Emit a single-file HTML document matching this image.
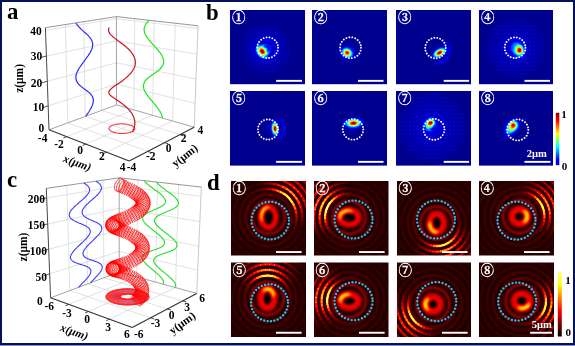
<!DOCTYPE html>
<html><head><meta charset="utf-8"><style>
html,body{margin:0;padding:0;background:#fff}
#fig{position:relative;width:575px;height:346px;overflow:hidden;background:#fff;font-family:"Liberation Serif",serif}
.bd{position:absolute;background:#04125c}
.lbl{position:absolute;font:bold 24px "Liberation Serif",serif;line-height:1;color:#000;transform:scaleX(0.95);transform-origin:0 0}
svg text{font-family:"Liberation Serif",serif;font-weight:bold}
</style></head><body><div id="fig">

<svg style="position:absolute;left:0px;top:0px" width="215" height="176" viewBox="0 0 215 176">
<line x1="67.8" y1="122.9" x2="65.4" y2="24.6" stroke="#d9d9d9" stroke-width="0.8"/>
<line x1="133.9" y1="109.9" x2="134.7" y2="18.6" stroke="#d9d9d9" stroke-width="0.8"/>
<line x1="66.6" y1="136.7" x2="133.9" y2="109.9" stroke="#d9d9d9" stroke-width="0.8"/>
<line x1="67.8" y1="122.9" x2="147.7" y2="151.3" stroke="#d9d9d9" stroke-width="0.8"/>
<line x1="85.3" y1="116.5" x2="83.7" y2="21.7" stroke="#d9d9d9" stroke-width="0.8"/>
<line x1="152.6" y1="115.3" x2="154.2" y2="20.9" stroke="#d9d9d9" stroke-width="0.8"/>
<line x1="85.8" y1="144.1" x2="152.6" y2="115.3" stroke="#d9d9d9" stroke-width="0.8"/>
<line x1="85.3" y1="116.5" x2="164.5" y2="142.6" stroke="#d9d9d9" stroke-width="0.8"/>
<line x1="101.5" y1="110.5" x2="100.7" y2="19.1" stroke="#d9d9d9" stroke-width="0.8"/>
<line x1="172.6" y1="121" x2="175.3" y2="23.2" stroke="#d9d9d9" stroke-width="0.8"/>
<line x1="106.6" y1="152.1" x2="172.6" y2="121" stroke="#d9d9d9" stroke-width="0.8"/>
<line x1="101.5" y1="110.5" x2="180" y2="134.6" stroke="#d9d9d9" stroke-width="0.8"/>
<line x1="48.1" y1="105.9" x2="116.5" y2="84.1" stroke="#d9d9d9" stroke-width="0.8"/>
<line x1="116.5" y1="84.1" x2="195.1" y2="103.4" stroke="#d9d9d9" stroke-width="0.8"/>
<line x1="47.3" y1="81.3" x2="116.5" y2="62.8" stroke="#d9d9d9" stroke-width="0.8"/>
<line x1="116.5" y1="62.8" x2="196" y2="79" stroke="#d9d9d9" stroke-width="0.8"/>
<line x1="46.4" y1="56.1" x2="116.5" y2="41" stroke="#d9d9d9" stroke-width="0.8"/>
<line x1="116.5" y1="41" x2="197" y2="54" stroke="#d9d9d9" stroke-width="0.8"/>
<line x1="45.5" y1="30.3" x2="116.4" y2="18.8" stroke="#d9d9d9" stroke-width="0.8"/>
<line x1="116.4" y1="18.8" x2="197.9" y2="28.4" stroke="#d9d9d9" stroke-width="0.8"/>
<line x1="116.5" y1="104.9" x2="116.4" y2="16.6" stroke="#9a9a9a" stroke-width="0.9"/>
<line x1="45.4" y1="27.7" x2="116.4" y2="16.6" stroke="#8a8a8a" stroke-width="0.9"/>
<line x1="116.4" y1="16.6" x2="198" y2="25.8" stroke="#8a8a8a" stroke-width="0.9"/>
<line x1="194.2" y1="127.2" x2="198" y2="25.8" stroke="#bdbdbd" stroke-width="0.8"/>
<line x1="49" y1="129.8" x2="116.5" y2="104.9" stroke="#9a9a9a" stroke-width="0.9"/>
<line x1="116.5" y1="104.9" x2="194.2" y2="127.2" stroke="#9a9a9a" stroke-width="0.9"/>
<line x1="49" y1="129.8" x2="45.4" y2="27.7" stroke="#4a4a4a" stroke-width="1.0"/>
<line x1="49" y1="129.8" x2="129.2" y2="160.9" stroke="#333" stroke-width="1.1"/>
<line x1="129.2" y1="160.9" x2="194.2" y2="127.2" stroke="#333" stroke-width="1.1"/>
<polyline points="131.9,131.8 132.5,131.5 133.1,131.2 133.6,130.9 134,130.5 134.3,130.1 134.5,129.8 134.7,129.4 134.8,129 134.8,128.6 134.7,128.2 134.5,127.9 134.3,127.5 134,127.1 133.6,126.8 133.1,126.4 132.6,126.1 132,125.8 131.3,125.5 130.6,125.2 129.8,125 129,124.7 128.1,124.5 127.3,124.3 126.3,124.2 125.4,124.1 124.4,124 123.4,123.9 122.4,123.8 121.4,123.8 120.4,123.8 119.5,123.9 118.5,124 117.5,124.1 116.6,124.2 115.7,124.3 114.9,124.5 114,124.7 113.3,125 112.5,125.2 111.9,125.5 111.3,125.8 110.7,126.1 110.3,126.4 109.9,126.8 109.5,127.1 109.3,127.5 109.1,127.8 109,128.2 109,128.6 109.1,129 109.2,129.4 109.5,129.8 109.8,130.1 110.2,130.5 110.6,130.8 111.2,131.2 111.8,131.5 112.5,131.8 113.2,132.1 114,132.4 114.9,132.6 115.8,132.8 116.7,133 117.7,133.2 118.7,133.3 119.7,133.4 120.8,133.5 121.8,133.5 122.9,133.5 123.9,133.5 125,133.4 126,133.3 126.9,133.2 127.9,133 128.8,132.8 129.7,132.6 130.5,132.4 131.2,132.1 131.9,131.8" fill="none" stroke="#f23c3c" stroke-width="1.1"/>
<polyline points="85.8,116.3 86.3,115.5 86.8,114.7 87.4,114 87.9,113.2 88.4,112.5 88.9,111.7 89.3,111 89.8,110.3 90.2,109.5 90.6,108.8 91,108.1 91.4,107.4 91.7,106.7 92,106.1 92.3,105.4 92.5,104.7 92.8,104.1 92.9,103.5 93.1,102.8 93.2,102.2 93.3,101.6 93.3,101 93.4,100.5 93.3,99.9 93.3,99.4 93.2,98.8 93.1,98.3 92.9,97.8 92.7,97.3 92.5,96.8 92.2,96.3 91.9,95.8 91.6,95.3 91.3,94.9 90.9,94.4 90.5,94 90.1,93.5 89.6,93.1 89.2,92.7 88.7,92.2 88.2,91.8 87.6,91.4 87.1,91 86.6,90.6 86,90.2 85.4,89.7 84.9,89.3 84.3,88.9 83.7,88.5 83.2,88.1 82.6,87.7 82.1,87.2 81.5,86.8 81,86.4 80.5,85.9 80,85.5 79.5,85 79.1,84.6 78.6,84.1 78.2,83.6 77.8,83.1 77.5,82.6 77.2,82.1 76.9,81.6 76.6,81.1 76.4,80.5 76.2,80 76.1,79.4 76,78.8 75.9,78.2 75.9,77.6 75.9,77 75.9,76.4 76,75.8 76.1,75.1 76.2,74.5 76.4,73.8 76.7,73.2 76.9,72.5 77.2,71.8 77.5,71.1 77.9,70.4 78.3,69.7 78.7,69 79.1,68.3 79.6,67.5 80.1,66.8 80.5,66.1 81.1,65.3 81.6,64.6 82.1,63.9 82.7,63.1 83.2,62.4 83.8,61.6 84.3,60.9 84.9,60.2 85.4,59.4 86,58.7 86.5,58 87,57.2 87.6,56.5 88.1,55.8 88.5,55.1 89,54.4 89.5,53.7 89.9,53 90.3,52.3 90.6,51.6 91,50.9 91.3,50.3 91.6,49.6 91.8,48.9 92.1,48.3 92.3,47.7 92.4,47 92.5,46.4 92.6,45.8 92.7,45.2 92.7,44.6 92.7,44 92.6,43.4 92.5,42.8 92.4,42.2 92.2,41.7 92,41.1 91.8,40.5 91.5,40 91.2,39.4 90.9,38.9 90.5,38.4 90.1,37.8 89.7,37.3 89.3,36.8 88.8,36.3 88.3,35.7 87.8,35.2 87.3,34.7 86.8,34.2 86.2,33.7 85.7,33.2 85.1,32.7 84.5,32.2 83.9,31.6 83.3,31.1 82.8,30.6 82.2,30.1 81.6,29.6 81,29 80.5,28.5 79.9,28 79.4,27.4 78.9,26.9 78.4,26.3 77.9,25.8 77.5,25.2 77.1,24.7 76.7,24.1 76.3,23.5 76,22.9" fill="none" stroke="#2b2bff" stroke-width="1.2"/>
<polyline points="162.4,118.1 162.4,117.5 162.3,116.9 162.2,116.3 162,115.7 161.8,115 161.5,114.4 161.2,113.7 160.9,113 160.5,112.3 160.1,111.7 159.7,111 159.2,110.2 158.8,109.5 158.2,108.8 157.7,108.1 157.1,107.4 156.6,106.6 156,105.9 155.4,105.1 154.8,104.4 154.1,103.7 153.5,102.9 152.9,102.2 152.3,101.4 151.6,100.7 151,100 150.4,99.2 149.8,98.5 149.2,97.8 148.7,97 148.1,96.3 147.6,95.6 147.1,94.9 146.6,94.2 146.2,93.5 145.8,92.9 145.4,92.2 145,91.5 144.7,90.9 144.4,90.2 144.1,89.6 143.9,89 143.7,88.4 143.6,87.8 143.5,87.2 143.5,86.6 143.4,86 143.5,85.4 143.5,84.9 143.6,84.3 143.8,83.8 144,83.2 144.2,82.7 144.4,82.2 144.7,81.7 145.1,81.2 145.4,80.7 145.8,80.2 146.3,79.7 146.7,79.2 147.2,78.8 147.8,78.3 148.3,77.8 148.9,77.4 149.4,76.9 150.1,76.4 150.7,76 151.3,75.5 151.9,75.1 152.6,74.6 153.2,74.2 153.9,73.7 154.6,73.3 155.2,72.8 155.9,72.3 156.5,71.9 157.1,71.4 157.7,70.9 158.3,70.5 158.9,70 159.5,69.5 160,69 160.5,68.5 161,68 161.4,67.4 161.8,66.9 162.2,66.4 162.5,65.8 162.8,65.3 163,64.7 163.3,64.2 163.4,63.6 163.6,63 163.6,62.4 163.7,61.8 163.7,61.2 163.6,60.5 163.5,59.9 163.4,59.3 163.2,58.6 163,58 162.7,57.3 162.4,56.7 162.1,56 161.7,55.3 161.3,54.6 160.9,53.9 160.4,53.2 159.9,52.5 159.3,51.8 158.8,51.1 158.2,50.4 157.6,49.7 157,49 156.4,48.3 155.8,47.6 155.1,46.9 154.5,46.2 153.8,45.4 153.2,44.7 152.6,44 151.9,43.3 151.3,42.6 150.7,41.9 150.1,41.2 149.5,40.5 148.9,39.8 148.4,39.1 147.9,38.5 147.4,37.8 146.9,37.1 146.5,36.4 146.1,35.8 145.7,35.1 145.4,34.5 145.1,33.8 144.8,33.2 144.6,32.6 144.4,31.9 144.3,31.3 144.2,30.7 144.2,30.1 144.1,29.5 144.2,28.9 144.2,28.3 144.3,27.7 144.5,27.1 144.7,26.5 144.9,25.9 145.2,25.3 145.5,24.8 145.8,24.2 146.2,23.6 146.6,23.1 147.1,22.5 147.6,22 148.1,21.4 148.6,20.8 149.2,20.3" fill="none" stroke="#19e619" stroke-width="1.2"/>
<polyline points="132.4,131.6 132.9,130.7 133.3,129.8 133.7,128.9 134,128 134.3,127.1 134.5,126.2 134.7,125.3 134.8,124.4 134.8,123.4 134.8,122.5 134.8,121.6 134.7,120.7 134.5,119.8 134.3,118.9 134,118 133.7,117.1 133.3,116.2 132.9,115.3 132.4,114.5 131.9,113.6 131.4,112.8 130.8,112 130.2,111.2 129.5,110.4 128.8,109.6 128.1,108.9 127.4,108.1 126.6,107.4 125.8,106.7 125,106 124.2,105.3 123.4,104.7 122.6,104 121.7,103.4 120.9,102.8 120.1,102.2 119.3,101.7 118.5,101.1 117.7,100.6 116.9,100.1 116.1,99.5 115.4,99.1 114.7,98.6 114,98.1 113.4,97.7 112.8,97.2 112.2,96.8 111.6,96.4 111.1,96 110.7,95.5 110.3,95.2 109.9,94.8 109.6,94.4 109.3,94 109.1,93.6 109,93.2 108.9,92.9 108.8,92.5 108.9,92.1 108.9,91.7 109.1,91.4 109.2,91 109.5,90.6 109.8,90.2 110.1,89.8 110.5,89.4 111,88.9 111.5,88.5 112,88 112.6,87.6 113.2,87.1 113.9,86.6 114.6,86.1 115.4,85.6 116.2,85.1 117,84.5 117.8,84 118.6,83.4 119.5,82.8 120.4,82.2 121.3,81.5 122.2,80.9 123.1,80.2 123.9,79.6 124.8,78.9 125.7,78.1 126.5,77.4 127.4,76.7 128.2,75.9 128.9,75.2 129.7,74.4 130.4,73.6 131.1,72.8 131.7,72 132.3,71.2 132.8,70.3 133.3,69.5 133.8,68.7 134.2,67.8 134.5,67 134.8,66.1 135,65.3 135.2,64.4 135.3,63.5 135.3,62.7 135.3,61.8 135.3,61 135.1,60.1 135,59.3 134.7,58.5 134.5,57.6 134.1,56.8 133.7,56 133.3,55.2 132.8,54.4 132.3,53.6 131.7,52.8 131.1,52 130.5,51.2 129.8,50.5 129.1,49.7 128.4,49 127.6,48.3 126.8,47.6 126,46.9 125.2,46.2 124.4,45.5 123.5,44.8 122.7,44.2 121.8,43.5 121,42.9 120.1,42.3 119.3,41.6 118.5,41 117.6,40.4 116.8,39.8 116.1,39.3 115.3,38.7 114.6,38.1 113.9,37.6 113.2,37 112.6,36.5 112,35.9 111.4,35.4 110.9,34.9 110.4,34.3 110,33.8 109.7,33.3 109.3,32.7 109.1,32.2 108.9,31.7 108.7,31.2 108.6,30.7 108.6,30.1 108.6,29.6 108.6,29.1 108.8,28.5 109,28 109.2,27.5" fill="none" stroke="#c4161c" stroke-width="1.2"/>
<line x1="48.1" y1="105.9" x2="42.1" y2="107.8" stroke="#444" stroke-width="0.9"/>
<line x1="47.3" y1="81.3" x2="41.2" y2="82.9" stroke="#444" stroke-width="0.9"/>
<line x1="46.4" y1="56.1" x2="40.2" y2="57.5" stroke="#444" stroke-width="0.9"/>
<line x1="66.6" y1="136.7" x2="63.5" y2="137.9" stroke="#333" stroke-width="0.9"/>
<line x1="147.7" y1="151.3" x2="151.5" y2="152.7" stroke="#333" stroke-width="0.9"/>
<line x1="85.8" y1="144.1" x2="82.6" y2="145.4" stroke="#333" stroke-width="0.9"/>
<line x1="164.5" y1="142.6" x2="168.3" y2="143.8" stroke="#333" stroke-width="0.9"/>
<line x1="106.6" y1="152.1" x2="103.4" y2="153.6" stroke="#333" stroke-width="0.9"/>
<line x1="180" y1="134.6" x2="183.7" y2="135.7" stroke="#333" stroke-width="0.9"/>
<g font-size="11.5" fill="#000"><text x="41.7" y="35.4" text-anchor="end">40</text>
<text x="42.3" y="60.3" text-anchor="end">30</text>
<text x="42.3" y="87" text-anchor="end">20</text>
<text x="44.3" y="111.3" text-anchor="end">10</text>
<text x="44.3" y="132.4" text-anchor="end">0</text>
<text x="42.6" y="142.2" text-anchor="middle">-4</text>
<text x="59" y="147.7" text-anchor="middle">-2</text>
<text x="80" y="153.9" text-anchor="middle">0</text>
<text x="101.8" y="160.4" text-anchor="middle">2</text>
<text x="122.5" y="171.2" text-anchor="middle">4</text>
<text x="131.5" y="171.2" text-anchor="middle">-4</text>
<text x="150.7" y="159.6" text-anchor="middle">-2</text>
<text x="168.7" y="152.3" text-anchor="middle">0</text>
<text x="183.6" y="141.9" text-anchor="middle">2</text>
<text x="200.3" y="134.1" text-anchor="middle">4</text>
<text x="0" y="0" text-anchor="middle" font-style="italic" transform="translate(76,166.5) rotate(20)">x(μm)</text>
<text x="0" y="0" text-anchor="middle" transform="translate(187,158.5) rotate(-38)">y(μm)</text>
<text x="0" y="0" text-anchor="middle" transform="translate(23.3,78.4) rotate(-90)">z(μm)</text></g>
</svg>
<svg style="position:absolute;left:0px;top:170px" width="215" height="176" viewBox="0 170 215 176">
<line x1="69.8" y1="290.6" x2="66.8" y2="185.4" stroke="#d9d9d9" stroke-width="0.8"/>
<line x1="136.8" y1="276.9" x2="137.7" y2="179.9" stroke="#d9d9d9" stroke-width="0.8"/>
<line x1="68.8" y1="304.4" x2="136.8" y2="276.9" stroke="#d9d9d9" stroke-width="0.8"/>
<line x1="69.8" y1="290.6" x2="150.6" y2="317.8" stroke="#d9d9d9" stroke-width="0.8"/>
<line x1="87.6" y1="283.9" x2="85.7" y2="182.7" stroke="#d9d9d9" stroke-width="0.8"/>
<line x1="155.5" y1="282.1" x2="157.5" y2="182.1" stroke="#d9d9d9" stroke-width="0.8"/>
<line x1="88.4" y1="311.5" x2="155.5" y2="282.1" stroke="#d9d9d9" stroke-width="0.8"/>
<line x1="87.6" y1="283.9" x2="167.3" y2="308.9" stroke="#d9d9d9" stroke-width="0.8"/>
<line x1="104" y1="277.8" x2="103.1" y2="180.1" stroke="#d9d9d9" stroke-width="0.8"/>
<line x1="175.5" y1="287.6" x2="178.7" y2="184.5" stroke="#d9d9d9" stroke-width="0.8"/>
<line x1="109.4" y1="319.2" x2="175.5" y2="287.6" stroke="#d9d9d9" stroke-width="0.8"/>
<line x1="104" y1="277.8" x2="182.7" y2="300.9" stroke="#d9d9d9" stroke-width="0.8"/>
<line x1="49.7" y1="273.9" x2="119.2" y2="251.3" stroke="#d9d9d9" stroke-width="0.8"/>
<line x1="119.2" y1="251.3" x2="197.8" y2="270.1" stroke="#d9d9d9" stroke-width="0.8"/>
<line x1="48.7" y1="249.3" x2="119.2" y2="230" stroke="#d9d9d9" stroke-width="0.8"/>
<line x1="119.2" y1="230" x2="198.8" y2="246.2" stroke="#d9d9d9" stroke-width="0.8"/>
<line x1="47.7" y1="224" x2="119.2" y2="208.2" stroke="#d9d9d9" stroke-width="0.8"/>
<line x1="119.2" y1="208.2" x2="199.9" y2="221.6" stroke="#d9d9d9" stroke-width="0.8"/>
<line x1="46.7" y1="198" x2="119.2" y2="185.9" stroke="#d9d9d9" stroke-width="0.8"/>
<line x1="119.2" y1="185.9" x2="201" y2="196.3" stroke="#d9d9d9" stroke-width="0.8"/>
<line x1="119.2" y1="272" x2="119.2" y2="177.8" stroke="#9a9a9a" stroke-width="0.9"/>
<line x1="46.3" y1="188.4" x2="119.2" y2="177.8" stroke="#8a8a8a" stroke-width="0.9"/>
<line x1="119.2" y1="177.8" x2="201.4" y2="187.1" stroke="#8a8a8a" stroke-width="0.9"/>
<line x1="196.7" y1="293.4" x2="201.4" y2="187.1" stroke="#bdbdbd" stroke-width="0.8"/>
<line x1="50.6" y1="297.8" x2="119.2" y2="272" stroke="#9a9a9a" stroke-width="0.9"/>
<line x1="119.2" y1="272" x2="196.7" y2="293.4" stroke="#9a9a9a" stroke-width="0.9"/>
<line x1="50.6" y1="297.8" x2="46.3" y2="188.4" stroke="#4a4a4a" stroke-width="1.0"/>
<line x1="50.6" y1="297.8" x2="132.2" y2="327.5" stroke="#333" stroke-width="1.1"/>
<line x1="132.2" y1="327.5" x2="196.7" y2="293.4" stroke="#333" stroke-width="1.1"/>
<polyline points="78.5,287.3 79,286.8 79.5,286.3 80,285.8 80.5,285.3 81,284.7 81.5,284.2 82,283.7 82.5,283.2 83,282.7 83.5,282.2 84,281.7 84.5,281.2 85,280.7 85.4,280.2 85.9,279.7 86.3,279.2 86.7,278.7 87.1,278.3 87.5,277.8 87.9,277.3 88.2,276.9 88.6,276.4 88.9,276 89.2,275.6 89.4,275.2 89.7,274.7 89.9,274.3 90.1,273.9 90.3,273.5 90.5,273.2 90.6,272.8 90.7,272.4 90.8,272.1 90.9,271.7 90.9,271.4 90.9,271.1 90.9,270.8 90.8,270.5 90.8,270.2 90.7,269.9 90.6,269.6 90.4,269.3 90.2,269 90,268.8 89.8,268.5 89.6,268.3 89.3,268 89,267.8 88.7,267.6 88.4,267.4 88,267.2 87.7,267 87.3,266.8 86.9,266.6 86.5,266.4 86,266.2 85.6,266 85.1,265.8 84.6,265.7 84.2,265.5 83.7,265.3 83.2,265.2 82.6,265 82.1,264.8 81.6,264.7 81.1,264.5 80.5,264.4 80,264.2 79.5,264 79,263.9 78.5,263.7 77.9,263.5 77.4,263.3 76.9,263.2 76.4,263 76,262.8 75.5,262.6 75,262.4 74.6,262.2 74.2,262 73.8,261.8 73.4,261.6 73,261.3 72.7,261.1 72.4,260.9 72.1,260.6 71.8,260.4 71.5,260.1 71.3,259.8 71.1,259.5 70.9,259.2 70.8,258.9 70.7,258.6 70.6,258.3 70.5,258 70.5,257.7 70.5,257.3 70.5,257 70.5,256.6 70.6,256.2 70.7,255.9 70.9,255.5 71,255.1 71.2,254.7 71.4,254.3 71.7,253.8 71.9,253.4 72.2,253 72.5,252.5 72.9,252.1 73.2,251.7 73.6,251.2 74,250.7 74.4,250.3 74.8,249.8 75.3,249.3 75.7,248.9 76.2,248.4 76.7,247.9 77.2,247.4 77.6,246.9 78.2,246.4 78.7,245.9 79.2,245.5 79.7,245 80.2,244.5 80.7,244 81.2,243.5 81.8,243 82.3,242.5 82.8,242.1 83.3,241.6 83.8,241.1 84.2,240.6 84.7,240.2 85.2,239.7 85.6,239.2 86,238.8 86.4,238.3 86.8,237.9 87.2,237.4 87.6,237 87.9,236.6 88.2,236.2 88.5,235.7 88.8,235.3 89.1,234.9 89.3,234.5 89.5,234.1 89.7,233.7 89.8,233.4 90,233 90.1,232.6 90.2,232.3 90.2,231.9 90.2,231.6 90.2,231.2 90.2,230.9 90.2,230.6 90.1,230.2 90,229.9 89.9,229.6 89.7,229.3 89.5,229 89.3,228.7 89.1,228.5 88.8,228.2 88.6,227.9 88.3,227.6 88,227.4 87.6,227.1 87.3,226.9 86.9,226.6 86.5,226.4 86.1,226.1 85.6,225.9 85.2,225.7 84.7,225.4 84.2,225.2 83.7,225 83.2,224.8 82.7,224.5 82.2,224.3 81.7,224.1 81.2,223.9 80.6,223.6 80.1,223.4 79.5,223.2 79,223 78.5,222.7 77.9,222.5 77.4,222.3 76.9,222.1 76.3,221.8 75.8,221.6 75.3,221.3 74.8,221.1 74.4,220.9 73.9,220.6 73.5,220.3 73,220.1 72.6,219.8 72.2,219.6 71.9,219.3 71.5,219 71.2,218.7 70.9,218.4 70.6,218.1 70.3,217.8 70.1,217.5 69.9,217.2 69.7,216.9 69.6,216.5 69.5,216.2 69.4,215.9 69.3,215.5 69.3,215.2 69.3,214.8 69.3,214.4 69.4,214.1 69.5,213.7 69.6,213.3 69.7,212.9 69.9,212.5 70.1,212.1 70.3,211.7 70.6,211.3 70.8,210.9 71.1,210.4 71.5,210 71.8,209.6 72.2,209.1 72.6,208.7 73,208.3 73.4,207.8 73.8,207.4 74.3,206.9 74.7,206.5 75.2,206 75.7,205.6 76.2,205.1 76.7,204.6 77.3,204.2 77.8,203.7 78.3,203.3 78.8,202.8 79.4,202.4 79.9,201.9 80.4,201.4 81,201 81.5,200.5 82,200.1 82.5,199.6 83,199.2 83.5,198.7 84,198.3 84.4,197.9 84.9,197.4 85.3,197 85.7,196.6 86.1,196.1 86.5,195.7 86.9,195.3 87.2,194.9 87.5,194.5 87.8,194.1 88.1,193.7 88.4,193.3 88.6,192.9 88.8,192.5 89,192.1 89.2,191.7 89.3,191.4 89.4,191 89.5,190.6 89.5,190.3 89.6,189.9 89.6,189.5 89.5,189.2 89.5,188.9 89.4,188.5 89.3,188.2 89.1,187.8 89,187.5 88.8,187.2 88.6,186.9 88.3,186.5 88.1,186.2 87.8,185.9 87.5,185.6 87.2,185.3 86.8,185 86.4,184.7 86,184.4 85.6,184.1 85.2,183.8 84.7,183.5 84.3,183.2 83.8,182.9" fill="none" stroke="#3b3bff" stroke-width="1.1"/>
<polyline points="90.4,282.9 90.9,282.4 91.4,281.9 91.8,281.4 92.3,280.9 92.8,280.4 93.3,279.9 93.8,279.4 94.2,278.9 94.7,278.4 95.2,277.9 95.6,277.4 96.1,276.9 96.5,276.4 97,276 97.4,275.5 97.8,275 98.2,274.6 98.6,274.1 99,273.6 99.3,273.2 99.7,272.8 100,272.3 100.3,271.9 100.6,271.5 100.8,271.1 101.1,270.7 101.3,270.3 101.5,269.9 101.7,269.5 101.8,269.2 101.9,268.8 102,268.4 102.1,268.1 102.2,267.8 102.2,267.4 102.2,267.1 102.2,266.8 102.2,266.5 102.1,266.2 102,265.9 101.9,265.7 101.8,265.4 101.6,265.1 101.4,264.9 101.2,264.6 101,264.4 100.7,264.1 100.5,263.9 100.2,263.7 99.9,263.5 99.5,263.3 99.2,263.1 98.8,262.9 98.5,262.7 98.1,262.5 97.6,262.3 97.2,262.1 96.8,262 96.3,261.8 95.9,261.6 95.4,261.5 94.9,261.3 94.4,261.1 94,261 93.5,260.8 93,260.6 92.5,260.5 92,260.3 91.5,260.1 91,260 90.5,259.8 90,259.6 89.5,259.5 89.1,259.3 88.6,259.1 88.1,258.9 87.7,258.7 87.3,258.5 86.9,258.3 86.5,258.1 86.1,257.9 85.7,257.7 85.4,257.5 85.1,257.2 84.8,257 84.5,256.7 84.2,256.5 84,256.2 83.8,256 83.6,255.7 83.4,255.4 83.3,255.1 83.2,254.8 83.1,254.5 83,254.2 83,253.8 83,253.5 83,253.2 83.1,252.8 83.1,252.5 83.2,252.1 83.4,251.7 83.5,251.3 83.7,250.9 83.9,250.5 84.1,250.1 84.4,249.7 84.7,249.3 85,248.9 85.3,248.5 85.6,248 86,247.6 86.3,247.1 86.7,246.7 87.1,246.2 87.6,245.8 88,245.3 88.4,244.8 88.9,244.4 89.4,243.9 89.8,243.4 90.3,243 90.8,242.5 91.3,242 91.8,241.6 92.3,241.1 92.8,240.6 93.3,240.1 93.7,239.7 94.2,239.2 94.7,238.7 95.2,238.3 95.6,237.8 96.1,237.4 96.5,236.9 97,236.5 97.4,236 97.8,235.6 98.2,235.1 98.6,234.7 98.9,234.3 99.3,233.8 99.6,233.4 99.9,233 100.2,232.6 100.4,232.2 100.7,231.8 100.9,231.4 101.1,231.1 101.3,230.7 101.4,230.3 101.6,229.9 101.7,229.6 101.7,229.2 101.8,228.9 101.8,228.6 101.8,228.2 101.8,227.9 101.8,227.6 101.7,227.3 101.6,227 101.5,226.7 101.3,226.4 101.2,226.1 101,225.8 100.8,225.5 100.5,225.3 100.3,225 100,224.7 99.7,224.5 99.4,224.2 99,224 98.7,223.7 98.3,223.5 97.9,223.2 97.5,223 97.1,222.8 96.6,222.5 96.2,222.3 95.7,222.1 95.2,221.9 94.8,221.7 94.3,221.4 93.8,221.2 93.3,221 92.8,220.8 92.3,220.5 91.8,220.3 91.2,220.1 90.7,219.9 90.2,219.7 89.7,219.4 89.2,219.2 88.7,219 88.3,218.7 87.8,218.5 87.3,218.3 86.9,218 86.5,217.8 86,217.5 85.6,217.3 85.2,217 84.9,216.7 84.5,216.5 84.2,216.2 83.9,215.9 83.6,215.6 83.3,215.3 83.1,215 82.9,214.7 82.7,214.4 82.5,214.1 82.4,213.8 82.3,213.5 82.2,213.1 82.2,212.8 82.1,212.4 82.1,212.1 82.2,211.7 82.2,211.4 82.3,211 82.4,210.6 82.5,210.2 82.7,209.9 82.9,209.5 83.1,209.1 83.3,208.7 83.6,208.3 83.9,207.9 84.2,207.4 84.5,207 84.9,206.6 85.2,206.2 85.6,205.7 86,205.3 86.5,204.9 86.9,204.4 87.3,204 87.8,203.6 88.3,203.1 88.7,202.7 89.2,202.2 89.7,201.8 90.2,201.4 90.7,200.9 91.2,200.5 91.7,200 92.2,199.6 92.7,199.1 93.2,198.7 93.7,198.3 94.2,197.8 94.7,197.4 95.2,197 95.6,196.5 96.1,196.1 96.5,195.7 97,195.3 97.4,194.8 97.8,194.4 98.1,194 98.5,193.6 98.9,193.2 99.2,192.8 99.5,192.4 99.8,192 100.1,191.6 100.3,191.2 100.5,190.8 100.7,190.5 100.9,190.1 101,189.7 101.2,189.4 101.3,189 101.3,188.6 101.4,188.3 101.4,187.9 101.4,187.6 101.4,187.3 101.3,186.9 101.3,186.6 101.2,186.3 101,185.9 100.9,185.6 100.7,185.3 100.5,185 100.3,184.7 100,184.4 99.8,184.1 99.5,183.8 99.2,183.5 98.8,183.2 98.5,182.9 98.1,182.6 97.7,182.3 97.3,182 96.9,181.7 96.5,181.4 96,181.1" fill="none" stroke="#3b3bff" stroke-width="1.1"/>
<polyline points="162.9,284.1 163.1,283.8 163.2,283.5 163.4,283.3 163.4,283 163.5,282.6 163.5,282.3 163.5,282 163.4,281.7 163.4,281.3 163.3,281 163.1,280.6 163,280.2 162.8,279.9 162.5,279.5 162.3,279.1 162,278.7 161.7,278.3 161.4,277.9 161.1,277.5 160.7,277 160.3,276.6 159.9,276.2 159.5,275.8 159,275.3 158.5,274.9 158.1,274.4 157.6,274 157.1,273.5 156.5,273.1 156,272.6 155.5,272.1 154.9,271.7 154.4,271.2 153.8,270.7 153.3,270.3 152.7,269.8 152.1,269.3 151.6,268.9 151,268.4 150.5,268 150,267.5 149.4,267.1 148.9,266.6 148.4,266.2 147.9,265.7 147.4,265.3 146.9,264.8 146.5,264.4 146.1,264 145.6,263.5 145.3,263.1 144.9,262.7 144.5,262.3 144.2,261.9 143.9,261.5 143.6,261.1 143.3,260.7 143.1,260.4 142.9,260 142.7,259.6 142.5,259.3 142.4,258.9 142.3,258.6 142.2,258.3 142.2,257.9 142.2,257.6 142.2,257.3 142.2,257 142.3,256.7 142.4,256.4 142.5,256.1 142.7,255.8 142.9,255.5 143.1,255.3 143.3,255 143.6,254.7 143.9,254.5 144.2,254.2 144.5,254 144.9,253.8 145.2,253.5 145.6,253.3 146.1,253.1 146.5,252.9 147,252.6 147.4,252.4 147.9,252.2 148.4,252 148.9,251.8 149.5,251.6 150,251.4 150.6,251.2 151.1,251 151.7,250.8 152.3,250.6 152.8,250.4 153.4,250.2 154,250 154.6,249.8 155.1,249.6 155.7,249.4 156.3,249.2 156.8,249 157.4,248.8 157.9,248.6 158.4,248.4 158.9,248.1 159.4,247.9 159.9,247.7 160.4,247.5 160.8,247.2 161.2,247 161.6,246.7 162,246.5 162.4,246.2 162.7,246 163,245.7 163.3,245.4 163.5,245.1 163.7,244.8 163.9,244.5 164.1,244.2 164.2,243.9 164.3,243.6 164.4,243.3 164.4,243 164.5,242.6 164.4,242.3 164.4,241.9 164.3,241.6 164.2,241.2 164.1,240.9 163.9,240.5 163.7,240.1 163.5,239.7 163.2,239.3 162.9,238.9 162.6,238.5 162.3,238.1 161.9,237.7 161.5,237.3 161.1,236.9 160.7,236.5 160.3,236 159.8,235.6 159.3,235.2 158.8,234.8 158.3,234.3 157.8,233.9 157.2,233.4 156.7,233 156.2,232.5 155.6,232.1 155,231.7 154.5,231.2 153.9,230.8 153.3,230.3 152.8,229.9 152.2,229.4 151.6,229 151.1,228.6 150.5,228.1 150,227.7 149.4,227.2 148.9,226.8 148.4,226.4 147.9,226 147.5,225.5 147,225.1 146.6,224.7 146.1,224.3 145.7,223.9 145.4,223.5 145,223.1 144.7,222.7 144.3,222.3 144.1,221.9 143.8,221.5 143.6,221.2 143.3,220.8 143.2,220.4 143,220.1 142.9,219.7 142.8,219.4 142.7,219 142.7,218.7 142.7,218.4 142.7,218 142.7,217.7 142.8,217.4 142.9,217.1 143,216.8 143.2,216.5 143.4,216.2 143.6,215.9 143.9,215.6 144.1,215.3 144.4,215 144.7,214.7 145.1,214.4 145.5,214.2 145.9,213.9 146.3,213.6 146.7,213.4 147.2,213.1 147.6,212.8 148.1,212.6 148.6,212.3 149.1,212.1 149.7,211.8 150.2,211.6 150.8,211.3 151.3,211.1 151.9,210.8 152.5,210.6 153.1,210.3 153.7,210.1 154.3,209.8 154.8,209.6 155.4,209.3 156,209.1 156.6,208.8 157.2,208.6 157.7,208.3 158.3,208.1 158.8,207.8 159.4,207.5 159.9,207.3 160.4,207 160.9,206.7 161.4,206.5 161.8,206.2 162.2,205.9 162.6,205.6 163,205.3 163.4,205 163.7,204.7 164,204.4 164.3,204.1 164.5,203.8 164.8,203.5 165,203.2 165.1,202.8 165.3,202.5 165.4,202.2 165.4,201.8 165.5,201.5 165.5,201.1 165.4,200.8 165.4,200.4 165.3,200 165.2,199.7 165,199.3 164.9,198.9 164.6,198.5 164.4,198.2 164.1,197.8 163.8,197.4 163.5,197 163.2,196.6 162.8,196.2 162.4,195.8 162,195.4 161.6,194.9 161.1,194.5 160.6,194.1 160.1,193.7 159.6,193.3 159.1,192.9 158.5,192.4 158,192 157.4,191.6 156.9,191.2 156.3,190.8 155.7,190.3 155.1,189.9 154.6,189.5 154,189.1 153.4,188.6 152.8,188.2 152.2,187.8 151.7,187.4 151.1,187 150.6,186.5 150,186.1 149.5,185.7 149,185.3 148.5,184.9 148,184.5 147.5,184.1 147.1,183.7 146.6,183.3 146.2,182.9 145.8,182.5 145.5,182.1 145.1,181.7 144.8,181.4 144.5,181 144.3,180.6" fill="none" stroke="#22dd22" stroke-width="1.1"/>
<polyline points="175.2,287.5 175.4,287.2 175.5,286.9 175.6,286.6 175.7,286.3 175.7,286 175.8,285.7 175.8,285.3 175.7,285 175.6,284.7 175.5,284.3 175.4,283.9 175.2,283.6 175,283.2 174.8,282.8 174.6,282.4 174.3,282 174,281.6 173.6,281.1 173.3,280.7 172.9,280.3 172.5,279.9 172.1,279.4 171.6,279 171.1,278.5 170.7,278.1 170.2,277.6 169.6,277.1 169.1,276.7 168.6,276.2 168,275.7 167.5,275.3 166.9,274.8 166.3,274.3 165.8,273.8 165.2,273.4 164.6,272.9 164,272.4 163.5,271.9 162.9,271.5 162.3,271 161.8,270.5 161.2,270.1 160.7,269.6 160.2,269.1 159.6,268.7 159.1,268.2 158.7,267.8 158.2,267.3 157.7,266.9 157.3,266.5 156.9,266 156.5,265.6 156.1,265.2 155.8,264.8 155.5,264.4 155.2,264 154.9,263.6 154.7,263.2 154.5,262.8 154.3,262.5 154.1,262.1 154,261.8 153.9,261.4 153.8,261.1 153.8,260.7 153.8,260.4 153.8,260.1 153.8,259.8 153.9,259.5 154,259.2 154.1,258.9 154.3,258.6 154.5,258.3 154.7,258 154.9,257.8 155.2,257.5 155.5,257.2 155.8,257 156.2,256.7 156.5,256.5 156.9,256.3 157.4,256 157.8,255.8 158.3,255.6 158.7,255.4 159.2,255.2 159.7,254.9 160.3,254.7 160.8,254.5 161.4,254.3 161.9,254.1 162.5,253.9 163.1,253.7 163.7,253.5 164.3,253.3 164.9,253.1 165.5,252.9 166.1,252.7 166.7,252.5 167.3,252.3 167.9,252.1 168.5,251.9 169,251.7 169.6,251.5 170.2,251.3 170.7,251.1 171.2,250.8 171.8,250.6 172.3,250.4 172.7,250.2 173.2,249.9 173.6,249.7 174.1,249.4 174.5,249.2 174.8,248.9 175.2,248.6 175.5,248.4 175.8,248.1 176,247.8 176.3,247.5 176.5,247.2 176.6,246.9 176.8,246.6 176.9,246.3 177,245.9 177,245.6 177,245.3 177,244.9 177,244.6 176.9,244.2 176.8,243.8 176.6,243.5 176.5,243.1 176.2,242.7 176,242.3 175.7,241.9 175.5,241.5 175.1,241.1 174.8,240.7 174.4,240.3 174,239.8 173.6,239.4 173.2,239 172.7,238.5 172.2,238.1 171.7,237.7 171.2,237.2 170.7,236.8 170.1,236.3 169.6,235.9 169,235.4 168.4,234.9 167.9,234.5 167.3,234 166.7,233.6 166.1,233.1 165.5,232.7 164.9,232.2 164.3,231.8 163.8,231.3 163.2,230.9 162.6,230.4 162,230 161.5,229.5 161,229.1 160.4,228.6 159.9,228.2 159.4,227.8 159,227.3 158.5,226.9 158.1,226.5 157.7,226.1 157.3,225.7 156.9,225.3 156.5,224.9 156.2,224.5 155.9,224.1 155.6,223.7 155.4,223.3 155.2,222.9 155,222.6 154.8,222.2 154.7,221.8 154.6,221.5 154.5,221.1 154.5,220.8 154.5,220.4 154.5,220.1 154.6,219.8 154.7,219.5 154.8,219.1 154.9,218.8 155.1,218.5 155.3,218.2 155.5,217.9 155.8,217.6 156,217.3 156.3,217 156.7,216.7 157,216.5 157.4,216.2 157.8,215.9 158.3,215.6 158.7,215.4 159.2,215.1 159.7,214.8 160.2,214.6 160.7,214.3 161.3,214.1 161.8,213.8 162.4,213.6 163,213.3 163.6,213.1 164.2,212.8 164.8,212.6 165.4,212.3 166,212.1 166.6,211.8 167.2,211.6 167.8,211.3 168.5,211.1 169.1,210.8 169.7,210.5 170.3,210.3 170.8,210 171.4,209.8 172,209.5 172.5,209.2 173,208.9 173.5,208.7 174,208.4 174.5,208.1 175,207.8 175.4,207.5 175.8,207.2 176.2,206.9 176.5,206.6 176.8,206.3 177.1,206 177.4,205.7 177.6,205.4 177.8,205 178,204.7 178.1,204.4 178.2,204 178.3,203.7 178.4,203.3 178.4,203 178.3,202.6 178.3,202.2 178.2,201.8 178.1,201.5 177.9,201.1 177.7,200.7 177.5,200.3 177.3,199.9 177,199.5 176.7,199.1 176.4,198.7 176,198.3 175.6,197.9 175.2,197.5 174.8,197.1 174.3,196.6 173.8,196.2 173.3,195.8 172.8,195.4 172.3,194.9 171.8,194.5 171.2,194.1 170.6,193.7 170.1,193.2 169.5,192.8 168.9,192.4 168.3,191.9 167.7,191.5 167.1,191.1 166.5,190.6 165.9,190.2 165.3,189.8 164.7,189.3 164.1,188.9 163.5,188.5 162.9,188 162.4,187.6 161.8,187.2 161.3,186.8 160.8,186.4 160.3,186 159.8,185.5 159.3,185.1 158.9,184.7 158.4,184.3 158,183.9 157.7,183.5 157.3,183.1 157,182.7 156.7,182.4 156.4,182" fill="none" stroke="#22dd22" stroke-width="1.1"/>
<g fill="none" stroke="#ff2020" stroke-width="0.5"><ellipse cx="138.7" cy="300.1" rx="7.53" ry="2.86" transform="rotate(-179 138.7 300.1)"/><ellipse cx="139.5" cy="299.7" rx="7.51" ry="2.84" transform="rotate(-179 139.5 299.7)"/><ellipse cx="140.1" cy="299.3" rx="7.50" ry="2.83" transform="rotate(-179 140.1 299.3)"/><ellipse cx="140.7" cy="298.9" rx="7.48" ry="2.82" transform="rotate(-179 140.7 298.9)"/><ellipse cx="141.1" cy="298.4" rx="7.46" ry="2.80" transform="rotate(-179 141.1 298.4)"/><ellipse cx="141.5" cy="297.9" rx="7.44" ry="2.79" transform="rotate(-179 141.5 297.9)"/><ellipse cx="141.7" cy="297.5" rx="7.42" ry="2.78" transform="rotate(-179 141.7 297.5)"/><ellipse cx="141.8" cy="297.0" rx="7.40" ry="2.76" transform="rotate(-179 141.8 297.0)"/><ellipse cx="141.8" cy="296.5" rx="7.38" ry="2.75" transform="rotate(-179 141.8 296.5)"/><ellipse cx="141.7" cy="296.0" rx="7.36" ry="2.73" transform="rotate(-179 141.7 296.0)"/><ellipse cx="141.4" cy="295.6" rx="7.34" ry="2.72" transform="rotate(-179 141.4 295.6)"/><ellipse cx="141.1" cy="295.1" rx="7.32" ry="2.70" transform="rotate(-179 141.1 295.1)"/><ellipse cx="140.6" cy="294.7" rx="7.31" ry="2.69" transform="rotate(-179 140.6 294.7)"/><ellipse cx="140.1" cy="294.2" rx="7.29" ry="2.68" transform="rotate(-179 140.1 294.2)"/><ellipse cx="139.4" cy="293.8" rx="7.27" ry="2.67" transform="rotate(-179 139.4 293.8)"/><ellipse cx="138.6" cy="293.4" rx="7.26" ry="2.65" transform="rotate(-179 138.6 293.4)"/><ellipse cx="137.8" cy="293.1" rx="7.24" ry="2.64" transform="rotate(-179 137.8 293.1)"/><ellipse cx="136.9" cy="292.8" rx="7.23" ry="2.63" transform="rotate(-179 136.9 292.8)"/><ellipse cx="135.9" cy="292.5" rx="7.22" ry="2.63" transform="rotate(-179 135.9 292.5)"/><ellipse cx="134.9" cy="292.2" rx="7.20" ry="2.62" transform="rotate(-179 134.9 292.2)"/><ellipse cx="133.8" cy="292.0" rx="7.20" ry="2.61" transform="rotate(-179 133.8 292.0)"/><ellipse cx="132.6" cy="291.8" rx="7.19" ry="2.61" transform="rotate(-179 132.6 291.8)"/><ellipse cx="131.4" cy="291.6" rx="7.18" ry="2.60" transform="rotate(-180 131.4 291.6)"/><ellipse cx="130.2" cy="291.5" rx="7.18" ry="2.60" transform="rotate(-180 130.2 291.5)"/><ellipse cx="129.0" cy="291.4" rx="7.17" ry="2.60" transform="rotate(-180 129.0 291.4)"/><ellipse cx="127.7" cy="291.4" rx="7.17" ry="2.60" transform="rotate(-180 127.7 291.4)"/><ellipse cx="126.5" cy="291.4" rx="7.17" ry="2.60" transform="rotate(-180 126.5 291.4)"/><ellipse cx="125.3" cy="291.4" rx="7.18" ry="2.60" transform="rotate(-180 125.3 291.4)"/><ellipse cx="124.0" cy="291.5" rx="7.18" ry="2.60" transform="rotate(-180 124.0 291.5)"/><ellipse cx="122.8" cy="291.7" rx="7.18" ry="2.60" transform="rotate(-180 122.8 291.7)"/><ellipse cx="121.7" cy="291.8" rx="7.19" ry="2.61" transform="rotate(-180 121.7 291.8)"/><ellipse cx="120.5" cy="292.0" rx="7.20" ry="2.62" transform="rotate(180 120.5 292.0)"/><ellipse cx="119.5" cy="292.3" rx="7.21" ry="2.62" transform="rotate(180 119.5 292.3)"/><ellipse cx="118.5" cy="292.5" rx="7.22" ry="2.63" transform="rotate(180 118.5 292.5)"/><ellipse cx="117.5" cy="292.8" rx="7.24" ry="2.64" transform="rotate(180 117.5 292.8)"/><ellipse cx="116.6" cy="293.2" rx="7.25" ry="2.65" transform="rotate(180 116.6 293.2)"/><ellipse cx="115.9" cy="293.6" rx="7.27" ry="2.66" transform="rotate(180 115.9 293.6)"/><ellipse cx="115.2" cy="293.9" rx="7.28" ry="2.67" transform="rotate(180 115.2 293.9)"/><ellipse cx="114.6" cy="294.4" rx="7.30" ry="2.69" transform="rotate(180 114.6 294.4)"/><ellipse cx="114.1" cy="294.8" rx="7.32" ry="2.70" transform="rotate(180 114.1 294.8)"/><ellipse cx="113.7" cy="295.2" rx="7.34" ry="2.71" transform="rotate(180 113.7 295.2)"/><ellipse cx="113.4" cy="295.7" rx="7.35" ry="2.73" transform="rotate(180 113.4 295.7)"/><ellipse cx="113.2" cy="296.2" rx="7.37" ry="2.74" transform="rotate(180 113.2 296.2)"/><ellipse cx="113.1" cy="296.7" rx="7.39" ry="2.75" transform="rotate(180 113.1 296.7)"/><ellipse cx="113.2" cy="297.1" rx="7.41" ry="2.77" transform="rotate(180 113.2 297.1)"/><ellipse cx="113.3" cy="297.6" rx="7.43" ry="2.78" transform="rotate(180 113.3 297.6)"/><ellipse cx="113.6" cy="298.1" rx="7.45" ry="2.80" transform="rotate(180 113.6 298.1)"/><ellipse cx="114.0" cy="298.5" rx="7.47" ry="2.81" transform="rotate(180 114.0 298.5)"/><ellipse cx="114.5" cy="299.0" rx="7.49" ry="2.83" transform="rotate(180 114.5 299.0)"/><ellipse cx="115.2" cy="299.4" rx="7.51" ry="2.84" transform="rotate(180 115.2 299.4)"/><ellipse cx="115.9" cy="299.8" rx="7.52" ry="2.85" transform="rotate(180 115.9 299.8)"/><ellipse cx="116.7" cy="300.2" rx="7.54" ry="2.86" transform="rotate(180 116.7 300.2)"/><ellipse cx="117.6" cy="300.6" rx="7.55" ry="2.88" transform="rotate(180 117.6 300.6)"/><ellipse cx="118.6" cy="300.9" rx="7.56" ry="2.89" transform="rotate(180 118.6 300.9)"/><ellipse cx="119.7" cy="301.2" rx="7.57" ry="2.89" transform="rotate(180 119.7 301.2)"/><ellipse cx="120.8" cy="301.4" rx="7.58" ry="2.90" transform="rotate(180 120.8 301.4)"/><ellipse cx="122.0" cy="301.7" rx="7.59" ry="2.91" transform="rotate(-180 122.0 301.7)"/><ellipse cx="123.3" cy="301.8" rx="7.60" ry="2.91" transform="rotate(-180 123.3 301.8)"/><ellipse cx="124.5" cy="302.0" rx="7.60" ry="2.92" transform="rotate(-180 124.5 302.0)"/><ellipse cx="125.8" cy="302.0" rx="7.61" ry="2.92" transform="rotate(-180 125.8 302.0)"/><ellipse cx="127.2" cy="302.1" rx="7.61" ry="2.92" transform="rotate(-180 127.2 302.1)"/><ellipse cx="128.5" cy="302.1" rx="7.61" ry="2.92" transform="rotate(-180 128.5 302.1)"/><ellipse cx="129.8" cy="302.0" rx="7.61" ry="2.92" transform="rotate(-180 129.8 302.0)"/><ellipse cx="131.1" cy="301.9" rx="7.60" ry="2.92" transform="rotate(-180 131.1 301.9)"/><ellipse cx="132.4" cy="301.8" rx="7.60" ry="2.91" transform="rotate(-179 132.4 301.8)"/><ellipse cx="133.6" cy="301.6" rx="7.59" ry="2.90" transform="rotate(-179 133.6 301.6)"/><ellipse cx="134.8" cy="301.4" rx="7.58" ry="2.90" transform="rotate(-179 134.8 301.4)"/><ellipse cx="135.9" cy="301.1" rx="7.57" ry="2.89" transform="rotate(-179 135.9 301.1)"/><ellipse cx="136.9" cy="300.8" rx="7.56" ry="2.88" transform="rotate(-179 136.9 300.8)"/><ellipse cx="137.8" cy="300.5" rx="7.54" ry="2.87" transform="rotate(-179 137.8 300.5)"/></g>
<polyline points="138.7,300.1 139.6,299.6 140.4,299.1 141,298.6 141.4,298 141.7,297.5 141.8,296.9 141.8,296.3 141.6,295.8 141.2,295.2 140.7,294.7 140,294.2 139.2,293.7 138.3,293.3 137.3,292.9 136.1,292.5 134.9,292.2 133.6,291.9 132.2,291.7 130.8,291.5 129.3,291.4 127.8,291.4 126.4,291.4 124.9,291.5 123.5,291.6 122.1,291.7 120.7,292 119.4,292.3 118.2,292.6 117.1,293 116.2,293.4 115.3,293.8 114.6,294.3 114,294.8 113.5,295.4 113.3,295.9 113.1,296.5 113.2,297.1 113.4,297.6 113.7,298.2 114.2,298.7 114.9,299.3 115.7,299.7 116.7,300.2 117.8,300.6 119,301 120.3,301.3 121.7,301.6 123.2,301.8 124.7,302 126.3,302 127.8,302.1 129.4,302 131,301.9 132.5,301.8 133.9,301.5 135.3,301.2 136.5,300.9 137.7,300.5 138.7,300.1" fill="none" stroke="#8050d0" stroke-width="0.8"/>
<g fill="none" stroke="#ff0000" stroke-width="0.6"><ellipse cx="136.6" cy="300.6" rx="6.81" ry="2.41" transform="rotate(50 136.6 300.6)"/><ellipse cx="137.9" cy="299.3" rx="6.79" ry="2.95" transform="rotate(46 137.9 299.3)"/><ellipse cx="139.1" cy="298.0" rx="6.77" ry="3.41" transform="rotate(-140 139.1 298.0)"/><ellipse cx="140.2" cy="296.6" rx="6.75" ry="3.81" transform="rotate(-145 140.2 296.6)"/><ellipse cx="141.0" cy="295.2" rx="6.73" ry="4.12" transform="rotate(-152 141.0 295.2)"/><ellipse cx="141.6" cy="293.8" rx="6.70" ry="4.36" transform="rotate(-159 141.6 293.8)"/><ellipse cx="142.0" cy="292.4" rx="6.67" ry="4.52" transform="rotate(-168 142.0 292.4)"/><ellipse cx="142.2" cy="290.9" rx="6.64" ry="4.58" transform="rotate(-176 142.2 290.9)"/><ellipse cx="142.2" cy="289.5" rx="6.62" ry="4.57" transform="rotate(175 142.2 289.5)"/><ellipse cx="141.9" cy="288.0" rx="6.59" ry="4.47" transform="rotate(166 141.9 288.0)"/><ellipse cx="141.5" cy="286.6" rx="6.57" ry="4.29" transform="rotate(158 141.5 286.6)"/><ellipse cx="140.8" cy="285.2" rx="6.56" ry="4.04" transform="rotate(151 140.8 285.2)"/><ellipse cx="140.0" cy="283.9" rx="6.54" ry="3.71" transform="rotate(145 140.0 283.9)"/><ellipse cx="138.9" cy="282.6" rx="6.52" ry="3.33" transform="rotate(139 138.9 282.6)"/><ellipse cx="137.8" cy="281.3" rx="6.51" ry="2.88" transform="rotate(134 137.8 281.3)"/><ellipse cx="136.4" cy="280.1" rx="6.50" ry="2.38" transform="rotate(130 136.4 280.1)"/><ellipse cx="135.0" cy="279.0" rx="6.49" ry="1.84" transform="rotate(126 135.0 279.0)"/><ellipse cx="133.4" cy="277.9" rx="6.49" ry="1.27" transform="rotate(123 133.4 277.9)"/><ellipse cx="131.8" cy="276.9" rx="6.48" ry="0.66" transform="rotate(120 131.8 276.9)"/><ellipse cx="130.1" cy="276.0" rx="6.48" ry="0.04" transform="rotate(118 130.1 276.0)"/><ellipse cx="128.4" cy="275.1" rx="6.48" ry="0.60" transform="rotate(115 128.4 275.1)"/><ellipse cx="126.7" cy="274.3" rx="6.48" ry="1.25" transform="rotate(114 126.7 274.3)"/><ellipse cx="124.9" cy="273.6" rx="6.49" ry="1.89" transform="rotate(112 124.9 273.6)"/><ellipse cx="123.2" cy="272.9" rx="6.50" ry="2.52" transform="rotate(111 123.2 272.9)"/><ellipse cx="121.6" cy="272.3" rx="6.51" ry="3.14" transform="rotate(109 121.6 272.3)"/><ellipse cx="120.0" cy="271.8" rx="6.52" ry="3.73" transform="rotate(109 120.0 271.8)"/><ellipse cx="118.6" cy="271.3" rx="6.54" ry="4.28" transform="rotate(108 118.6 271.3)"/><ellipse cx="117.2" cy="270.9" rx="6.56" ry="4.80" transform="rotate(108 117.2 270.9)"/><ellipse cx="116.0" cy="270.5" rx="6.58" ry="5.26" transform="rotate(108 116.0 270.5)"/><ellipse cx="115.0" cy="270.1" rx="6.60" ry="5.67" transform="rotate(109 115.0 270.1)"/><ellipse cx="114.1" cy="269.8" rx="6.63" ry="6.02" transform="rotate(111 114.1 269.8)"/><ellipse cx="113.5" cy="269.6" rx="6.65" ry="6.30" transform="rotate(115 113.5 269.6)"/><ellipse cx="113.0" cy="269.3" rx="6.68" ry="6.50" transform="rotate(125 113.0 269.3)"/><ellipse cx="112.7" cy="269.0" rx="6.70" ry="6.63" transform="rotate(145 112.7 269.0)"/><ellipse cx="112.7" cy="268.8" rx="6.72" ry="6.68" transform="rotate(-166 112.7 268.8)"/><ellipse cx="112.9" cy="268.5" rx="6.75" ry="6.63" transform="rotate(50 112.9 268.5)"/><ellipse cx="113.3" cy="268.2" rx="6.78" ry="6.50" transform="rotate(62 113.3 268.2)"/><ellipse cx="113.9" cy="267.9" rx="6.81" ry="6.28" transform="rotate(67 113.9 267.9)"/><ellipse cx="114.7" cy="267.6" rx="6.84" ry="5.97" transform="rotate(70 114.7 267.6)"/><ellipse cx="115.7" cy="267.3" rx="6.86" ry="5.59" transform="rotate(71 115.7 267.3)"/><ellipse cx="117.0" cy="266.8" rx="6.89" ry="5.12" transform="rotate(72 117.0 266.8)"/><ellipse cx="118.3" cy="266.4" rx="6.91" ry="4.58" transform="rotate(71 118.3 266.4)"/><ellipse cx="119.9" cy="265.9" rx="6.93" ry="3.98" transform="rotate(71 119.9 265.9)"/><ellipse cx="121.5" cy="265.3" rx="6.94" ry="3.33" transform="rotate(70 121.5 265.3)"/><ellipse cx="123.3" cy="264.6" rx="6.95" ry="2.63" transform="rotate(69 123.3 264.6)"/><ellipse cx="125.1" cy="263.9" rx="6.96" ry="1.90" transform="rotate(68 125.1 263.9)"/><ellipse cx="127.0" cy="263.1" rx="6.97" ry="1.15" transform="rotate(66 127.0 263.1)"/><ellipse cx="128.9" cy="262.2" rx="6.97" ry="0.39" transform="rotate(64 128.9 262.2)"/><ellipse cx="130.8" cy="261.3" rx="6.97" ry="0.36" transform="rotate(62 130.8 261.3)"/><ellipse cx="132.6" cy="260.3" rx="6.97" ry="1.09" transform="rotate(60 132.6 260.3)"/><ellipse cx="134.3" cy="259.2" rx="6.96" ry="1.79" transform="rotate(57 134.3 259.2)"/><ellipse cx="136.0" cy="258.1" rx="6.95" ry="2.44" transform="rotate(54 136.0 258.1)"/><ellipse cx="137.5" cy="256.9" rx="6.94" ry="3.04" transform="rotate(50 137.5 256.9)"/><ellipse cx="138.8" cy="255.7" rx="6.92" ry="3.58" transform="rotate(45 138.8 255.7)"/><ellipse cx="140.0" cy="254.5" rx="6.91" ry="4.04" transform="rotate(-140 140.0 254.5)"/><ellipse cx="141.0" cy="253.2" rx="6.89" ry="4.42" transform="rotate(-146 141.0 253.2)"/><ellipse cx="141.7" cy="251.8" rx="6.87" ry="4.72" transform="rotate(-153 141.7 251.8)"/><ellipse cx="142.3" cy="250.5" rx="6.84" ry="4.93" transform="rotate(-161 142.3 250.5)"/><ellipse cx="142.6" cy="249.2" rx="6.82" ry="5.06" transform="rotate(-170 142.6 249.2)"/><ellipse cx="142.7" cy="247.8" rx="6.80" ry="5.10" transform="rotate(-180 142.7 247.8)"/><ellipse cx="142.6" cy="246.5" rx="6.77" ry="5.05" transform="rotate(171 142.6 246.5)"/><ellipse cx="142.3" cy="245.1" rx="6.75" ry="4.91" transform="rotate(162 142.3 245.1)"/><ellipse cx="141.8" cy="243.8" rx="6.73" ry="4.69" transform="rotate(154 141.8 243.8)"/><ellipse cx="141.0" cy="242.6" rx="6.70" ry="4.40" transform="rotate(147 141.0 242.6)"/><ellipse cx="140.1" cy="241.3" rx="6.68" ry="4.04" transform="rotate(140 140.1 241.3)"/><ellipse cx="139.0" cy="240.1" rx="6.67" ry="3.61" transform="rotate(135 139.0 240.1)"/><ellipse cx="137.7" cy="238.9" rx="6.65" ry="3.12" transform="rotate(131 137.7 238.9)"/><ellipse cx="136.3" cy="237.8" rx="6.64" ry="2.58" transform="rotate(127 136.3 237.8)"/><ellipse cx="134.8" cy="236.7" rx="6.63" ry="2.00" transform="rotate(124 134.8 236.7)"/><ellipse cx="133.2" cy="235.7" rx="6.62" ry="1.39" transform="rotate(121 133.2 235.7)"/><ellipse cx="131.5" cy="234.7" rx="6.62" ry="0.74" transform="rotate(119 131.5 234.7)"/><ellipse cx="129.8" cy="233.8" rx="6.62" ry="0.08" transform="rotate(117 129.8 233.8)"/><ellipse cx="128.0" cy="232.9" rx="6.62" ry="0.60" transform="rotate(115 128.0 232.9)"/><ellipse cx="126.2" cy="232.1" rx="6.62" ry="1.27" transform="rotate(114 126.2 232.1)"/><ellipse cx="124.4" cy="231.4" rx="6.63" ry="1.95" transform="rotate(113 124.4 231.4)"/><ellipse cx="122.7" cy="230.6" rx="6.64" ry="2.61" transform="rotate(112 122.7 230.6)"/><ellipse cx="121.1" cy="230.0" rx="6.65" ry="3.24" transform="rotate(112 121.1 230.0)"/><ellipse cx="119.5" cy="229.3" rx="6.67" ry="3.85" transform="rotate(112 119.5 229.3)"/><ellipse cx="118.1" cy="228.7" rx="6.68" ry="4.42" transform="rotate(112 118.1 228.7)"/><ellipse cx="116.7" cy="228.2" rx="6.71" ry="4.94" transform="rotate(113 116.7 228.2)"/><ellipse cx="115.6" cy="227.7" rx="6.73" ry="5.41" transform="rotate(115 115.6 227.7)"/><ellipse cx="114.6" cy="227.2" rx="6.75" ry="5.82" transform="rotate(118 114.6 227.2)"/><ellipse cx="113.7" cy="226.7" rx="6.78" ry="6.16" transform="rotate(123 113.7 226.7)"/><ellipse cx="113.1" cy="226.2" rx="6.81" ry="6.42" transform="rotate(132 113.1 226.2)"/><ellipse cx="112.7" cy="225.8" rx="6.84" ry="6.61" transform="rotate(147 112.7 225.8)"/><ellipse cx="112.5" cy="225.3" rx="6.87" ry="6.70" transform="rotate(173 112.5 225.3)"/><ellipse cx="112.5" cy="224.9" rx="6.90" ry="6.71" transform="rotate(-160 112.5 224.9)"/><ellipse cx="112.8" cy="224.4" rx="6.94" ry="6.63" transform="rotate(-141 112.8 224.4)"/><ellipse cx="113.3" cy="224.0" rx="6.96" ry="6.46" transform="rotate(51 113.3 224.0)"/><ellipse cx="114.0" cy="223.5" rx="6.99" ry="6.20" transform="rotate(58 114.0 223.5)"/><ellipse cx="114.9" cy="223.0" rx="7.02" ry="5.85" transform="rotate(62 114.9 223.0)"/><ellipse cx="116.0" cy="222.4" rx="7.04" ry="5.41" transform="rotate(65 116.0 222.4)"/><ellipse cx="117.3" cy="221.8" rx="7.06" ry="4.89" transform="rotate(66 117.3 221.8)"/><ellipse cx="118.8" cy="221.2" rx="7.09" ry="4.30" transform="rotate(67 118.8 221.2)"/><ellipse cx="120.4" cy="220.5" rx="7.10" ry="3.65" transform="rotate(67 120.4 220.5)"/><ellipse cx="122.2" cy="219.8" rx="7.12" ry="2.94" transform="rotate(67 122.2 219.8)"/><ellipse cx="124.0" cy="219.0" rx="7.13" ry="2.19" transform="rotate(67 124.0 219.0)"/><ellipse cx="125.9" cy="218.2" rx="7.14" ry="1.41" transform="rotate(66 125.9 218.2)"/><ellipse cx="127.8" cy="217.3" rx="7.14" ry="0.62" transform="rotate(65 127.8 217.3)"/><ellipse cx="129.8" cy="216.4" rx="7.15" ry="0.18" transform="rotate(64 129.8 216.4)"/><ellipse cx="131.7" cy="215.5" rx="7.14" ry="0.96" transform="rotate(62 131.7 215.5)"/><ellipse cx="133.5" cy="214.4" rx="7.14" ry="1.72" transform="rotate(60 133.5 214.4)"/><ellipse cx="135.3" cy="213.4" rx="7.13" ry="2.44" transform="rotate(58 135.3 213.4)"/><ellipse cx="136.9" cy="212.3" rx="7.12" ry="3.10" transform="rotate(55 136.9 212.3)"/><ellipse cx="138.4" cy="211.1" rx="7.10" ry="3.71" transform="rotate(51 138.4 211.1)"/><ellipse cx="139.7" cy="210.0" rx="7.09" ry="4.25" transform="rotate(46 139.7 210.0)"/><ellipse cx="140.8" cy="208.8" rx="7.07" ry="4.70" transform="rotate(-139 140.8 208.8)"/><ellipse cx="141.8" cy="207.6" rx="7.05" ry="5.07" transform="rotate(-146 141.8 207.6)"/><ellipse cx="142.5" cy="206.4" rx="7.02" ry="5.35" transform="rotate(-153 142.5 206.4)"/><ellipse cx="143.0" cy="205.1" rx="7.00" ry="5.54" transform="rotate(-163 143.0 205.1)"/><ellipse cx="143.2" cy="203.9" rx="6.98" ry="5.64" transform="rotate(-173 143.2 203.9)"/><ellipse cx="143.3" cy="202.7" rx="6.96" ry="5.64" transform="rotate(176 143.3 202.7)"/><ellipse cx="143.1" cy="201.5" rx="6.94" ry="5.55" transform="rotate(166 143.1 201.5)"/><ellipse cx="142.7" cy="200.3" rx="6.92" ry="5.37" transform="rotate(156 142.7 200.3)"/><ellipse cx="142.1" cy="199.1" rx="6.90" ry="5.11" transform="rotate(148 142.1 199.1)"/><ellipse cx="141.2" cy="197.9" rx="6.88" ry="4.77" transform="rotate(141 141.2 197.9)"/><ellipse cx="140.2" cy="196.8" rx="6.86" ry="4.36" transform="rotate(135 140.2 196.8)"/><ellipse cx="139.0" cy="195.6" rx="6.85" ry="3.89" transform="rotate(131 139.0 195.6)"/><ellipse cx="137.7" cy="194.6" rx="6.83" ry="3.36" transform="rotate(127 137.7 194.6)"/><ellipse cx="136.2" cy="193.5" rx="6.82" ry="2.78" transform="rotate(124 136.2 193.5)"/><ellipse cx="134.6" cy="192.5" rx="6.81" ry="2.16" transform="rotate(121 134.6 192.5)"/><ellipse cx="132.9" cy="191.5" rx="6.81" ry="1.50" transform="rotate(119 132.9 191.5)"/><ellipse cx="131.2" cy="190.5" rx="6.81" ry="0.82" transform="rotate(118 131.2 190.5)"/><ellipse cx="129.4" cy="189.6" rx="6.81" ry="0.12" transform="rotate(116 129.4 189.6)"/><ellipse cx="127.5" cy="188.7" rx="6.81" ry="0.59" transform="rotate(115 127.5 188.7)"/><ellipse cx="125.7" cy="187.9" rx="6.81" ry="1.29" transform="rotate(115 125.7 187.9)"/><ellipse cx="123.9" cy="187.0" rx="6.82" ry="1.99" transform="rotate(114 123.9 187.0)"/><ellipse cx="122.2" cy="186.3" rx="6.83" ry="2.67" transform="rotate(114 122.2 186.3)"/><ellipse cx="120.5" cy="185.5" rx="6.85" ry="3.33" transform="rotate(115 120.5 185.5)"/><ellipse cx="119.0" cy="184.7" rx="6.86" ry="3.95" transform="rotate(115 119.0 184.7)"/></g>
<line x1="49.7" y1="273.9" x2="44.2" y2="275.6" stroke="#444" stroke-width="0.9"/>
<line x1="48.7" y1="249.3" x2="43.1" y2="250.8" stroke="#444" stroke-width="0.9"/>
<line x1="47.7" y1="224" x2="42" y2="225.2" stroke="#444" stroke-width="0.9"/>
<line x1="46.7" y1="198" x2="40.9" y2="198.9" stroke="#444" stroke-width="0.9"/>
<line x1="68.8" y1="304.4" x2="65.6" y2="305.7" stroke="#333" stroke-width="0.9"/>
<line x1="150.6" y1="317.8" x2="154.3" y2="319" stroke="#333" stroke-width="0.9"/>
<line x1="88.4" y1="311.5" x2="85.2" y2="312.9" stroke="#333" stroke-width="0.9"/>
<line x1="167.3" y1="308.9" x2="171" y2="310.1" stroke="#333" stroke-width="0.9"/>
<line x1="109.4" y1="319.2" x2="106.3" y2="320.7" stroke="#333" stroke-width="0.9"/>
<line x1="182.7" y1="300.9" x2="186.3" y2="301.9" stroke="#333" stroke-width="0.9"/>
<g font-size="11.5" fill="#000"><text x="45.1" y="202.7" text-anchor="end">200</text>
<text x="45.1" y="229.4" text-anchor="end">150</text>
<text x="46.9" y="254.7" text-anchor="end">100</text>
<text x="46.9" y="280.7" text-anchor="end">50</text>
<text x="42.8" y="304.6" text-anchor="end">0</text>
<text x="49.2" y="309.7" text-anchor="middle">-6</text>
<text x="67" y="316.9" text-anchor="middle">-3</text>
<text x="87.2" y="322.8" text-anchor="middle">0</text>
<text x="108" y="331.1" text-anchor="middle">3</text>
<text x="126.8" y="338.3" text-anchor="middle">6</text>
<text x="138.7" y="338" text-anchor="middle">-6</text>
<text x="155.5" y="326.7" text-anchor="middle">-3</text>
<text x="171.6" y="319.4" text-anchor="middle">0</text>
<text x="187" y="310.6" text-anchor="middle">3</text>
<text x="202.1" y="302" text-anchor="middle">6</text>
<text x="0" y="0" text-anchor="middle" font-style="italic" transform="translate(73,335.5) rotate(20)">x(μm)</text>
<text x="0" y="0" text-anchor="middle" transform="translate(184.5,326) rotate(-36)">y(μm)</text>
<text x="0" y="0" text-anchor="middle" transform="translate(27.3,247) rotate(-90)">z(μm)</text></g>
</svg>
<svg style="position:absolute;left:0;top:0" width="575" height="346" viewBox="0 0 575 346">
<defs>
<filter id="jet" color-interpolation-filters="sRGB" x="0" y="0" width="1" height="1"><feComponentTransfer><feFuncR type="table" tableValues="0 0 0 0 0.5 1 1 1 0.5"/><feFuncG type="table" tableValues="0 0 0.5 1 1 1 0.5 0 0"/><feFuncB type="table" tableValues="0.5625 1 1 1 0.5 0 0 0 0"/></feComponentTransfer></filter>
<filter id="hot" color-interpolation-filters="sRGB" x="0" y="0" width="1" height="1"><feComponentTransfer><feFuncR type="table" tableValues="0.04 0.37 0.71 1 1 1 1 1 1"/><feFuncG type="table" tableValues="0 0 0 0 0.33 0.67 1 1 1"/><feFuncB type="table" tableValues="0 0 0 0 0 0 0 0.5 1"/></feComponentTransfer></filter>
<radialGradient id="gs1"><stop offset="0" stop-color="#fff" stop-opacity="1"/><stop offset="0.08" stop-color="#fff" stop-opacity="0.97"/><stop offset="0.17" stop-color="#fff" stop-opacity="0.88"/><stop offset="0.25" stop-color="#fff" stop-opacity="0.75"/><stop offset="0.33" stop-color="#fff" stop-opacity="0.61"/><stop offset="0.42" stop-color="#fff" stop-opacity="0.46"/><stop offset="0.5" stop-color="#fff" stop-opacity="0.32"/><stop offset="0.58" stop-color="#fff" stop-opacity="0.22"/><stop offset="0.67" stop-color="#fff" stop-opacity="0.14"/><stop offset="0.75" stop-color="#fff" stop-opacity="0.08"/><stop offset="0.83" stop-color="#fff" stop-opacity="0.04"/><stop offset="0.92" stop-color="#fff" stop-opacity="0.02"/><stop offset="1" stop-color="#fff" stop-opacity="0"/></radialGradient>
<radialGradient id="gh"><stop offset="0" stop-color="#fff" stop-opacity="1"/><stop offset="0.12" stop-color="#fff" stop-opacity="0.93"/><stop offset="0.25" stop-color="#fff" stop-opacity="0.75"/><stop offset="0.38" stop-color="#fff" stop-opacity="0.53"/><stop offset="0.5" stop-color="#fff" stop-opacity="0.32"/><stop offset="0.62" stop-color="#fff" stop-opacity="0.17"/><stop offset="0.75" stop-color="#fff" stop-opacity="0.08"/><stop offset="0.88" stop-color="#fff" stop-opacity="0.03"/><stop offset="1" stop-color="#fff" stop-opacity="0"/></radialGradient>
<clipPath id="cb0"><rect x="230" y="10" width="75" height="74.4"/></clipPath>
<clipPath id="cd0"><rect x="231" y="181" width="75" height="74.5"/></clipPath>
<radialGradient id="rp0" gradientUnits="userSpaceOnUse" cx="268.5" cy="217.2" r="75"><stop offset="0" stop-color="#080808"/><stop offset="0.01" stop-color="#080808"/><stop offset="0.03" stop-color="#080808"/><stop offset="0.04" stop-color="#080808"/><stop offset="0.05" stop-color="#080808"/><stop offset="0.06" stop-color="#080808"/><stop offset="0.07" stop-color="#080808"/><stop offset="0.09" stop-color="#080808"/><stop offset="0.1" stop-color="#080808"/><stop offset="0.11" stop-color="#080808"/><stop offset="0.12" stop-color="#080808"/><stop offset="0.14" stop-color="#080808"/><stop offset="0.15" stop-color="#080808"/><stop offset="0.16" stop-color="#080808"/><stop offset="0.17" stop-color="#080808"/><stop offset="0.19" stop-color="#0d0d0d"/><stop offset="0.2" stop-color="#1e1e1e"/><stop offset="0.21" stop-color="#2b2b2b"/><stop offset="0.23" stop-color="#292929"/><stop offset="0.24" stop-color="#1b1b1b"/><stop offset="0.25" stop-color="#0d0d0d"/><stop offset="0.26" stop-color="#080808"/><stop offset="0.28" stop-color="#0e0e0e"/><stop offset="0.29" stop-color="#181818"/><stop offset="0.3" stop-color="#1d1d1d"/><stop offset="0.31" stop-color="#191919"/><stop offset="0.33" stop-color="#101010"/><stop offset="0.34" stop-color="#090909"/><stop offset="0.35" stop-color="#080808"/><stop offset="0.36" stop-color="#0e0e0e"/><stop offset="0.38" stop-color="#141414"/><stop offset="0.39" stop-color="#151515"/><stop offset="0.4" stop-color="#111111"/><stop offset="0.41" stop-color="#0b0b0b"/><stop offset="0.42" stop-color="#080808"/><stop offset="0.44" stop-color="#090909"/><stop offset="0.45" stop-color="#0e0e0e"/><stop offset="0.46" stop-color="#111111"/><stop offset="0.47" stop-color="#101010"/><stop offset="0.49" stop-color="#0c0c0c"/><stop offset="0.5" stop-color="#090909"/><stop offset="0.51" stop-color="#080808"/><stop offset="0.53" stop-color="#0a0a0a"/><stop offset="0.54" stop-color="#0e0e0e"/><stop offset="0.55" stop-color="#0f0f0f"/><stop offset="0.56" stop-color="#0e0e0e"/><stop offset="0.57" stop-color="#0a0a0a"/><stop offset="0.59" stop-color="#080808"/><stop offset="0.6" stop-color="#080808"/><stop offset="0.61" stop-color="#0b0b0b"/><stop offset="0.62" stop-color="#0e0e0e"/><stop offset="0.64" stop-color="#0e0e0e"/><stop offset="0.65" stop-color="#0c0c0c"/><stop offset="0.66" stop-color="#090909"/><stop offset="0.68" stop-color="#080808"/><stop offset="0.69" stop-color="#090909"/><stop offset="0.7" stop-color="#0c0c0c"/><stop offset="0.71" stop-color="#0e0e0e"/><stop offset="0.72" stop-color="#0d0d0d"/><stop offset="0.74" stop-color="#0a0a0a"/><stop offset="0.75" stop-color="#080808"/><stop offset="0.76" stop-color="#080808"/><stop offset="0.78" stop-color="#0a0a0a"/><stop offset="0.79" stop-color="#0d0d0d"/><stop offset="0.8" stop-color="#0d0d0d"/><stop offset="0.81" stop-color="#0c0c0c"/><stop offset="0.82" stop-color="#090909"/><stop offset="0.84" stop-color="#080808"/><stop offset="0.85" stop-color="#080808"/><stop offset="0.86" stop-color="#0b0b0b"/><stop offset="0.88" stop-color="#0d0d0d"/><stop offset="0.89" stop-color="#0d0d0d"/><stop offset="0.9" stop-color="#0b0b0b"/><stop offset="0.91" stop-color="#080808"/><stop offset="0.93" stop-color="#080808"/><stop offset="0.94" stop-color="#090909"/><stop offset="0.95" stop-color="#0c0c0c"/><stop offset="0.96" stop-color="#0d0d0d"/><stop offset="0.97" stop-color="#0c0c0c"/><stop offset="0.99" stop-color="#0a0a0a"/><stop offset="1" stop-color="#080808"/></radialGradient>
<radialGradient id="bh0"><stop offset="0" stop-color="#fff" stop-opacity="1"/><stop offset="0.03" stop-color="#fff" stop-opacity="0.85"/><stop offset="0.05" stop-color="#fff" stop-opacity="0.52"/><stop offset="0.07" stop-color="#fff" stop-opacity="0.24"/><stop offset="0.1" stop-color="#fff" stop-opacity="0.23"/><stop offset="0.12" stop-color="#fff" stop-opacity="0.47"/><stop offset="0.15" stop-color="#fff" stop-opacity="0.79"/><stop offset="0.17" stop-color="#fff" stop-opacity="0.93"/><stop offset="0.2" stop-color="#fff" stop-opacity="0.79"/><stop offset="0.23" stop-color="#fff" stop-opacity="0.48"/><stop offset="0.25" stop-color="#fff" stop-opacity="0.22"/><stop offset="0.28" stop-color="#fff" stop-opacity="0.19"/><stop offset="0.3" stop-color="#fff" stop-opacity="0.37"/><stop offset="0.33" stop-color="#fff" stop-opacity="0.63"/><stop offset="0.35" stop-color="#fff" stop-opacity="0.74"/><stop offset="0.38" stop-color="#fff" stop-opacity="0.63"/><stop offset="0.4" stop-color="#fff" stop-opacity="0.39"/><stop offset="0.42" stop-color="#fff" stop-opacity="0.18"/><stop offset="0.45" stop-color="#fff" stop-opacity="0.13"/><stop offset="0.47" stop-color="#fff" stop-opacity="0.26"/><stop offset="0.5" stop-color="#fff" stop-opacity="0.43"/><stop offset="0.53" stop-color="#fff" stop-opacity="0.51"/><stop offset="0.55" stop-color="#fff" stop-opacity="0.44"/><stop offset="0.57" stop-color="#fff" stop-opacity="0.27"/><stop offset="0.6" stop-color="#fff" stop-opacity="0.12"/><stop offset="0.62" stop-color="#fff" stop-opacity="0.08"/><stop offset="0.65" stop-color="#fff" stop-opacity="0.15"/><stop offset="0.68" stop-color="#fff" stop-opacity="0.25"/><stop offset="0.7" stop-color="#fff" stop-opacity="0.3"/><stop offset="0.72" stop-color="#fff" stop-opacity="0.26"/><stop offset="0.75" stop-color="#fff" stop-opacity="0.16"/><stop offset="0.78" stop-color="#fff" stop-opacity="0.07"/><stop offset="0.8" stop-color="#fff" stop-opacity="0.04"/><stop offset="0.82" stop-color="#fff" stop-opacity="0.08"/><stop offset="0.85" stop-color="#fff" stop-opacity="0.13"/><stop offset="0.88" stop-color="#fff" stop-opacity="0.15"/><stop offset="0.9" stop-color="#fff" stop-opacity="0.13"/><stop offset="0.93" stop-color="#fff" stop-opacity="0.08"/><stop offset="0.95" stop-color="#fff" stop-opacity="0.04"/><stop offset="0.97" stop-color="#fff" stop-opacity="0.02"/><stop offset="1" stop-color="#fff" stop-opacity="0"/></radialGradient>
<clipPath id="cb1"><rect x="312" y="10" width="75" height="74.4"/></clipPath>
<clipPath id="cd1"><rect x="314" y="181" width="74.5" height="74.5"/></clipPath>
<radialGradient id="rp1" gradientUnits="userSpaceOnUse" cx="349.1" cy="217.4" r="75"><stop offset="0" stop-color="#080808"/><stop offset="0.01" stop-color="#080808"/><stop offset="0.03" stop-color="#080808"/><stop offset="0.04" stop-color="#080808"/><stop offset="0.05" stop-color="#080808"/><stop offset="0.06" stop-color="#080808"/><stop offset="0.07" stop-color="#080808"/><stop offset="0.09" stop-color="#080808"/><stop offset="0.1" stop-color="#080808"/><stop offset="0.11" stop-color="#080808"/><stop offset="0.12" stop-color="#080808"/><stop offset="0.14" stop-color="#080808"/><stop offset="0.15" stop-color="#080808"/><stop offset="0.16" stop-color="#080808"/><stop offset="0.17" stop-color="#080808"/><stop offset="0.19" stop-color="#0d0d0d"/><stop offset="0.2" stop-color="#1e1e1e"/><stop offset="0.21" stop-color="#2b2b2b"/><stop offset="0.23" stop-color="#292929"/><stop offset="0.24" stop-color="#1b1b1b"/><stop offset="0.25" stop-color="#0d0d0d"/><stop offset="0.26" stop-color="#080808"/><stop offset="0.28" stop-color="#0e0e0e"/><stop offset="0.29" stop-color="#181818"/><stop offset="0.3" stop-color="#1d1d1d"/><stop offset="0.31" stop-color="#191919"/><stop offset="0.33" stop-color="#101010"/><stop offset="0.34" stop-color="#090909"/><stop offset="0.35" stop-color="#080808"/><stop offset="0.36" stop-color="#0e0e0e"/><stop offset="0.38" stop-color="#141414"/><stop offset="0.39" stop-color="#151515"/><stop offset="0.4" stop-color="#111111"/><stop offset="0.41" stop-color="#0b0b0b"/><stop offset="0.42" stop-color="#080808"/><stop offset="0.44" stop-color="#090909"/><stop offset="0.45" stop-color="#0e0e0e"/><stop offset="0.46" stop-color="#111111"/><stop offset="0.47" stop-color="#101010"/><stop offset="0.49" stop-color="#0c0c0c"/><stop offset="0.5" stop-color="#090909"/><stop offset="0.51" stop-color="#080808"/><stop offset="0.53" stop-color="#0a0a0a"/><stop offset="0.54" stop-color="#0e0e0e"/><stop offset="0.55" stop-color="#0f0f0f"/><stop offset="0.56" stop-color="#0e0e0e"/><stop offset="0.57" stop-color="#0a0a0a"/><stop offset="0.59" stop-color="#080808"/><stop offset="0.6" stop-color="#080808"/><stop offset="0.61" stop-color="#0b0b0b"/><stop offset="0.62" stop-color="#0e0e0e"/><stop offset="0.64" stop-color="#0e0e0e"/><stop offset="0.65" stop-color="#0c0c0c"/><stop offset="0.66" stop-color="#090909"/><stop offset="0.68" stop-color="#080808"/><stop offset="0.69" stop-color="#090909"/><stop offset="0.7" stop-color="#0c0c0c"/><stop offset="0.71" stop-color="#0e0e0e"/><stop offset="0.72" stop-color="#0d0d0d"/><stop offset="0.74" stop-color="#0a0a0a"/><stop offset="0.75" stop-color="#080808"/><stop offset="0.76" stop-color="#080808"/><stop offset="0.78" stop-color="#0a0a0a"/><stop offset="0.79" stop-color="#0d0d0d"/><stop offset="0.8" stop-color="#0d0d0d"/><stop offset="0.81" stop-color="#0c0c0c"/><stop offset="0.82" stop-color="#090909"/><stop offset="0.84" stop-color="#080808"/><stop offset="0.85" stop-color="#080808"/><stop offset="0.86" stop-color="#0b0b0b"/><stop offset="0.88" stop-color="#0d0d0d"/><stop offset="0.89" stop-color="#0d0d0d"/><stop offset="0.9" stop-color="#0b0b0b"/><stop offset="0.91" stop-color="#080808"/><stop offset="0.93" stop-color="#080808"/><stop offset="0.94" stop-color="#090909"/><stop offset="0.95" stop-color="#0c0c0c"/><stop offset="0.96" stop-color="#0d0d0d"/><stop offset="0.97" stop-color="#0c0c0c"/><stop offset="0.99" stop-color="#0a0a0a"/><stop offset="1" stop-color="#080808"/></radialGradient>
<radialGradient id="bh1"><stop offset="0" stop-color="#fff" stop-opacity="1"/><stop offset="0.03" stop-color="#fff" stop-opacity="0.95"/><stop offset="0.05" stop-color="#fff" stop-opacity="0.83"/><stop offset="0.07" stop-color="#fff" stop-opacity="0.65"/><stop offset="0.1" stop-color="#fff" stop-opacity="0.45"/><stop offset="0.12" stop-color="#fff" stop-opacity="0.3"/><stop offset="0.15" stop-color="#fff" stop-opacity="0.2"/><stop offset="0.17" stop-color="#fff" stop-opacity="0.19"/><stop offset="0.2" stop-color="#fff" stop-opacity="0.26"/><stop offset="0.23" stop-color="#fff" stop-opacity="0.39"/><stop offset="0.25" stop-color="#fff" stop-opacity="0.54"/><stop offset="0.28" stop-color="#fff" stop-opacity="0.67"/><stop offset="0.3" stop-color="#fff" stop-opacity="0.76"/><stop offset="0.33" stop-color="#fff" stop-opacity="0.77"/><stop offset="0.35" stop-color="#fff" stop-opacity="0.72"/><stop offset="0.38" stop-color="#fff" stop-opacity="0.61"/><stop offset="0.4" stop-color="#fff" stop-opacity="0.46"/><stop offset="0.42" stop-color="#fff" stop-opacity="0.32"/><stop offset="0.45" stop-color="#fff" stop-opacity="0.2"/><stop offset="0.47" stop-color="#fff" stop-opacity="0.13"/><stop offset="0.5" stop-color="#fff" stop-opacity="0.11"/><stop offset="0.53" stop-color="#fff" stop-opacity="0.14"/><stop offset="0.55" stop-color="#fff" stop-opacity="0.2"/><stop offset="0.57" stop-color="#fff" stop-opacity="0.27"/><stop offset="0.6" stop-color="#fff" stop-opacity="0.33"/><stop offset="0.62" stop-color="#fff" stop-opacity="0.36"/><stop offset="0.65" stop-color="#fff" stop-opacity="0.36"/><stop offset="0.68" stop-color="#fff" stop-opacity="0.32"/><stop offset="0.7" stop-color="#fff" stop-opacity="0.27"/><stop offset="0.72" stop-color="#fff" stop-opacity="0.2"/><stop offset="0.75" stop-color="#fff" stop-opacity="0.13"/><stop offset="0.78" stop-color="#fff" stop-opacity="0.08"/><stop offset="0.8" stop-color="#fff" stop-opacity="0.05"/><stop offset="0.82" stop-color="#fff" stop-opacity="0.04"/><stop offset="0.85" stop-color="#fff" stop-opacity="0.04"/><stop offset="0.88" stop-color="#fff" stop-opacity="0.06"/><stop offset="0.9" stop-color="#fff" stop-opacity="0.08"/><stop offset="0.93" stop-color="#fff" stop-opacity="0.1"/><stop offset="0.95" stop-color="#fff" stop-opacity="0.1"/><stop offset="0.97" stop-color="#fff" stop-opacity="0.1"/><stop offset="1" stop-color="#fff" stop-opacity="0"/></radialGradient>
<clipPath id="cb2"><rect x="396" y="10" width="75" height="74.4"/></clipPath>
<clipPath id="cd2"><rect x="397" y="181" width="74" height="74.5"/></clipPath>
<radialGradient id="rp2" gradientUnits="userSpaceOnUse" cx="436.7" cy="223" r="75"><stop offset="0" stop-color="#080808"/><stop offset="0.01" stop-color="#080808"/><stop offset="0.03" stop-color="#080808"/><stop offset="0.04" stop-color="#080808"/><stop offset="0.05" stop-color="#080808"/><stop offset="0.06" stop-color="#080808"/><stop offset="0.07" stop-color="#080808"/><stop offset="0.09" stop-color="#080808"/><stop offset="0.1" stop-color="#080808"/><stop offset="0.11" stop-color="#080808"/><stop offset="0.12" stop-color="#080808"/><stop offset="0.14" stop-color="#080808"/><stop offset="0.15" stop-color="#080808"/><stop offset="0.16" stop-color="#080808"/><stop offset="0.17" stop-color="#080808"/><stop offset="0.19" stop-color="#0d0d0d"/><stop offset="0.2" stop-color="#1e1e1e"/><stop offset="0.21" stop-color="#2b2b2b"/><stop offset="0.23" stop-color="#292929"/><stop offset="0.24" stop-color="#1b1b1b"/><stop offset="0.25" stop-color="#0d0d0d"/><stop offset="0.26" stop-color="#080808"/><stop offset="0.28" stop-color="#0e0e0e"/><stop offset="0.29" stop-color="#181818"/><stop offset="0.3" stop-color="#1d1d1d"/><stop offset="0.31" stop-color="#191919"/><stop offset="0.33" stop-color="#101010"/><stop offset="0.34" stop-color="#090909"/><stop offset="0.35" stop-color="#080808"/><stop offset="0.36" stop-color="#0e0e0e"/><stop offset="0.38" stop-color="#141414"/><stop offset="0.39" stop-color="#151515"/><stop offset="0.4" stop-color="#111111"/><stop offset="0.41" stop-color="#0b0b0b"/><stop offset="0.42" stop-color="#080808"/><stop offset="0.44" stop-color="#090909"/><stop offset="0.45" stop-color="#0e0e0e"/><stop offset="0.46" stop-color="#111111"/><stop offset="0.47" stop-color="#101010"/><stop offset="0.49" stop-color="#0c0c0c"/><stop offset="0.5" stop-color="#090909"/><stop offset="0.51" stop-color="#080808"/><stop offset="0.53" stop-color="#0a0a0a"/><stop offset="0.54" stop-color="#0e0e0e"/><stop offset="0.55" stop-color="#0f0f0f"/><stop offset="0.56" stop-color="#0e0e0e"/><stop offset="0.57" stop-color="#0a0a0a"/><stop offset="0.59" stop-color="#080808"/><stop offset="0.6" stop-color="#080808"/><stop offset="0.61" stop-color="#0b0b0b"/><stop offset="0.62" stop-color="#0e0e0e"/><stop offset="0.64" stop-color="#0e0e0e"/><stop offset="0.65" stop-color="#0c0c0c"/><stop offset="0.66" stop-color="#090909"/><stop offset="0.68" stop-color="#080808"/><stop offset="0.69" stop-color="#090909"/><stop offset="0.7" stop-color="#0c0c0c"/><stop offset="0.71" stop-color="#0e0e0e"/><stop offset="0.72" stop-color="#0d0d0d"/><stop offset="0.74" stop-color="#0a0a0a"/><stop offset="0.75" stop-color="#080808"/><stop offset="0.76" stop-color="#080808"/><stop offset="0.78" stop-color="#0a0a0a"/><stop offset="0.79" stop-color="#0d0d0d"/><stop offset="0.8" stop-color="#0d0d0d"/><stop offset="0.81" stop-color="#0c0c0c"/><stop offset="0.82" stop-color="#090909"/><stop offset="0.84" stop-color="#080808"/><stop offset="0.85" stop-color="#080808"/><stop offset="0.86" stop-color="#0b0b0b"/><stop offset="0.88" stop-color="#0d0d0d"/><stop offset="0.89" stop-color="#0d0d0d"/><stop offset="0.9" stop-color="#0b0b0b"/><stop offset="0.91" stop-color="#080808"/><stop offset="0.93" stop-color="#080808"/><stop offset="0.94" stop-color="#090909"/><stop offset="0.95" stop-color="#0c0c0c"/><stop offset="0.96" stop-color="#0d0d0d"/><stop offset="0.97" stop-color="#0c0c0c"/><stop offset="0.99" stop-color="#0a0a0a"/><stop offset="1" stop-color="#080808"/></radialGradient>
<radialGradient id="bh2"><stop offset="0" stop-color="#fff" stop-opacity="1"/><stop offset="0.03" stop-color="#fff" stop-opacity="0.98"/><stop offset="0.05" stop-color="#fff" stop-opacity="0.9"/><stop offset="0.07" stop-color="#fff" stop-opacity="0.8"/><stop offset="0.1" stop-color="#fff" stop-opacity="0.67"/><stop offset="0.12" stop-color="#fff" stop-opacity="0.53"/><stop offset="0.15" stop-color="#fff" stop-opacity="0.39"/><stop offset="0.17" stop-color="#fff" stop-opacity="0.29"/><stop offset="0.2" stop-color="#fff" stop-opacity="0.21"/><stop offset="0.23" stop-color="#fff" stop-opacity="0.18"/><stop offset="0.25" stop-color="#fff" stop-opacity="0.18"/><stop offset="0.28" stop-color="#fff" stop-opacity="0.23"/><stop offset="0.3" stop-color="#fff" stop-opacity="0.3"/><stop offset="0.33" stop-color="#fff" stop-opacity="0.38"/><stop offset="0.35" stop-color="#fff" stop-opacity="0.47"/><stop offset="0.38" stop-color="#fff" stop-opacity="0.54"/><stop offset="0.4" stop-color="#fff" stop-opacity="0.59"/><stop offset="0.42" stop-color="#fff" stop-opacity="0.62"/><stop offset="0.45" stop-color="#fff" stop-opacity="0.61"/><stop offset="0.47" stop-color="#fff" stop-opacity="0.57"/><stop offset="0.5" stop-color="#fff" stop-opacity="0.51"/><stop offset="0.53" stop-color="#fff" stop-opacity="0.44"/><stop offset="0.55" stop-color="#fff" stop-opacity="0.35"/><stop offset="0.57" stop-color="#fff" stop-opacity="0.27"/><stop offset="0.6" stop-color="#fff" stop-opacity="0.2"/><stop offset="0.62" stop-color="#fff" stop-opacity="0.14"/><stop offset="0.65" stop-color="#fff" stop-opacity="0.09"/><stop offset="0.68" stop-color="#fff" stop-opacity="0.07"/><stop offset="0.7" stop-color="#fff" stop-opacity="0.06"/><stop offset="0.72" stop-color="#fff" stop-opacity="0.07"/><stop offset="0.75" stop-color="#fff" stop-opacity="0.08"/><stop offset="0.78" stop-color="#fff" stop-opacity="0.1"/><stop offset="0.8" stop-color="#fff" stop-opacity="0.12"/><stop offset="0.82" stop-color="#fff" stop-opacity="0.14"/><stop offset="0.85" stop-color="#fff" stop-opacity="0.14"/><stop offset="0.88" stop-color="#fff" stop-opacity="0.15"/><stop offset="0.9" stop-color="#fff" stop-opacity="0.14"/><stop offset="0.93" stop-color="#fff" stop-opacity="0.13"/><stop offset="0.95" stop-color="#fff" stop-opacity="0.11"/><stop offset="0.97" stop-color="#fff" stop-opacity="0.09"/><stop offset="1" stop-color="#fff" stop-opacity="0"/></radialGradient>
<clipPath id="cb3"><rect x="479" y="10" width="74" height="74.4"/></clipPath>
<clipPath id="cd3"><rect x="479" y="181" width="75" height="74.5"/></clipPath>
<radialGradient id="rp3" gradientUnits="userSpaceOnUse" cx="519.5" cy="216.5" r="75"><stop offset="0" stop-color="#080808"/><stop offset="0.01" stop-color="#080808"/><stop offset="0.03" stop-color="#080808"/><stop offset="0.04" stop-color="#080808"/><stop offset="0.05" stop-color="#080808"/><stop offset="0.06" stop-color="#080808"/><stop offset="0.07" stop-color="#080808"/><stop offset="0.09" stop-color="#080808"/><stop offset="0.1" stop-color="#080808"/><stop offset="0.11" stop-color="#080808"/><stop offset="0.12" stop-color="#080808"/><stop offset="0.14" stop-color="#080808"/><stop offset="0.15" stop-color="#080808"/><stop offset="0.16" stop-color="#080808"/><stop offset="0.17" stop-color="#080808"/><stop offset="0.19" stop-color="#0d0d0d"/><stop offset="0.2" stop-color="#1e1e1e"/><stop offset="0.21" stop-color="#2b2b2b"/><stop offset="0.23" stop-color="#292929"/><stop offset="0.24" stop-color="#1b1b1b"/><stop offset="0.25" stop-color="#0d0d0d"/><stop offset="0.26" stop-color="#080808"/><stop offset="0.28" stop-color="#0e0e0e"/><stop offset="0.29" stop-color="#181818"/><stop offset="0.3" stop-color="#1d1d1d"/><stop offset="0.31" stop-color="#191919"/><stop offset="0.33" stop-color="#101010"/><stop offset="0.34" stop-color="#090909"/><stop offset="0.35" stop-color="#080808"/><stop offset="0.36" stop-color="#0e0e0e"/><stop offset="0.38" stop-color="#141414"/><stop offset="0.39" stop-color="#151515"/><stop offset="0.4" stop-color="#111111"/><stop offset="0.41" stop-color="#0b0b0b"/><stop offset="0.42" stop-color="#080808"/><stop offset="0.44" stop-color="#090909"/><stop offset="0.45" stop-color="#0e0e0e"/><stop offset="0.46" stop-color="#111111"/><stop offset="0.47" stop-color="#101010"/><stop offset="0.49" stop-color="#0c0c0c"/><stop offset="0.5" stop-color="#090909"/><stop offset="0.51" stop-color="#080808"/><stop offset="0.53" stop-color="#0a0a0a"/><stop offset="0.54" stop-color="#0e0e0e"/><stop offset="0.55" stop-color="#0f0f0f"/><stop offset="0.56" stop-color="#0e0e0e"/><stop offset="0.57" stop-color="#0a0a0a"/><stop offset="0.59" stop-color="#080808"/><stop offset="0.6" stop-color="#080808"/><stop offset="0.61" stop-color="#0b0b0b"/><stop offset="0.62" stop-color="#0e0e0e"/><stop offset="0.64" stop-color="#0e0e0e"/><stop offset="0.65" stop-color="#0c0c0c"/><stop offset="0.66" stop-color="#090909"/><stop offset="0.68" stop-color="#080808"/><stop offset="0.69" stop-color="#090909"/><stop offset="0.7" stop-color="#0c0c0c"/><stop offset="0.71" stop-color="#0e0e0e"/><stop offset="0.72" stop-color="#0d0d0d"/><stop offset="0.74" stop-color="#0a0a0a"/><stop offset="0.75" stop-color="#080808"/><stop offset="0.76" stop-color="#080808"/><stop offset="0.78" stop-color="#0a0a0a"/><stop offset="0.79" stop-color="#0d0d0d"/><stop offset="0.8" stop-color="#0d0d0d"/><stop offset="0.81" stop-color="#0c0c0c"/><stop offset="0.82" stop-color="#090909"/><stop offset="0.84" stop-color="#080808"/><stop offset="0.85" stop-color="#080808"/><stop offset="0.86" stop-color="#0b0b0b"/><stop offset="0.88" stop-color="#0d0d0d"/><stop offset="0.89" stop-color="#0d0d0d"/><stop offset="0.9" stop-color="#0b0b0b"/><stop offset="0.91" stop-color="#080808"/><stop offset="0.93" stop-color="#080808"/><stop offset="0.94" stop-color="#090909"/><stop offset="0.95" stop-color="#0c0c0c"/><stop offset="0.96" stop-color="#0d0d0d"/><stop offset="0.97" stop-color="#0c0c0c"/><stop offset="0.99" stop-color="#0a0a0a"/><stop offset="1" stop-color="#080808"/></radialGradient>
<radialGradient id="bh3"><stop offset="0" stop-color="#fff" stop-opacity="1"/><stop offset="0.03" stop-color="#fff" stop-opacity="0.81"/><stop offset="0.05" stop-color="#fff" stop-opacity="0.41"/><stop offset="0.07" stop-color="#fff" stop-opacity="0.2"/><stop offset="0.1" stop-color="#fff" stop-opacity="0.36"/><stop offset="0.12" stop-color="#fff" stop-opacity="0.73"/><stop offset="0.15" stop-color="#fff" stop-opacity="0.94"/><stop offset="0.17" stop-color="#fff" stop-opacity="0.79"/><stop offset="0.2" stop-color="#fff" stop-opacity="0.42"/><stop offset="0.23" stop-color="#fff" stop-opacity="0.18"/><stop offset="0.25" stop-color="#fff" stop-opacity="0.28"/><stop offset="0.28" stop-color="#fff" stop-opacity="0.59"/><stop offset="0.3" stop-color="#fff" stop-opacity="0.79"/><stop offset="0.33" stop-color="#fff" stop-opacity="0.69"/><stop offset="0.35" stop-color="#fff" stop-opacity="0.39"/><stop offset="0.38" stop-color="#fff" stop-opacity="0.16"/><stop offset="0.4" stop-color="#fff" stop-opacity="0.2"/><stop offset="0.42" stop-color="#fff" stop-opacity="0.42"/><stop offset="0.45" stop-color="#fff" stop-opacity="0.59"/><stop offset="0.47" stop-color="#fff" stop-opacity="0.54"/><stop offset="0.5" stop-color="#fff" stop-opacity="0.31"/><stop offset="0.53" stop-color="#fff" stop-opacity="0.13"/><stop offset="0.55" stop-color="#fff" stop-opacity="0.12"/><stop offset="0.57" stop-color="#fff" stop-opacity="0.27"/><stop offset="0.6" stop-color="#fff" stop-opacity="0.39"/><stop offset="0.62" stop-color="#fff" stop-opacity="0.37"/><stop offset="0.65" stop-color="#fff" stop-opacity="0.23"/><stop offset="0.68" stop-color="#fff" stop-opacity="0.09"/><stop offset="0.7" stop-color="#fff" stop-opacity="0.07"/><stop offset="0.72" stop-color="#fff" stop-opacity="0.15"/><stop offset="0.75" stop-color="#fff" stop-opacity="0.23"/><stop offset="0.78" stop-color="#fff" stop-opacity="0.23"/><stop offset="0.8" stop-color="#fff" stop-opacity="0.14"/><stop offset="0.82" stop-color="#fff" stop-opacity="0.06"/><stop offset="0.85" stop-color="#fff" stop-opacity="0.04"/><stop offset="0.88" stop-color="#fff" stop-opacity="0.08"/><stop offset="0.9" stop-color="#fff" stop-opacity="0.12"/><stop offset="0.93" stop-color="#fff" stop-opacity="0.13"/><stop offset="0.95" stop-color="#fff" stop-opacity="0.08"/><stop offset="0.97" stop-color="#fff" stop-opacity="0.03"/><stop offset="1" stop-color="#fff" stop-opacity="0"/></radialGradient>
<clipPath id="cb4"><rect x="230" y="91" width="75" height="74.8"/></clipPath>
<clipPath id="cd4"><rect x="231" y="262.5" width="75" height="74.5"/></clipPath>
<radialGradient id="rp4" gradientUnits="userSpaceOnUse" cx="267.5" cy="298.5" r="75"><stop offset="0" stop-color="#080808"/><stop offset="0.01" stop-color="#080808"/><stop offset="0.03" stop-color="#080808"/><stop offset="0.04" stop-color="#080808"/><stop offset="0.05" stop-color="#080808"/><stop offset="0.06" stop-color="#080808"/><stop offset="0.07" stop-color="#080808"/><stop offset="0.09" stop-color="#080808"/><stop offset="0.1" stop-color="#080808"/><stop offset="0.11" stop-color="#080808"/><stop offset="0.12" stop-color="#080808"/><stop offset="0.14" stop-color="#080808"/><stop offset="0.15" stop-color="#080808"/><stop offset="0.16" stop-color="#080808"/><stop offset="0.17" stop-color="#080808"/><stop offset="0.19" stop-color="#0d0d0d"/><stop offset="0.2" stop-color="#1e1e1e"/><stop offset="0.21" stop-color="#2b2b2b"/><stop offset="0.23" stop-color="#292929"/><stop offset="0.24" stop-color="#1b1b1b"/><stop offset="0.25" stop-color="#0d0d0d"/><stop offset="0.26" stop-color="#080808"/><stop offset="0.28" stop-color="#0e0e0e"/><stop offset="0.29" stop-color="#181818"/><stop offset="0.3" stop-color="#1d1d1d"/><stop offset="0.31" stop-color="#191919"/><stop offset="0.33" stop-color="#101010"/><stop offset="0.34" stop-color="#090909"/><stop offset="0.35" stop-color="#080808"/><stop offset="0.36" stop-color="#0e0e0e"/><stop offset="0.38" stop-color="#141414"/><stop offset="0.39" stop-color="#151515"/><stop offset="0.4" stop-color="#111111"/><stop offset="0.41" stop-color="#0b0b0b"/><stop offset="0.42" stop-color="#080808"/><stop offset="0.44" stop-color="#090909"/><stop offset="0.45" stop-color="#0e0e0e"/><stop offset="0.46" stop-color="#111111"/><stop offset="0.47" stop-color="#101010"/><stop offset="0.49" stop-color="#0c0c0c"/><stop offset="0.5" stop-color="#090909"/><stop offset="0.51" stop-color="#080808"/><stop offset="0.53" stop-color="#0a0a0a"/><stop offset="0.54" stop-color="#0e0e0e"/><stop offset="0.55" stop-color="#0f0f0f"/><stop offset="0.56" stop-color="#0e0e0e"/><stop offset="0.57" stop-color="#0a0a0a"/><stop offset="0.59" stop-color="#080808"/><stop offset="0.6" stop-color="#080808"/><stop offset="0.61" stop-color="#0b0b0b"/><stop offset="0.62" stop-color="#0e0e0e"/><stop offset="0.64" stop-color="#0e0e0e"/><stop offset="0.65" stop-color="#0c0c0c"/><stop offset="0.66" stop-color="#090909"/><stop offset="0.68" stop-color="#080808"/><stop offset="0.69" stop-color="#090909"/><stop offset="0.7" stop-color="#0c0c0c"/><stop offset="0.71" stop-color="#0e0e0e"/><stop offset="0.72" stop-color="#0d0d0d"/><stop offset="0.74" stop-color="#0a0a0a"/><stop offset="0.75" stop-color="#080808"/><stop offset="0.76" stop-color="#080808"/><stop offset="0.78" stop-color="#0a0a0a"/><stop offset="0.79" stop-color="#0d0d0d"/><stop offset="0.8" stop-color="#0d0d0d"/><stop offset="0.81" stop-color="#0c0c0c"/><stop offset="0.82" stop-color="#090909"/><stop offset="0.84" stop-color="#080808"/><stop offset="0.85" stop-color="#080808"/><stop offset="0.86" stop-color="#0b0b0b"/><stop offset="0.88" stop-color="#0d0d0d"/><stop offset="0.89" stop-color="#0d0d0d"/><stop offset="0.9" stop-color="#0b0b0b"/><stop offset="0.91" stop-color="#080808"/><stop offset="0.93" stop-color="#080808"/><stop offset="0.94" stop-color="#090909"/><stop offset="0.95" stop-color="#0c0c0c"/><stop offset="0.96" stop-color="#0d0d0d"/><stop offset="0.97" stop-color="#0c0c0c"/><stop offset="0.99" stop-color="#0a0a0a"/><stop offset="1" stop-color="#080808"/></radialGradient>
<radialGradient id="bh4"><stop offset="0" stop-color="#fff" stop-opacity="1"/><stop offset="0.03" stop-color="#fff" stop-opacity="0.97"/><stop offset="0.05" stop-color="#fff" stop-opacity="0.87"/><stop offset="0.07" stop-color="#fff" stop-opacity="0.72"/><stop offset="0.1" stop-color="#fff" stop-opacity="0.56"/><stop offset="0.12" stop-color="#fff" stop-opacity="0.4"/><stop offset="0.15" stop-color="#fff" stop-opacity="0.27"/><stop offset="0.17" stop-color="#fff" stop-opacity="0.2"/><stop offset="0.2" stop-color="#fff" stop-opacity="0.18"/><stop offset="0.23" stop-color="#fff" stop-opacity="0.23"/><stop offset="0.25" stop-color="#fff" stop-opacity="0.32"/><stop offset="0.28" stop-color="#fff" stop-opacity="0.43"/><stop offset="0.3" stop-color="#fff" stop-opacity="0.55"/><stop offset="0.33" stop-color="#fff" stop-opacity="0.64"/><stop offset="0.35" stop-color="#fff" stop-opacity="0.7"/><stop offset="0.38" stop-color="#fff" stop-opacity="0.71"/><stop offset="0.4" stop-color="#fff" stop-opacity="0.67"/><stop offset="0.42" stop-color="#fff" stop-opacity="0.59"/><stop offset="0.45" stop-color="#fff" stop-opacity="0.48"/><stop offset="0.47" stop-color="#fff" stop-opacity="0.36"/><stop offset="0.5" stop-color="#fff" stop-opacity="0.25"/><stop offset="0.53" stop-color="#fff" stop-opacity="0.17"/><stop offset="0.55" stop-color="#fff" stop-opacity="0.11"/><stop offset="0.57" stop-color="#fff" stop-opacity="0.09"/><stop offset="0.6" stop-color="#fff" stop-opacity="0.1"/><stop offset="0.62" stop-color="#fff" stop-opacity="0.13"/><stop offset="0.65" stop-color="#fff" stop-opacity="0.17"/><stop offset="0.68" stop-color="#fff" stop-opacity="0.21"/><stop offset="0.7" stop-color="#fff" stop-opacity="0.24"/><stop offset="0.72" stop-color="#fff" stop-opacity="0.26"/><stop offset="0.75" stop-color="#fff" stop-opacity="0.25"/><stop offset="0.78" stop-color="#fff" stop-opacity="0.23"/><stop offset="0.8" stop-color="#fff" stop-opacity="0.2"/><stop offset="0.82" stop-color="#fff" stop-opacity="0.16"/><stop offset="0.85" stop-color="#fff" stop-opacity="0.12"/><stop offset="0.88" stop-color="#fff" stop-opacity="0.08"/><stop offset="0.9" stop-color="#fff" stop-opacity="0.05"/><stop offset="0.93" stop-color="#fff" stop-opacity="0.03"/><stop offset="0.95" stop-color="#fff" stop-opacity="0.02"/><stop offset="0.97" stop-color="#fff" stop-opacity="0.02"/><stop offset="1" stop-color="#fff" stop-opacity="0"/></radialGradient>
<clipPath id="cb5"><rect x="312" y="91" width="75" height="74.8"/></clipPath>
<clipPath id="cd5"><rect x="314" y="262.5" width="74.5" height="74.5"/></clipPath>
<radialGradient id="rp5" gradientUnits="userSpaceOnUse" cx="349.2" cy="301" r="75"><stop offset="0" stop-color="#080808"/><stop offset="0.01" stop-color="#080808"/><stop offset="0.03" stop-color="#080808"/><stop offset="0.04" stop-color="#080808"/><stop offset="0.05" stop-color="#080808"/><stop offset="0.06" stop-color="#080808"/><stop offset="0.07" stop-color="#080808"/><stop offset="0.09" stop-color="#080808"/><stop offset="0.1" stop-color="#080808"/><stop offset="0.11" stop-color="#080808"/><stop offset="0.12" stop-color="#080808"/><stop offset="0.14" stop-color="#080808"/><stop offset="0.15" stop-color="#080808"/><stop offset="0.16" stop-color="#080808"/><stop offset="0.17" stop-color="#080808"/><stop offset="0.19" stop-color="#0d0d0d"/><stop offset="0.2" stop-color="#1e1e1e"/><stop offset="0.21" stop-color="#2b2b2b"/><stop offset="0.23" stop-color="#292929"/><stop offset="0.24" stop-color="#1b1b1b"/><stop offset="0.25" stop-color="#0d0d0d"/><stop offset="0.26" stop-color="#080808"/><stop offset="0.28" stop-color="#0e0e0e"/><stop offset="0.29" stop-color="#181818"/><stop offset="0.3" stop-color="#1d1d1d"/><stop offset="0.31" stop-color="#191919"/><stop offset="0.33" stop-color="#101010"/><stop offset="0.34" stop-color="#090909"/><stop offset="0.35" stop-color="#080808"/><stop offset="0.36" stop-color="#0e0e0e"/><stop offset="0.38" stop-color="#141414"/><stop offset="0.39" stop-color="#151515"/><stop offset="0.4" stop-color="#111111"/><stop offset="0.41" stop-color="#0b0b0b"/><stop offset="0.42" stop-color="#080808"/><stop offset="0.44" stop-color="#090909"/><stop offset="0.45" stop-color="#0e0e0e"/><stop offset="0.46" stop-color="#111111"/><stop offset="0.47" stop-color="#101010"/><stop offset="0.49" stop-color="#0c0c0c"/><stop offset="0.5" stop-color="#090909"/><stop offset="0.51" stop-color="#080808"/><stop offset="0.53" stop-color="#0a0a0a"/><stop offset="0.54" stop-color="#0e0e0e"/><stop offset="0.55" stop-color="#0f0f0f"/><stop offset="0.56" stop-color="#0e0e0e"/><stop offset="0.57" stop-color="#0a0a0a"/><stop offset="0.59" stop-color="#080808"/><stop offset="0.6" stop-color="#080808"/><stop offset="0.61" stop-color="#0b0b0b"/><stop offset="0.62" stop-color="#0e0e0e"/><stop offset="0.64" stop-color="#0e0e0e"/><stop offset="0.65" stop-color="#0c0c0c"/><stop offset="0.66" stop-color="#090909"/><stop offset="0.68" stop-color="#080808"/><stop offset="0.69" stop-color="#090909"/><stop offset="0.7" stop-color="#0c0c0c"/><stop offset="0.71" stop-color="#0e0e0e"/><stop offset="0.72" stop-color="#0d0d0d"/><stop offset="0.74" stop-color="#0a0a0a"/><stop offset="0.75" stop-color="#080808"/><stop offset="0.76" stop-color="#080808"/><stop offset="0.78" stop-color="#0a0a0a"/><stop offset="0.79" stop-color="#0d0d0d"/><stop offset="0.8" stop-color="#0d0d0d"/><stop offset="0.81" stop-color="#0c0c0c"/><stop offset="0.82" stop-color="#090909"/><stop offset="0.84" stop-color="#080808"/><stop offset="0.85" stop-color="#080808"/><stop offset="0.86" stop-color="#0b0b0b"/><stop offset="0.88" stop-color="#0d0d0d"/><stop offset="0.89" stop-color="#0d0d0d"/><stop offset="0.9" stop-color="#0b0b0b"/><stop offset="0.91" stop-color="#080808"/><stop offset="0.93" stop-color="#080808"/><stop offset="0.94" stop-color="#090909"/><stop offset="0.95" stop-color="#0c0c0c"/><stop offset="0.96" stop-color="#0d0d0d"/><stop offset="0.97" stop-color="#0c0c0c"/><stop offset="0.99" stop-color="#0a0a0a"/><stop offset="1" stop-color="#080808"/></radialGradient>
<radialGradient id="bh5"><stop offset="0" stop-color="#fff" stop-opacity="1"/><stop offset="0.03" stop-color="#fff" stop-opacity="0.97"/><stop offset="0.05" stop-color="#fff" stop-opacity="0.87"/><stop offset="0.07" stop-color="#fff" stop-opacity="0.72"/><stop offset="0.1" stop-color="#fff" stop-opacity="0.56"/><stop offset="0.12" stop-color="#fff" stop-opacity="0.4"/><stop offset="0.15" stop-color="#fff" stop-opacity="0.27"/><stop offset="0.17" stop-color="#fff" stop-opacity="0.2"/><stop offset="0.2" stop-color="#fff" stop-opacity="0.18"/><stop offset="0.23" stop-color="#fff" stop-opacity="0.23"/><stop offset="0.25" stop-color="#fff" stop-opacity="0.32"/><stop offset="0.28" stop-color="#fff" stop-opacity="0.43"/><stop offset="0.3" stop-color="#fff" stop-opacity="0.55"/><stop offset="0.33" stop-color="#fff" stop-opacity="0.64"/><stop offset="0.35" stop-color="#fff" stop-opacity="0.7"/><stop offset="0.38" stop-color="#fff" stop-opacity="0.71"/><stop offset="0.4" stop-color="#fff" stop-opacity="0.67"/><stop offset="0.42" stop-color="#fff" stop-opacity="0.59"/><stop offset="0.45" stop-color="#fff" stop-opacity="0.48"/><stop offset="0.47" stop-color="#fff" stop-opacity="0.36"/><stop offset="0.5" stop-color="#fff" stop-opacity="0.25"/><stop offset="0.53" stop-color="#fff" stop-opacity="0.17"/><stop offset="0.55" stop-color="#fff" stop-opacity="0.11"/><stop offset="0.57" stop-color="#fff" stop-opacity="0.09"/><stop offset="0.6" stop-color="#fff" stop-opacity="0.1"/><stop offset="0.62" stop-color="#fff" stop-opacity="0.13"/><stop offset="0.65" stop-color="#fff" stop-opacity="0.17"/><stop offset="0.68" stop-color="#fff" stop-opacity="0.21"/><stop offset="0.7" stop-color="#fff" stop-opacity="0.24"/><stop offset="0.72" stop-color="#fff" stop-opacity="0.26"/><stop offset="0.75" stop-color="#fff" stop-opacity="0.25"/><stop offset="0.78" stop-color="#fff" stop-opacity="0.23"/><stop offset="0.8" stop-color="#fff" stop-opacity="0.2"/><stop offset="0.82" stop-color="#fff" stop-opacity="0.16"/><stop offset="0.85" stop-color="#fff" stop-opacity="0.12"/><stop offset="0.88" stop-color="#fff" stop-opacity="0.08"/><stop offset="0.9" stop-color="#fff" stop-opacity="0.05"/><stop offset="0.93" stop-color="#fff" stop-opacity="0.03"/><stop offset="0.95" stop-color="#fff" stop-opacity="0.02"/><stop offset="0.97" stop-color="#fff" stop-opacity="0.02"/><stop offset="1" stop-color="#fff" stop-opacity="0"/></radialGradient>
<clipPath id="cb6"><rect x="396" y="91" width="75" height="74.8"/></clipPath>
<clipPath id="cd6"><rect x="397" y="262.5" width="74" height="74.5"/></clipPath>
<radialGradient id="rp6" gradientUnits="userSpaceOnUse" cx="432.9" cy="304.2" r="75"><stop offset="0" stop-color="#080808"/><stop offset="0.01" stop-color="#080808"/><stop offset="0.03" stop-color="#080808"/><stop offset="0.04" stop-color="#080808"/><stop offset="0.05" stop-color="#080808"/><stop offset="0.06" stop-color="#080808"/><stop offset="0.07" stop-color="#080808"/><stop offset="0.09" stop-color="#080808"/><stop offset="0.1" stop-color="#080808"/><stop offset="0.11" stop-color="#080808"/><stop offset="0.12" stop-color="#080808"/><stop offset="0.14" stop-color="#080808"/><stop offset="0.15" stop-color="#080808"/><stop offset="0.16" stop-color="#080808"/><stop offset="0.17" stop-color="#080808"/><stop offset="0.19" stop-color="#0d0d0d"/><stop offset="0.2" stop-color="#1e1e1e"/><stop offset="0.21" stop-color="#2b2b2b"/><stop offset="0.23" stop-color="#292929"/><stop offset="0.24" stop-color="#1b1b1b"/><stop offset="0.25" stop-color="#0d0d0d"/><stop offset="0.26" stop-color="#080808"/><stop offset="0.28" stop-color="#0e0e0e"/><stop offset="0.29" stop-color="#181818"/><stop offset="0.3" stop-color="#1d1d1d"/><stop offset="0.31" stop-color="#191919"/><stop offset="0.33" stop-color="#101010"/><stop offset="0.34" stop-color="#090909"/><stop offset="0.35" stop-color="#080808"/><stop offset="0.36" stop-color="#0e0e0e"/><stop offset="0.38" stop-color="#141414"/><stop offset="0.39" stop-color="#151515"/><stop offset="0.4" stop-color="#111111"/><stop offset="0.41" stop-color="#0b0b0b"/><stop offset="0.42" stop-color="#080808"/><stop offset="0.44" stop-color="#090909"/><stop offset="0.45" stop-color="#0e0e0e"/><stop offset="0.46" stop-color="#111111"/><stop offset="0.47" stop-color="#101010"/><stop offset="0.49" stop-color="#0c0c0c"/><stop offset="0.5" stop-color="#090909"/><stop offset="0.51" stop-color="#080808"/><stop offset="0.53" stop-color="#0a0a0a"/><stop offset="0.54" stop-color="#0e0e0e"/><stop offset="0.55" stop-color="#0f0f0f"/><stop offset="0.56" stop-color="#0e0e0e"/><stop offset="0.57" stop-color="#0a0a0a"/><stop offset="0.59" stop-color="#080808"/><stop offset="0.6" stop-color="#080808"/><stop offset="0.61" stop-color="#0b0b0b"/><stop offset="0.62" stop-color="#0e0e0e"/><stop offset="0.64" stop-color="#0e0e0e"/><stop offset="0.65" stop-color="#0c0c0c"/><stop offset="0.66" stop-color="#090909"/><stop offset="0.68" stop-color="#080808"/><stop offset="0.69" stop-color="#090909"/><stop offset="0.7" stop-color="#0c0c0c"/><stop offset="0.71" stop-color="#0e0e0e"/><stop offset="0.72" stop-color="#0d0d0d"/><stop offset="0.74" stop-color="#0a0a0a"/><stop offset="0.75" stop-color="#080808"/><stop offset="0.76" stop-color="#080808"/><stop offset="0.78" stop-color="#0a0a0a"/><stop offset="0.79" stop-color="#0d0d0d"/><stop offset="0.8" stop-color="#0d0d0d"/><stop offset="0.81" stop-color="#0c0c0c"/><stop offset="0.82" stop-color="#090909"/><stop offset="0.84" stop-color="#080808"/><stop offset="0.85" stop-color="#080808"/><stop offset="0.86" stop-color="#0b0b0b"/><stop offset="0.88" stop-color="#0d0d0d"/><stop offset="0.89" stop-color="#0d0d0d"/><stop offset="0.9" stop-color="#0b0b0b"/><stop offset="0.91" stop-color="#080808"/><stop offset="0.93" stop-color="#080808"/><stop offset="0.94" stop-color="#090909"/><stop offset="0.95" stop-color="#0c0c0c"/><stop offset="0.96" stop-color="#0d0d0d"/><stop offset="0.97" stop-color="#0c0c0c"/><stop offset="0.99" stop-color="#0a0a0a"/><stop offset="1" stop-color="#080808"/></radialGradient>
<radialGradient id="bh6"><stop offset="0" stop-color="#fff" stop-opacity="1"/><stop offset="0.03" stop-color="#fff" stop-opacity="0.76"/><stop offset="0.05" stop-color="#fff" stop-opacity="0.33"/><stop offset="0.07" stop-color="#fff" stop-opacity="0.22"/><stop offset="0.1" stop-color="#fff" stop-opacity="0.56"/><stop offset="0.12" stop-color="#fff" stop-opacity="0.92"/><stop offset="0.15" stop-color="#fff" stop-opacity="0.86"/><stop offset="0.17" stop-color="#fff" stop-opacity="0.46"/><stop offset="0.2" stop-color="#fff" stop-opacity="0.18"/><stop offset="0.23" stop-color="#fff" stop-opacity="0.35"/><stop offset="0.25" stop-color="#fff" stop-opacity="0.71"/><stop offset="0.28" stop-color="#fff" stop-opacity="0.83"/><stop offset="0.3" stop-color="#fff" stop-opacity="0.55"/><stop offset="0.33" stop-color="#fff" stop-opacity="0.21"/><stop offset="0.35" stop-color="#fff" stop-opacity="0.19"/><stop offset="0.38" stop-color="#fff" stop-opacity="0.47"/><stop offset="0.4" stop-color="#fff" stop-opacity="0.67"/><stop offset="0.42" stop-color="#fff" stop-opacity="0.55"/><stop offset="0.45" stop-color="#fff" stop-opacity="0.25"/><stop offset="0.47" stop-color="#fff" stop-opacity="0.12"/><stop offset="0.5" stop-color="#fff" stop-opacity="0.25"/><stop offset="0.53" stop-color="#fff" stop-opacity="0.46"/><stop offset="0.55" stop-color="#fff" stop-opacity="0.46"/><stop offset="0.57" stop-color="#fff" stop-opacity="0.27"/><stop offset="0.6" stop-color="#fff" stop-opacity="0.1"/><stop offset="0.62" stop-color="#fff" stop-opacity="0.12"/><stop offset="0.65" stop-color="#fff" stop-opacity="0.26"/><stop offset="0.68" stop-color="#fff" stop-opacity="0.33"/><stop offset="0.7" stop-color="#fff" stop-opacity="0.24"/><stop offset="0.72" stop-color="#fff" stop-opacity="0.1"/><stop offset="0.75" stop-color="#fff" stop-opacity="0.06"/><stop offset="0.78" stop-color="#fff" stop-opacity="0.13"/><stop offset="0.8" stop-color="#fff" stop-opacity="0.2"/><stop offset="0.82" stop-color="#fff" stop-opacity="0.18"/><stop offset="0.85" stop-color="#fff" stop-opacity="0.09"/><stop offset="0.88" stop-color="#fff" stop-opacity="0.03"/><stop offset="0.9" stop-color="#fff" stop-opacity="0.05"/><stop offset="0.93" stop-color="#fff" stop-opacity="0.1"/><stop offset="0.95" stop-color="#fff" stop-opacity="0.11"/><stop offset="0.97" stop-color="#fff" stop-opacity="0.07"/><stop offset="1" stop-color="#fff" stop-opacity="0"/></radialGradient>
<clipPath id="cb7"><rect x="479" y="91" width="74" height="74.8"/></clipPath>
<clipPath id="cd7"><rect x="479" y="262.5" width="75" height="74.5"/></clipPath>
<radialGradient id="rp7" gradientUnits="userSpaceOnUse" cx="522" cy="301" r="75"><stop offset="0" stop-color="#080808"/><stop offset="0.01" stop-color="#080808"/><stop offset="0.03" stop-color="#080808"/><stop offset="0.04" stop-color="#080808"/><stop offset="0.05" stop-color="#080808"/><stop offset="0.06" stop-color="#080808"/><stop offset="0.07" stop-color="#080808"/><stop offset="0.09" stop-color="#080808"/><stop offset="0.1" stop-color="#080808"/><stop offset="0.11" stop-color="#080808"/><stop offset="0.12" stop-color="#080808"/><stop offset="0.14" stop-color="#080808"/><stop offset="0.15" stop-color="#080808"/><stop offset="0.16" stop-color="#080808"/><stop offset="0.17" stop-color="#080808"/><stop offset="0.19" stop-color="#0d0d0d"/><stop offset="0.2" stop-color="#1e1e1e"/><stop offset="0.21" stop-color="#2b2b2b"/><stop offset="0.23" stop-color="#292929"/><stop offset="0.24" stop-color="#1b1b1b"/><stop offset="0.25" stop-color="#0d0d0d"/><stop offset="0.26" stop-color="#080808"/><stop offset="0.28" stop-color="#0e0e0e"/><stop offset="0.29" stop-color="#181818"/><stop offset="0.3" stop-color="#1d1d1d"/><stop offset="0.31" stop-color="#191919"/><stop offset="0.33" stop-color="#101010"/><stop offset="0.34" stop-color="#090909"/><stop offset="0.35" stop-color="#080808"/><stop offset="0.36" stop-color="#0e0e0e"/><stop offset="0.38" stop-color="#141414"/><stop offset="0.39" stop-color="#151515"/><stop offset="0.4" stop-color="#111111"/><stop offset="0.41" stop-color="#0b0b0b"/><stop offset="0.42" stop-color="#080808"/><stop offset="0.44" stop-color="#090909"/><stop offset="0.45" stop-color="#0e0e0e"/><stop offset="0.46" stop-color="#111111"/><stop offset="0.47" stop-color="#101010"/><stop offset="0.49" stop-color="#0c0c0c"/><stop offset="0.5" stop-color="#090909"/><stop offset="0.51" stop-color="#080808"/><stop offset="0.53" stop-color="#0a0a0a"/><stop offset="0.54" stop-color="#0e0e0e"/><stop offset="0.55" stop-color="#0f0f0f"/><stop offset="0.56" stop-color="#0e0e0e"/><stop offset="0.57" stop-color="#0a0a0a"/><stop offset="0.59" stop-color="#080808"/><stop offset="0.6" stop-color="#080808"/><stop offset="0.61" stop-color="#0b0b0b"/><stop offset="0.62" stop-color="#0e0e0e"/><stop offset="0.64" stop-color="#0e0e0e"/><stop offset="0.65" stop-color="#0c0c0c"/><stop offset="0.66" stop-color="#090909"/><stop offset="0.68" stop-color="#080808"/><stop offset="0.69" stop-color="#090909"/><stop offset="0.7" stop-color="#0c0c0c"/><stop offset="0.71" stop-color="#0e0e0e"/><stop offset="0.72" stop-color="#0d0d0d"/><stop offset="0.74" stop-color="#0a0a0a"/><stop offset="0.75" stop-color="#080808"/><stop offset="0.76" stop-color="#080808"/><stop offset="0.78" stop-color="#0a0a0a"/><stop offset="0.79" stop-color="#0d0d0d"/><stop offset="0.8" stop-color="#0d0d0d"/><stop offset="0.81" stop-color="#0c0c0c"/><stop offset="0.82" stop-color="#090909"/><stop offset="0.84" stop-color="#080808"/><stop offset="0.85" stop-color="#080808"/><stop offset="0.86" stop-color="#0b0b0b"/><stop offset="0.88" stop-color="#0d0d0d"/><stop offset="0.89" stop-color="#0d0d0d"/><stop offset="0.9" stop-color="#0b0b0b"/><stop offset="0.91" stop-color="#080808"/><stop offset="0.93" stop-color="#080808"/><stop offset="0.94" stop-color="#090909"/><stop offset="0.95" stop-color="#0c0c0c"/><stop offset="0.96" stop-color="#0d0d0d"/><stop offset="0.97" stop-color="#0c0c0c"/><stop offset="0.99" stop-color="#0a0a0a"/><stop offset="1" stop-color="#080808"/></radialGradient>
<radialGradient id="bh7"><stop offset="0" stop-color="#fff" stop-opacity="1"/><stop offset="0.03" stop-color="#fff" stop-opacity="0.98"/><stop offset="0.05" stop-color="#fff" stop-opacity="0.9"/><stop offset="0.07" stop-color="#fff" stop-opacity="0.8"/><stop offset="0.1" stop-color="#fff" stop-opacity="0.67"/><stop offset="0.12" stop-color="#fff" stop-opacity="0.53"/><stop offset="0.15" stop-color="#fff" stop-opacity="0.39"/><stop offset="0.17" stop-color="#fff" stop-opacity="0.29"/><stop offset="0.2" stop-color="#fff" stop-opacity="0.21"/><stop offset="0.23" stop-color="#fff" stop-opacity="0.18"/><stop offset="0.25" stop-color="#fff" stop-opacity="0.18"/><stop offset="0.28" stop-color="#fff" stop-opacity="0.23"/><stop offset="0.3" stop-color="#fff" stop-opacity="0.3"/><stop offset="0.33" stop-color="#fff" stop-opacity="0.38"/><stop offset="0.35" stop-color="#fff" stop-opacity="0.47"/><stop offset="0.38" stop-color="#fff" stop-opacity="0.54"/><stop offset="0.4" stop-color="#fff" stop-opacity="0.59"/><stop offset="0.42" stop-color="#fff" stop-opacity="0.62"/><stop offset="0.45" stop-color="#fff" stop-opacity="0.61"/><stop offset="0.47" stop-color="#fff" stop-opacity="0.57"/><stop offset="0.5" stop-color="#fff" stop-opacity="0.51"/><stop offset="0.53" stop-color="#fff" stop-opacity="0.44"/><stop offset="0.55" stop-color="#fff" stop-opacity="0.35"/><stop offset="0.57" stop-color="#fff" stop-opacity="0.27"/><stop offset="0.6" stop-color="#fff" stop-opacity="0.2"/><stop offset="0.62" stop-color="#fff" stop-opacity="0.14"/><stop offset="0.65" stop-color="#fff" stop-opacity="0.09"/><stop offset="0.68" stop-color="#fff" stop-opacity="0.07"/><stop offset="0.7" stop-color="#fff" stop-opacity="0.06"/><stop offset="0.72" stop-color="#fff" stop-opacity="0.07"/><stop offset="0.75" stop-color="#fff" stop-opacity="0.08"/><stop offset="0.78" stop-color="#fff" stop-opacity="0.1"/><stop offset="0.8" stop-color="#fff" stop-opacity="0.12"/><stop offset="0.82" stop-color="#fff" stop-opacity="0.14"/><stop offset="0.85" stop-color="#fff" stop-opacity="0.14"/><stop offset="0.88" stop-color="#fff" stop-opacity="0.15"/><stop offset="0.9" stop-color="#fff" stop-opacity="0.14"/><stop offset="0.93" stop-color="#fff" stop-opacity="0.13"/><stop offset="0.95" stop-color="#fff" stop-opacity="0.11"/><stop offset="0.97" stop-color="#fff" stop-opacity="0.09"/><stop offset="1" stop-color="#fff" stop-opacity="0"/></radialGradient>
<filter id="bl1" x="-50%" y="-50%" width="200%" height="200%"><feGaussianBlur stdDeviation="1.1"/></filter>
<filter id="bl08" x="-50%" y="-50%" width="200%" height="200%"><feGaussianBlur stdDeviation="0.6"/></filter>
<filter id="bl14" x="-50%" y="-50%" width="200%" height="200%"><feGaussianBlur stdDeviation="1.4"/></filter>
<filter id="bl2" x="-50%" y="-50%" width="200%" height="200%"><feGaussianBlur stdDeviation="1.8"/></filter>
<pattern id="spk" width="4" height="4" patternUnits="userSpaceOnUse"><circle cx="2" cy="2" r="1.3" fill="#fff"/></pattern>
</defs>
<style>.cn{font-family:"Noto Serif CJK SC",serif;font-weight:bold;font-size:13.5px;fill:#fff;stroke:#fff;stroke-width:0.3} .sb{fill:#fff}</style>
<g clip-path="url(#cb0)"><g filter="url(#jet)">
<rect x="230" y="10" width="75" height="74.4" fill="#000"/>
<circle cx="266" cy="49" r="26" fill="url(#bh0)" opacity="0.17"/>
<ellipse cx="262.2" cy="51.4" rx="10.8" ry="8.1" fill="url(#gs1)" transform="rotate(50 262.2 51.4)" opacity="1.0"/>
</g></g>
<circle cx="267.7" cy="47.7" r="10.4" fill="none" stroke="#fff" stroke-width="1.9" stroke-linecap="round" stroke-dasharray="0.01 2.96"/>
<text x="232" y="22.1" class="cn">①</text>
<rect class="sb" x="276.1" y="79.9" width="25.9" height="1.9"/>
<g clip-path="url(#cb1)"><g filter="url(#jet)">
<rect x="312" y="10" width="75" height="74.4" fill="#000"/>
<circle cx="349" cy="52" r="14" fill="url(#bh1)" opacity="0.06"/>
<ellipse cx="347.2" cy="52.8" rx="9.6" ry="7.8" fill="url(#gs1)" transform="rotate(30 347.2 52.8)" opacity="0.92"/>
</g></g>
<circle cx="350.5" cy="47.7" r="10.5" fill="none" stroke="#fff" stroke-width="1.9" stroke-linecap="round" stroke-dasharray="0.01 2.99"/>
<text x="314" y="22.1" class="cn">②</text>
<rect class="sb" x="358" y="79.9" width="25.5" height="1.9"/>
<g clip-path="url(#cb2)"><g filter="url(#jet)">
<rect x="396" y="10" width="75" height="74.4" fill="#000"/>
<circle cx="440" cy="52" r="10" fill="url(#bh2)" opacity="0.05"/>
<path d="M446.34,41.32A13.5,13.5 0 0 1 434.82,63.45" fill="none" stroke="#fff" stroke-width="2.5" opacity="0.13" filter="url(#bl1)"/>
<ellipse cx="439.5" cy="52.7" rx="11.4" ry="6.3" fill="url(#gs1)" transform="rotate(-30 439.5 52.7)" opacity="1.0"/>
</g></g>
<circle cx="435.5" cy="48" r="10.3" fill="none" stroke="#fff" stroke-width="1.9" stroke-linecap="round" stroke-dasharray="0.01 2.93"/>
<text x="398" y="22.1" class="cn">③</text>
<rect class="sb" x="443.7" y="79.9" width="25.4" height="1.9"/>
<g clip-path="url(#cb3)"><g filter="url(#jet)">
<rect x="479" y="10" width="74" height="74.4" fill="#000"/>
<circle cx="516" cy="48" r="30" fill="url(#bh3)" opacity="0.11"/>
<circle cx="516" cy="48" r="30" fill="url(#spk)" opacity="0.035"/>
<ellipse cx="518" cy="49.5" rx="10.8" ry="13.2" fill="url(#gs1)" transform="rotate(-20 518 49.5)" opacity="0.45"/>
<ellipse cx="519.6" cy="50.3" rx="6" ry="7.2" fill="url(#gs1)" transform="rotate(0 519.6 50.3)" opacity="1.0"/>
</g></g>
<circle cx="515.1" cy="47.7" r="10.4" fill="none" stroke="#fff" stroke-width="1.9" stroke-linecap="round" stroke-dasharray="0.01 2.96"/>
<text x="481" y="22.1" class="cn">④</text>
<rect class="sb" x="524.5" y="79.9" width="25.5" height="1.9"/>
<g clip-path="url(#cb4)"><g filter="url(#jet)">
<rect x="230" y="91" width="75" height="74.8" fill="#000"/>
<circle cx="272" cy="129" r="12" fill="url(#bh4)" opacity="0.05"/>
<path d="M280.26,118.72A16,16 0 0 1 280.26,139.28" fill="none" stroke="#fff" stroke-width="2.5" opacity="0.12" filter="url(#bl1)"/>
<ellipse cx="275" cy="128.6" rx="5.7" ry="11.1" fill="url(#gs1)" transform="rotate(-5 275 128.6)" opacity="1.0"/>
</g></g>
<circle cx="268" cy="129.5" r="10.1" fill="none" stroke="#fff" stroke-width="1.9" stroke-linecap="round" stroke-dasharray="0.01 2.87"/>
<text x="232" y="103.1" class="cn">⑤</text>
<rect class="sb" x="276.1" y="160.9" width="25.9" height="1.9"/>
<g clip-path="url(#cb5)"><g filter="url(#jet)">
<rect x="312" y="91" width="75" height="74.8" fill="#000"/>
<circle cx="353" cy="124" r="12" fill="url(#bh5)" opacity="0.05"/>
<ellipse cx="353.5" cy="123.2" rx="13.2" ry="6.9" fill="url(#gs1)" transform="rotate(-3 353.5 123.2)" opacity="1.0"/>
</g></g>
<circle cx="353" cy="129.4" r="10.3" fill="none" stroke="#fff" stroke-width="1.9" stroke-linecap="round" stroke-dasharray="0.01 2.93"/>
<text x="314" y="103.1" class="cn">⑥</text>
<rect class="sb" x="358" y="160.9" width="25.5" height="1.9"/>
<g clip-path="url(#cb6)"><g filter="url(#jet)">
<rect x="396" y="91" width="75" height="74.8" fill="#000"/>
<circle cx="432" cy="127" r="34" fill="url(#bh6)" opacity="0.12"/>
<circle cx="432" cy="127" r="34" fill="url(#spk)" opacity="0.035"/>
<ellipse cx="429" cy="125.3" rx="7.8" ry="10.8" fill="url(#gs1)" transform="rotate(25 429 125.3)" opacity="0.4"/>
<ellipse cx="430.6" cy="122.9" rx="7.2" ry="6" fill="url(#gs1)" transform="rotate(-30 430.6 122.9)" opacity="1.0"/>
</g></g>
<circle cx="434" cy="129.4" r="10.5" fill="none" stroke="#fff" stroke-width="1.9" stroke-linecap="round" stroke-dasharray="0.01 2.99"/>
<text x="398" y="103.1" class="cn">⑦</text>
<rect class="sb" x="443.7" y="160.9" width="25.4" height="1.9"/>
<g clip-path="url(#cb7)"><g filter="url(#jet)">
<rect x="479" y="91" width="74" height="74.8" fill="#000"/>
<circle cx="514" cy="126" r="10" fill="url(#bh7)" opacity="0.05"/>
<ellipse cx="511.5" cy="128" rx="9" ry="13.8" fill="url(#gs1)" transform="rotate(40 511.5 128)" opacity="0.55"/>
<ellipse cx="513.3" cy="125.2" rx="7.2" ry="7.2" fill="url(#gs1)" transform="rotate(0 513.3 125.2)" opacity="0.88"/>
</g></g>
<circle cx="517.7" cy="129.9" r="10.6" fill="none" stroke="#fff" stroke-width="1.9" stroke-linecap="round" stroke-dasharray="0.01 3.02"/>
<text x="481" y="103.1" class="cn">⑧</text>
<rect class="sb" x="524.5" y="160.9" width="26" height="1.9"/>
<g clip-path="url(#cd0)"><g filter="url(#hot)">
<rect x="231" y="181" width="75" height="74.5" fill="#080808"/>
<circle cx="268.5" cy="217.2" r="75" fill="url(#rp0)"/>
<g fill="none" stroke="#fff" stroke-width="2.3" filter="url(#bl08)"><path d="M257.34,191.52A28,28 0 0 1 261.49,190.09" stroke-opacity="0.03"/><path d="M261.02,190.22A28,28 0 0 1 265.33,189.38" stroke-opacity="0.07"/><path d="M264.85,189.44A28,28 0 0 1 269.23,189.21" stroke-opacity="0.13"/><path d="M268.74,189.2A28,28 0 0 1 273.12,189.58" stroke-opacity="0.22"/><path d="M272.64,189.51A28,28 0 0 1 276.92,190.5" stroke-opacity="0.35"/><path d="M276.45,190.35A28,28 0 0 1 280.55,191.93" stroke-opacity="0.5"/><path d="M280.11,191.72A28,28 0 0 1 283.95,193.85" stroke-opacity="0.65"/><path d="M283.54,193.59A28,28 0 0 1 287.05,196.23" stroke-opacity="0.76"/><path d="M286.68,195.91A28,28 0 0 1 289.79,199.02" stroke-opacity="0.8"/><path d="M289.47,198.65A28,28 0 0 1 292.11,202.16" stroke-opacity="0.76"/><path d="M291.85,201.75A28,28 0 0 1 293.98,205.59" stroke-opacity="0.65"/><path d="M293.77,205.15A28,28 0 0 1 295.35,209.25" stroke-opacity="0.5"/><path d="M295.2,208.78A28,28 0 0 1 296.19,213.06" stroke-opacity="0.35"/><path d="M296.12,212.58A28,28 0 0 1 296.5,216.96" stroke-opacity="0.22"/><path d="M296.49,216.47A28,28 0 0 1 296.26,220.85" stroke-opacity="0.13"/><path d="M296.32,220.37A28,28 0 0 1 295.48,224.68" stroke-opacity="0.07"/><path d="M295.61,224.21A28,28 0 0 1 294.18,228.36" stroke-opacity="0.03"/><path d="M259.52,184.82A33.6,33.6 0 0 1 264.7,183.82" stroke-opacity="0.04"/><path d="M264.11,183.89A33.6,33.6 0 0 1 269.38,183.61" stroke-opacity="0.09"/><path d="M268.79,183.6A33.6,33.6 0 0 1 274.05,184.06" stroke-opacity="0.15"/><path d="M273.47,183.97A33.6,33.6 0 0 1 278.6,185.16" stroke-opacity="0.24"/><path d="M278.04,184.98A33.6,33.6 0 0 1 282.97,186.87" stroke-opacity="0.34"/><path d="M282.43,186.63A33.6,33.6 0 0 1 287.05,189.18" stroke-opacity="0.44"/><path d="M286.55,188.86A33.6,33.6 0 0 1 290.76,192.04" stroke-opacity="0.52"/><path d="M290.32,191.65A33.6,33.6 0 0 1 294.05,195.38" stroke-opacity="0.54"/><path d="M293.66,194.94A33.6,33.6 0 0 1 296.84,199.15" stroke-opacity="0.52"/><path d="M296.52,198.65A33.6,33.6 0 0 1 299.07,203.27" stroke-opacity="0.44"/><path d="M298.83,202.73A33.6,33.6 0 0 1 300.72,207.66" stroke-opacity="0.34"/><path d="M300.54,207.1A33.6,33.6 0 0 1 301.73,212.23" stroke-opacity="0.24"/><path d="M301.64,211.65A33.6,33.6 0 0 1 302.1,216.91" stroke-opacity="0.15"/><path d="M302.09,216.32A33.6,33.6 0 0 1 301.81,221.59" stroke-opacity="0.09"/><path d="M301.88,221A33.6,33.6 0 0 1 300.88,226.18" stroke-opacity="0.04"/><path d="M258.02,179.43A39.2,39.2 0 0 1 264.06,178.25" stroke-opacity="0.03"/><path d="M263.38,178.34A39.2,39.2 0 0 1 269.53,178.01" stroke-opacity="0.06"/><path d="M268.84,178A39.2,39.2 0 0 1 274.97,178.54" stroke-opacity="0.1"/><path d="M274.29,178.43A39.2,39.2 0 0 1 280.29,179.81" stroke-opacity="0.16"/><path d="M279.63,179.61A39.2,39.2 0 0 1 285.38,181.82" stroke-opacity="0.23"/><path d="M284.76,181.53A39.2,39.2 0 0 1 290.14,184.51" stroke-opacity="0.3"/><path d="M289.56,184.14A39.2,39.2 0 0 1 294.47,187.84" stroke-opacity="0.35"/><path d="M293.96,187.39A39.2,39.2 0 0 1 298.31,191.74" stroke-opacity="0.37"/><path d="M297.86,191.23A39.2,39.2 0 0 1 301.56,196.14" stroke-opacity="0.35"/><path d="M301.19,195.56A39.2,39.2 0 0 1 304.17,200.94" stroke-opacity="0.3"/><path d="M303.88,200.32A39.2,39.2 0 0 1 306.09,206.07" stroke-opacity="0.23"/><path d="M305.89,205.41A39.2,39.2 0 0 1 307.27,211.41" stroke-opacity="0.16"/><path d="M307.16,210.73A39.2,39.2 0 0 1 307.7,216.86" stroke-opacity="0.1"/><path d="M307.69,216.17A39.2,39.2 0 0 1 307.36,222.32" stroke-opacity="0.06"/><path d="M307.45,221.64A39.2,39.2 0 0 1 306.27,227.68" stroke-opacity="0.03"/><path d="M262.65,172.78A44.8,44.8 0 0 1 269.67,172.42" stroke-opacity="0.04"/><path d="M268.89,172.4A44.8,44.8 0 0 1 275.89,173.01" stroke-opacity="0.07"/><path d="M275.12,172.89A44.8,44.8 0 0 1 281.97,174.47" stroke-opacity="0.11"/><path d="M281.22,174.24A44.8,44.8 0 0 1 287.79,176.76" stroke-opacity="0.16"/><path d="M287.08,176.43A44.8,44.8 0 0 1 293.23,179.84" stroke-opacity="0.21"/><path d="M292.57,179.42A44.8,44.8 0 0 1 298.19,183.65" stroke-opacity="0.24"/><path d="M297.6,183.13A44.8,44.8 0 0 1 302.57,188.1" stroke-opacity="0.25"/><path d="M302.05,187.51A44.8,44.8 0 0 1 306.28,193.13" stroke-opacity="0.24"/><path d="M305.86,192.47A44.8,44.8 0 0 1 309.27,198.62" stroke-opacity="0.21"/><path d="M308.94,197.91A44.8,44.8 0 0 1 311.46,204.48" stroke-opacity="0.16"/><path d="M311.23,203.73A44.8,44.8 0 0 1 312.81,210.58" stroke-opacity="0.11"/><path d="M312.69,209.81A44.8,44.8 0 0 1 313.3,216.81" stroke-opacity="0.07"/><path d="M313.28,216.03A44.8,44.8 0 0 1 312.92,223.05" stroke-opacity="0.04"/><path d="M268.94,166.8A50.4,50.4 0 0 1 276.82,167.49" stroke-opacity="0.05"/><path d="M275.95,167.35A50.4,50.4 0 0 1 283.66,169.13" stroke-opacity="0.08"/><path d="M282.81,168.88A50.4,50.4 0 0 1 290.2,171.71" stroke-opacity="0.11"/><path d="M289.4,171.34A50.4,50.4 0 0 1 296.32,175.17" stroke-opacity="0.14"/><path d="M295.58,174.69A50.4,50.4 0 0 1 301.9,179.45" stroke-opacity="0.16"/><path d="M301.23,178.88A50.4,50.4 0 0 1 306.82,184.47" stroke-opacity="0.17"/><path d="M306.25,183.8A50.4,50.4 0 0 1 311.01,190.12" stroke-opacity="0.16"/><path d="M310.53,189.38A50.4,50.4 0 0 1 314.36,196.3" stroke-opacity="0.14"/><path d="M313.99,195.5A50.4,50.4 0 0 1 316.82,202.89" stroke-opacity="0.11"/><path d="M316.57,202.04A50.4,50.4 0 0 1 318.35,209.75" stroke-opacity="0.08"/><path d="M318.21,208.88A50.4,50.4 0 0 1 318.9,216.76" stroke-opacity="0.05"/></g>
<g filter="url(#bl14)"><ellipse cx="268.5" cy="217.2" rx="7.15" ry="10.05" fill="none" stroke="#fff" stroke-width="6.199999999999999" stroke-opacity="0.31"/><path d="M261.89,219.17 261.81,218.49 261.76,217.81 261.75,217.12 261.77,216.44 261.83,215.76 261.91,215.09 262.03,214.43 262.19,213.78 262.37,213.15 262.59,212.54 262.84,211.95 263.11,211.39 263.41,210.86 263.74,210.36 264.09,209.89 264.47,209.46 264.86,209.07 265.27,208.73 265.7,208.42 266.14,208.16 266.6,207.94 267.06,207.77 267.53,207.65" fill="none" stroke="#fff" stroke-width="4.6" stroke-opacity="0.5" stroke-linecap="round"/><path d="M261.86,215.48 261.91,215.13 261.97,214.77 262.03,214.43 262.11,214.08 262.2,213.74 262.29,213.4 262.4,213.07 262.51,212.75 262.63,212.43 262.76,212.12 262.9,211.81 263.04,211.52 263.2,211.23 263.36,210.95 263.53,210.68 263.7,210.41 263.88,210.16 264.07,209.92 264.27,209.69 264.47,209.46 264.67,209.25 264.88,209.05 265.1,208.86" fill="none" stroke="#fff" stroke-width="3.5999999999999996" stroke-opacity="0.32" stroke-linecap="round"/><ellipse cx="268.5" cy="217.2" rx="6.25" ry="9.15" fill="#000" fill-opacity="1"/></g>
</g></g>
<circle cx="270.2" cy="220.6" r="18.8" fill="none" stroke="#22c4f4" stroke-width="2.3" stroke-linecap="round" stroke-dasharray="0.01 3.46"/>
<text x="232.5" y="193.2" class="cn">①</text>
<rect class="sb" x="276" y="251.1" width="25.6" height="1.9"/>
<g clip-path="url(#cd1)"><g filter="url(#hot)">
<rect x="314" y="181" width="74.5" height="74.5" fill="#080808"/>
<circle cx="349.1" cy="217.4" r="75" fill="url(#rp1)"/>
<g fill="none" stroke="#fff" stroke-width="2.3" filter="url(#bl08)"><path d="M331.69,233.92A24,24 0 0 1 329.32,230.99" stroke-opacity="0.04"/><path d="M329.56,231.34A24,24 0 0 1 327.62,228.11" stroke-opacity="0.08"/><path d="M327.81,228.48A24,24 0 0 1 326.34,225.02" stroke-opacity="0.15"/><path d="M326.48,225.41A24,24 0 0 1 325.5,221.77" stroke-opacity="0.26"/><path d="M325.58,222.18A24,24 0 0 1 325.12,218.45" stroke-opacity="0.42"/><path d="M325.14,218.87A24,24 0 0 1 325.21,215.1" stroke-opacity="0.6"/><path d="M325.17,215.52A24,24 0 0 1 325.76,211.8" stroke-opacity="0.77"/><path d="M325.67,212.21A24,24 0 0 1 326.77,208.6" stroke-opacity="0.9"/><path d="M326.62,209A24,24 0 0 1 328.21,205.58" stroke-opacity="0.95"/><path d="M328.01,205.95A24,24 0 0 1 330.06,202.79" stroke-opacity="0.9"/><path d="M329.81,203.12A24,24 0 0 1 332.28,200.28" stroke-opacity="0.77"/><path d="M331.98,200.58A24,24 0 0 1 334.82,198.11" stroke-opacity="0.6"/><path d="M334.49,198.36A24,24 0 0 1 337.65,196.31" stroke-opacity="0.42"/><path d="M337.28,196.51A24,24 0 0 1 340.7,194.92" stroke-opacity="0.26"/><path d="M340.3,195.07A24,24 0 0 1 343.91,193.97" stroke-opacity="0.15"/><path d="M343.5,194.06A24,24 0 0 1 347.22,193.47" stroke-opacity="0.08"/><path d="M346.8,193.51A24,24 0 0 1 350.57,193.44" stroke-opacity="0.04"/><path d="M325,234.59A29.6,29.6 0 0 1 322.61,230.61" stroke-opacity="0.05"/><path d="M322.84,231.07A29.6,29.6 0 0 1 321.03,226.79" stroke-opacity="0.1"/><path d="M321.2,227.28A29.6,29.6 0 0 1 320,222.79" stroke-opacity="0.18"/><path d="M320.09,223.3A29.6,29.6 0 0 1 319.53,218.69" stroke-opacity="0.29"/><path d="M319.56,219.21A29.6,29.6 0 0 1 319.64,214.56" stroke-opacity="0.41"/><path d="M319.59,215.08A29.6,29.6 0 0 1 320.32,210.49" stroke-opacity="0.53"/><path d="M320.2,210.99A29.6,29.6 0 0 1 321.56,206.55" stroke-opacity="0.62"/><path d="M321.37,207.03A29.6,29.6 0 0 1 323.34,202.82" stroke-opacity="0.65"/><path d="M323.09,203.28A29.6,29.6 0 0 1 325.62,199.38" stroke-opacity="0.62"/><path d="M325.31,199.79A29.6,29.6 0 0 1 328.35,196.29" stroke-opacity="0.53"/><path d="M327.99,196.65A29.6,29.6 0 0 1 331.49,193.61" stroke-opacity="0.41"/><path d="M331.08,193.92A29.6,29.6 0 0 1 334.98,191.39" stroke-opacity="0.29"/><path d="M334.52,191.64A29.6,29.6 0 0 1 338.73,189.67" stroke-opacity="0.18"/><path d="M338.25,189.86A29.6,29.6 0 0 1 342.69,188.5" stroke-opacity="0.1"/><path d="M342.19,188.62A29.6,29.6 0 0 1 346.78,187.89" stroke-opacity="0.05"/><path d="M320.44,237.84A35.2,35.2 0 0 1 317.6,233.11" stroke-opacity="0.04"/><path d="M317.88,233.65A35.2,35.2 0 0 1 315.72,228.57" stroke-opacity="0.07"/><path d="M315.92,229.15A35.2,35.2 0 0 1 314.49,223.81" stroke-opacity="0.12"/><path d="M314.61,224.42A35.2,35.2 0 0 1 313.93,218.94" stroke-opacity="0.2"/><path d="M313.97,219.55A35.2,35.2 0 0 1 314.06,214.03" stroke-opacity="0.28"/><path d="M314.01,214.64A35.2,35.2 0 0 1 314.87,209.18" stroke-opacity="0.36"/><path d="M314.73,209.78A35.2,35.2 0 0 1 316.35,204.5" stroke-opacity="0.42"/><path d="M316.13,205.07A35.2,35.2 0 0 1 318.46,200.07" stroke-opacity="0.44"/><path d="M318.17,200.6A35.2,35.2 0 0 1 321.17,195.97" stroke-opacity="0.42"/><path d="M320.8,196.46A35.2,35.2 0 0 1 324.43,192.29" stroke-opacity="0.36"/><path d="M323.99,192.73A35.2,35.2 0 0 1 328.16,189.1" stroke-opacity="0.28"/><path d="M327.67,189.47A35.2,35.2 0 0 1 332.3,186.47" stroke-opacity="0.2"/><path d="M331.77,186.76A35.2,35.2 0 0 1 336.77,184.43" stroke-opacity="0.12"/><path d="M336.2,184.65A35.2,35.2 0 0 1 341.48,183.03" stroke-opacity="0.07"/><path d="M340.88,183.17A35.2,35.2 0 0 1 346.34,182.31" stroke-opacity="0.04"/><path d="M312.91,236.24A40.8,40.8 0 0 1 310.41,230.35" stroke-opacity="0.05"/><path d="M310.64,231.02A40.8,40.8 0 0 1 308.98,224.84" stroke-opacity="0.08"/><path d="M309.12,225.53A40.8,40.8 0 0 1 308.34,219.18" stroke-opacity="0.13"/><path d="M308.38,219.89A40.8,40.8 0 0 1 308.49,213.49" stroke-opacity="0.19"/><path d="M308.43,214.2A40.8,40.8 0 0 1 309.43,207.88" stroke-opacity="0.25"/><path d="M309.27,208.57A40.8,40.8 0 0 1 311.14,202.45" stroke-opacity="0.29"/><path d="M310.88,203.11A40.8,40.8 0 0 1 313.59,197.31" stroke-opacity="0.3"/><path d="M313.24,197.93A40.8,40.8 0 0 1 316.73,192.56" stroke-opacity="0.29"/><path d="M316.3,193.13A40.8,40.8 0 0 1 320.5,188.3" stroke-opacity="0.25"/><path d="M320,188.8A40.8,40.8 0 0 1 324.83,184.6" stroke-opacity="0.19"/><path d="M324.26,185.03A40.8,40.8 0 0 1 329.63,181.54" stroke-opacity="0.13"/><path d="M329.01,181.89A40.8,40.8 0 0 1 334.81,179.18" stroke-opacity="0.08"/><path d="M334.15,179.44A40.8,40.8 0 0 1 340.27,177.57" stroke-opacity="0.05"/><path d="M307.94,238.83A46.4,46.4 0 0 1 305.1,232.12" stroke-opacity="0.03"/><path d="M305.36,232.89A46.4,46.4 0 0 1 303.48,225.86" stroke-opacity="0.06"/><path d="M303.63,226.65A46.4,46.4 0 0 1 302.74,219.42" stroke-opacity="0.09"/><path d="M302.79,220.23A46.4,46.4 0 0 1 302.91,212.95" stroke-opacity="0.13"/><path d="M302.84,213.76A46.4,46.4 0 0 1 303.98,206.57" stroke-opacity="0.17"/><path d="M303.8,207.36A46.4,46.4 0 0 1 305.93,200.39" stroke-opacity="0.2"/><path d="M305.64,201.15A46.4,46.4 0 0 1 308.72,194.55" stroke-opacity="0.21"/><path d="M308.32,195.26A46.4,46.4 0 0 1 312.29,189.15" stroke-opacity="0.2"/><path d="M311.8,189.8A46.4,46.4 0 0 1 316.58,184.31" stroke-opacity="0.17"/><path d="M316.01,184.88A46.4,46.4 0 0 1 321.5,180.1" stroke-opacity="0.13"/><path d="M320.85,180.59A46.4,46.4 0 0 1 326.96,176.62" stroke-opacity="0.09"/><path d="M326.25,177.02A46.4,46.4 0 0 1 332.85,173.94" stroke-opacity="0.06"/><path d="M332.09,174.23A46.4,46.4 0 0 1 339.06,172.1" stroke-opacity="0.03"/></g>
<g filter="url(#bl14)"><ellipse cx="349.1" cy="217.4" rx="9.5" ry="7" fill="none" stroke="#fff" stroke-width="6.3999999999999995" stroke-opacity="0.31"/><path d="M340.01,217.03 340.07,216.56 340.18,216.1 340.33,215.64 340.52,215.2 340.76,214.76 341.04,214.34 341.36,213.93 341.72,213.54 342.11,213.17 342.54,212.82 343.01,212.5 343.5,212.2 344.02,211.92 344.57,211.67 345.14,211.46 345.73,211.27 346.34,211.11 346.96,210.98 347.6,210.89 348.24,210.83 348.88,210.8 349.53,210.81 350.17,210.85" fill="none" stroke="#fff" stroke-width="4.8" stroke-opacity="0.5" stroke-linecap="round"/><path d="M340.87,214.58 341.02,214.36 341.18,214.14 341.36,213.93 341.54,213.72 341.74,213.52 341.95,213.32 342.16,213.13 342.39,212.94 342.62,212.76 342.87,212.59 343.12,212.42 343.38,212.27 343.65,212.11 343.93,211.97 344.21,211.83 344.51,211.7 344.8,211.58 345.11,211.47 345.42,211.36 345.73,211.27 346.05,211.18 346.38,211.1 346.71,211.03" fill="none" stroke="#fff" stroke-width="3.8" stroke-opacity="0.32" stroke-linecap="round"/><ellipse cx="349.1" cy="217.4" rx="8.5" ry="6" fill="#000" fill-opacity="1"/></g>
</g></g>
<circle cx="353.6" cy="219.5" r="19" fill="none" stroke="#22c4f4" stroke-width="2.3" stroke-linecap="round" stroke-dasharray="0.01 3.5"/>
<text x="315.5" y="193.2" class="cn">②</text>
<rect class="sb" x="359" y="251.1" width="25.6" height="1.9"/>
<g clip-path="url(#cd2)"><g filter="url(#hot)">
<rect x="397" y="181" width="74" height="74.5" fill="#080808"/>
<circle cx="436.7" cy="223" r="75" fill="url(#rp2)"/>
<g fill="none" stroke="#fff" stroke-width="2.3" filter="url(#bl08)"><path d="M459.69,223.6A23,23 0 0 1 459.31,227.19" stroke-opacity="0.03"/><path d="M459.38,226.8A23,23 0 0 1 458.51,230.3" stroke-opacity="0.07"/><path d="M458.64,229.92A23,23 0 0 1 457.28,233.26" stroke-opacity="0.13"/><path d="M457.46,232.9A23,23 0 0 1 455.65,236.03" stroke-opacity="0.22"/><path d="M455.88,235.69A23,23 0 0 1 453.66,238.54" stroke-opacity="0.35"/><path d="M453.93,238.24A23,23 0 0 1 451.33,240.75" stroke-opacity="0.5"/><path d="M451.64,240.49A23,23 0 0 1 448.72,242.61" stroke-opacity="0.65"/><path d="M449.06,242.4A23,23 0 0 1 445.87,244.09" stroke-opacity="0.76"/><path d="M446.24,243.93A23,23 0 0 1 442.85,245.16" stroke-opacity="0.8"/><path d="M443.23,245.05A23,23 0 0 1 439.7,245.8" stroke-opacity="0.76"/><path d="M440.1,245.75A23,23 0 0 1 436.5,246" stroke-opacity="0.65"/><path d="M436.9,246A23,23 0 0 1 433.3,245.75" stroke-opacity="0.5"/><path d="M433.7,245.8A23,23 0 0 1 430.17,245.05" stroke-opacity="0.35"/><path d="M430.55,245.16A23,23 0 0 1 427.16,243.93" stroke-opacity="0.22"/><path d="M427.53,244.09A23,23 0 0 1 424.34,242.4" stroke-opacity="0.13"/><path d="M424.68,242.61A23,23 0 0 1 421.76,240.49" stroke-opacity="0.07"/><path d="M422.07,240.75A23,23 0 0 1 419.47,238.24" stroke-opacity="0.03"/><path d="M464.91,227.72A28.6,28.6 0 0 1 463.82,232.07" stroke-opacity="0.04"/><path d="M463.98,231.6A28.6,28.6 0 0 1 462.3,235.76" stroke-opacity="0.09"/><path d="M462.51,235.31A28.6,28.6 0 0 1 460.27,239.2" stroke-opacity="0.15"/><path d="M460.55,238.79A28.6,28.6 0 0 1 457.79,242.32" stroke-opacity="0.24"/><path d="M458.12,241.95A28.6,28.6 0 0 1 454.89,245.07" stroke-opacity="0.34"/><path d="M455.27,244.75A28.6,28.6 0 0 1 451.64,247.39" stroke-opacity="0.44"/><path d="M452.07,247.12A28.6,28.6 0 0 1 448.1,249.23" stroke-opacity="0.52"/><path d="M448.56,249.02A28.6,28.6 0 0 1 444.34,250.56" stroke-opacity="0.54"/><path d="M444.82,250.42A28.6,28.6 0 0 1 440.43,251.36" stroke-opacity="0.52"/><path d="M440.93,251.29A28.6,28.6 0 0 1 436.45,251.6" stroke-opacity="0.44"/><path d="M436.95,251.6A28.6,28.6 0 0 1 432.47,251.29" stroke-opacity="0.34"/><path d="M432.97,251.36A28.6,28.6 0 0 1 428.58,250.42" stroke-opacity="0.24"/><path d="M429.06,250.56A28.6,28.6 0 0 1 424.84,249.02" stroke-opacity="0.15"/><path d="M425.3,249.23A28.6,28.6 0 0 1 421.33,247.12" stroke-opacity="0.09"/><path d="M421.76,247.39A28.6,28.6 0 0 1 418.13,244.75" stroke-opacity="0.04"/><path d="M470.43,228.64A34.2,34.2 0 0 1 469.13,233.85" stroke-opacity="0.03"/><path d="M469.32,233.28A34.2,34.2 0 0 1 467.31,238.26" stroke-opacity="0.06"/><path d="M467.57,237.72A34.2,34.2 0 0 1 464.89,242.37" stroke-opacity="0.1"/><path d="M465.22,241.88A34.2,34.2 0 0 1 461.91,246.11" stroke-opacity="0.16"/><path d="M462.31,245.66A34.2,34.2 0 0 1 458.45,249.39" stroke-opacity="0.23"/><path d="M458.91,249.01A34.2,34.2 0 0 1 454.57,252.16" stroke-opacity="0.3"/><path d="M455.08,251.84A34.2,34.2 0 0 1 450.34,254.36" stroke-opacity="0.35"/><path d="M450.88,254.12A34.2,34.2 0 0 1 445.84,255.96" stroke-opacity="0.37"/><path d="M446.41,255.79A34.2,34.2 0 0 1 441.16,256.91" stroke-opacity="0.35"/><path d="M441.76,256.82A34.2,34.2 0 0 1 436.4,257.2" stroke-opacity="0.3"/><path d="M437,257.2A34.2,34.2 0 0 1 431.64,256.82" stroke-opacity="0.23"/><path d="M432.24,256.91A34.2,34.2 0 0 1 426.99,255.79" stroke-opacity="0.16"/><path d="M427.56,255.96A34.2,34.2 0 0 1 422.52,254.12" stroke-opacity="0.1"/><path d="M423.06,254.36A34.2,34.2 0 0 1 418.32,251.84" stroke-opacity="0.06"/><path d="M418.83,252.16A34.2,34.2 0 0 1 414.49,249.01" stroke-opacity="0.03"/><path d="M474.66,234.97A39.8,39.8 0 0 1 472.32,240.76" stroke-opacity="0.04"/><path d="M472.62,240.13A39.8,39.8 0 0 1 469.5,245.54" stroke-opacity="0.07"/><path d="M469.89,244.97A39.8,39.8 0 0 1 466.04,249.89" stroke-opacity="0.11"/><path d="M466.51,249.37A39.8,39.8 0 0 1 462.02,253.71" stroke-opacity="0.16"/><path d="M462.55,253.26A39.8,39.8 0 0 1 457.5,256.94" stroke-opacity="0.21"/><path d="M458.08,256.57A39.8,39.8 0 0 1 452.57,259.5" stroke-opacity="0.24"/><path d="M453.2,259.22A39.8,39.8 0 0 1 447.34,261.35" stroke-opacity="0.25"/><path d="M448,261.16A39.8,39.8 0 0 1 441.89,262.46" stroke-opacity="0.24"/><path d="M442.58,262.36A39.8,39.8 0 0 1 436.35,262.8" stroke-opacity="0.21"/><path d="M437.05,262.8A39.8,39.8 0 0 1 430.82,262.36" stroke-opacity="0.16"/><path d="M431.51,262.46A39.8,39.8 0 0 1 425.4,261.16" stroke-opacity="0.11"/><path d="M426.06,261.35A39.8,39.8 0 0 1 420.2,259.22" stroke-opacity="0.07"/><path d="M420.83,259.5A39.8,39.8 0 0 1 415.32,256.57" stroke-opacity="0.04"/><path d="M477.68,242.55A45.4,45.4 0 0 1 474.12,248.71" stroke-opacity="0.05"/><path d="M474.56,248.06A45.4,45.4 0 0 1 470.17,253.67" stroke-opacity="0.08"/><path d="M470.7,253.08A45.4,45.4 0 0 1 465.58,258.03" stroke-opacity="0.11"/><path d="M466.18,257.52A45.4,45.4 0 0 1 460.42,261.71" stroke-opacity="0.14"/><path d="M461.09,261.29A45.4,45.4 0 0 1 454.8,264.63" stroke-opacity="0.16"/><path d="M455.53,264.31A45.4,45.4 0 0 1 448.83,266.75" stroke-opacity="0.17"/><path d="M449.59,266.53A45.4,45.4 0 0 1 442.63,268.01" stroke-opacity="0.16"/><path d="M443.41,267.9A45.4,45.4 0 0 1 436.3,268.4" stroke-opacity="0.14"/><path d="M437.1,268.4A45.4,45.4 0 0 1 429.99,267.9" stroke-opacity="0.11"/><path d="M430.77,268.01A45.4,45.4 0 0 1 423.81,266.53" stroke-opacity="0.08"/><path d="M424.57,266.75A45.4,45.4 0 0 1 417.87,264.31" stroke-opacity="0.05"/></g>
<g filter="url(#bl14)"><ellipse cx="436.7" cy="223" rx="7.05" ry="9" fill="none" stroke="#fff" stroke-width="6.8" stroke-opacity="0.31"/><path d="M435.92,231.54 435.54,231.47 435.16,231.37 434.79,231.24 434.42,231.08 434.06,230.89 433.71,230.68 433.37,230.45 433.04,230.18 432.73,229.9 432.42,229.59 432.14,229.26 431.86,228.9 431.61,228.53 431.37,228.14 431.15,227.73 430.94,227.3 430.76,226.87 430.6,226.41 430.45,225.95 430.33,225.48 430.23,224.99 430.15,224.5 430.1,224.01" fill="none" stroke="#fff" stroke-width="5.2" stroke-opacity="0.5" stroke-linecap="round"/><path d="M433.92,230.81 433.73,230.7 433.55,230.57 433.37,230.45 433.2,230.31 433.02,230.17 432.86,230.02 432.69,229.86 432.53,229.7 432.37,229.53 432.22,229.35 432.07,229.17 431.93,228.99 431.79,228.79 431.65,228.6 431.52,228.39 431.39,228.18 431.27,227.97 431.16,227.75 431.05,227.53 430.94,227.3 430.84,227.07 430.75,226.84 430.66,226.6" fill="none" stroke="#fff" stroke-width="4.2" stroke-opacity="0.32" stroke-linecap="round"/><ellipse cx="436.7" cy="223" rx="5.85" ry="7.8" fill="#000" fill-opacity="1"/></g>
</g></g>
<circle cx="436" cy="219.5" r="19" fill="none" stroke="#22c4f4" stroke-width="2.3" stroke-linecap="round" stroke-dasharray="0.01 3.5"/>
<text x="398.5" y="193.2" class="cn">③</text>
<rect class="sb" x="442" y="251.1" width="25.6" height="1.9"/>
<g clip-path="url(#cd3)"><g filter="url(#hot)">
<rect x="479" y="181" width="75" height="74.5" fill="#080808"/>
<circle cx="519.5" cy="216.5" r="75" fill="url(#rp3)"/>
<g fill="none" stroke="#fff" stroke-width="2.3" filter="url(#bl08)"><path d="M517.97,191.55A25,25 0 0 1 521.9,191.62" stroke-opacity="0.03"/><path d="M521.46,191.58A25,25 0 0 1 525.34,192.19" stroke-opacity="0.07"/><path d="M524.91,192.09A25,25 0 0 1 528.66,193.24" stroke-opacity="0.13"/><path d="M528.26,193.08A25,25 0 0 1 531.81,194.74" stroke-opacity="0.22"/><path d="M531.43,194.53A25,25 0 0 1 534.72,196.67" stroke-opacity="0.35"/><path d="M534.37,196.4A25,25 0 0 1 537.33,198.98" stroke-opacity="0.5"/><path d="M537.02,198.67A25,25 0 0 1 539.6,201.63" stroke-opacity="0.65"/><path d="M539.33,201.28A25,25 0 0 1 541.47,204.57" stroke-opacity="0.76"/><path d="M541.26,204.19A25,25 0 0 1 542.92,207.74" stroke-opacity="0.8"/><path d="M542.76,207.34A25,25 0 0 1 543.91,211.09" stroke-opacity="0.76"/><path d="M543.81,210.66A25,25 0 0 1 544.42,214.54" stroke-opacity="0.65"/><path d="M544.38,214.1A25,25 0 0 1 544.45,218.03" stroke-opacity="0.5"/><path d="M544.48,217.59A25,25 0 0 1 544,221.48" stroke-opacity="0.35"/><path d="M544.08,221.06A25,25 0 0 1 543.07,224.85" stroke-opacity="0.22"/><path d="M543.21,224.43A25,25 0 0 1 541.68,228.04" stroke-opacity="0.13"/><path d="M541.87,227.65A25,25 0 0 1 539.85,231.02" stroke-opacity="0.07"/><path d="M540.1,230.66A25,25 0 0 1 537.63,233.71" stroke-opacity="0.03"/><path d="M521.9,185.99A30.6,30.6 0 0 1 526.64,186.75" stroke-opacity="0.04"/><path d="M526.12,186.63A30.6,30.6 0 0 1 530.71,188.03" stroke-opacity="0.09"/><path d="M530.22,187.84A30.6,30.6 0 0 1 534.57,189.87" stroke-opacity="0.15"/><path d="M534.1,189.61A30.6,30.6 0 0 1 538.13,192.22" stroke-opacity="0.24"/><path d="M537.7,191.9A30.6,30.6 0 0 1 541.33,195.05" stroke-opacity="0.34"/><path d="M540.95,194.67A30.6,30.6 0 0 1 544.1,198.3" stroke-opacity="0.44"/><path d="M543.78,197.87A30.6,30.6 0 0 1 546.39,201.9" stroke-opacity="0.52"/><path d="M546.13,201.43A30.6,30.6 0 0 1 548.16,205.78" stroke-opacity="0.54"/><path d="M547.97,205.29A30.6,30.6 0 0 1 549.37,209.88" stroke-opacity="0.52"/><path d="M549.25,209.36A30.6,30.6 0 0 1 550.01,214.1" stroke-opacity="0.44"/><path d="M549.96,213.57A30.6,30.6 0 0 1 550.04,218.37" stroke-opacity="0.34"/><path d="M550.07,217.83A30.6,30.6 0 0 1 549.49,222.6" stroke-opacity="0.24"/><path d="M549.59,222.08A30.6,30.6 0 0 1 548.34,226.71" stroke-opacity="0.15"/><path d="M548.52,226.21A30.6,30.6 0 0 1 546.64,230.63" stroke-opacity="0.09"/><path d="M546.88,230.15A30.6,30.6 0 0 1 544.41,234.27" stroke-opacity="0.04"/><path d="M522.34,180.41A36.2,36.2 0 0 1 527.95,181.3" stroke-opacity="0.03"/><path d="M527.34,181.16A36.2,36.2 0 0 1 532.77,182.82" stroke-opacity="0.06"/><path d="M532.18,182.59A36.2,36.2 0 0 1 537.33,184.99" stroke-opacity="0.1"/><path d="M536.77,184.69A36.2,36.2 0 0 1 541.54,187.78" stroke-opacity="0.16"/><path d="M541.03,187.4A36.2,36.2 0 0 1 545.32,191.13" stroke-opacity="0.23"/><path d="M544.87,190.68A36.2,36.2 0 0 1 548.6,194.97" stroke-opacity="0.3"/><path d="M548.22,194.46A36.2,36.2 0 0 1 551.31,199.23" stroke-opacity="0.35"/><path d="M551.01,198.67A36.2,36.2 0 0 1 553.41,203.82" stroke-opacity="0.37"/><path d="M553.18,203.23A36.2,36.2 0 0 1 554.84,208.66" stroke-opacity="0.35"/><path d="M554.7,208.05A36.2,36.2 0 0 1 555.59,213.66" stroke-opacity="0.3"/><path d="M555.53,213.03A36.2,36.2 0 0 1 555.63,218.71" stroke-opacity="0.23"/><path d="M555.67,218.08A36.2,36.2 0 0 1 554.97,223.72" stroke-opacity="0.16"/><path d="M555.09,223.1A36.2,36.2 0 0 1 553.62,228.58" stroke-opacity="0.1"/><path d="M553.83,227.99A36.2,36.2 0 0 1 551.61,233.22" stroke-opacity="0.06"/><path d="M551.9,232.65A36.2,36.2 0 0 1 548.97,237.52" stroke-opacity="0.03"/><path d="M528.55,175.69A41.8,41.8 0 0 1 534.82,177.61" stroke-opacity="0.04"/><path d="M534.14,177.35A41.8,41.8 0 0 1 540.08,180.12" stroke-opacity="0.07"/><path d="M539.45,179.77A41.8,41.8 0 0 1 544.95,183.34" stroke-opacity="0.11"/><path d="M544.36,182.9A41.8,41.8 0 0 1 549.31,187.2" stroke-opacity="0.16"/><path d="M548.8,186.69A41.8,41.8 0 0 1 553.1,191.64" stroke-opacity="0.21"/><path d="M552.66,191.05A41.8,41.8 0 0 1 556.23,196.55" stroke-opacity="0.24"/><path d="M555.88,195.92A41.8,41.8 0 0 1 558.65,201.86" stroke-opacity="0.25"/><path d="M558.39,201.18A41.8,41.8 0 0 1 560.31,207.45" stroke-opacity="0.24"/><path d="M560.15,206.74A41.8,41.8 0 0 1 561.17,213.22" stroke-opacity="0.21"/><path d="M561.11,212.49A41.8,41.8 0 0 1 561.22,219.05" stroke-opacity="0.16"/><path d="M561.26,218.32A41.8,41.8 0 0 1 560.46,224.83" stroke-opacity="0.11"/><path d="M560.6,224.12A41.8,41.8 0 0 1 558.9,230.45" stroke-opacity="0.07"/><path d="M559.14,229.76A41.8,41.8 0 0 1 556.58,235.8" stroke-opacity="0.04"/><path d="M536.1,172.1A47.4,47.4 0 0 1 542.84,175.25" stroke-opacity="0.05"/><path d="M542.12,174.84A47.4,47.4 0 0 1 548.36,178.9" stroke-opacity="0.08"/><path d="M547.69,178.4A47.4,47.4 0 0 1 553.31,183.28" stroke-opacity="0.11"/><path d="M552.72,182.69A47.4,47.4 0 0 1 557.6,188.31" stroke-opacity="0.14"/><path d="M557.1,187.64A47.4,47.4 0 0 1 561.16,193.88" stroke-opacity="0.16"/><path d="M560.75,193.16A47.4,47.4 0 0 1 563.9,199.9" stroke-opacity="0.17"/><path d="M563.6,199.13A47.4,47.4 0 0 1 565.78,206.24" stroke-opacity="0.16"/><path d="M565.59,205.43A47.4,47.4 0 0 1 566.75,212.78" stroke-opacity="0.14"/><path d="M566.68,211.96A47.4,47.4 0 0 1 566.81,219.39" stroke-opacity="0.11"/><path d="M566.85,218.57A47.4,47.4 0 0 1 565.95,225.95" stroke-opacity="0.08"/><path d="M566.11,225.14A47.4,47.4 0 0 1 564.18,232.32" stroke-opacity="0.05"/></g>
<g filter="url(#bl14)"><ellipse cx="519.5" cy="216.5" rx="7.55" ry="7.2" fill="none" stroke="#fff" stroke-width="7.1" stroke-opacity="0.31"/><path d="M525.12,212.29 525.36,212.61 525.59,212.94 525.8,213.28 525.98,213.63 526.15,213.99 526.29,214.37 526.41,214.74 526.5,215.13 526.57,215.52 526.62,215.91 526.65,216.3 526.65,216.7 526.62,217.09 526.57,217.48 526.5,217.87 526.41,218.26 526.29,218.63 526.15,219.01 525.98,219.37 525.8,219.72 525.59,220.06 525.36,220.39 525.12,220.71" fill="none" stroke="#fff" stroke-width="5.5" stroke-opacity="0.5" stroke-linecap="round"/><path d="M526.21,214.15 526.28,214.34 526.35,214.54 526.41,214.74 526.46,214.95 526.51,215.15 526.55,215.36 526.58,215.56 526.61,215.77 526.63,215.98 526.64,216.19 526.65,216.4 526.65,216.6 526.64,216.81 526.63,217.02 526.61,217.23 526.58,217.44 526.55,217.64 526.51,217.85 526.46,218.05 526.41,218.26 526.35,218.46 526.28,218.66 526.21,218.85" fill="none" stroke="#fff" stroke-width="4.5" stroke-opacity="0.32" stroke-linecap="round"/><ellipse cx="519.5" cy="216.5" rx="6.2" ry="5.85" fill="#000" fill-opacity="1"/></g>
</g></g>
<circle cx="516.5" cy="220.6" r="19" fill="none" stroke="#22c4f4" stroke-width="2.3" stroke-linecap="round" stroke-dasharray="0.01 3.5"/>
<text x="480.5" y="193.2" class="cn">④</text>
<rect class="sb" x="524" y="251.1" width="25.6" height="1.9"/>
<g clip-path="url(#cd4)"><g filter="url(#hot)">
<rect x="231" y="262.5" width="75" height="74.5" fill="#080808"/>
<circle cx="267.5" cy="298.5" r="75" fill="url(#rp4)"/>
<g fill="none" stroke="#fff" stroke-width="2.3" filter="url(#bl08)"><path d="M246.1,290.07A23,23 0 0 1 247.68,286.83" stroke-opacity="0.03"/><path d="M247.48,287.17A23,23 0 0 1 249.5,284.18" stroke-opacity="0.07"/><path d="M249.25,284.5A23,23 0 0 1 251.67,281.82" stroke-opacity="0.13"/><path d="M251.38,282.1A23,23 0 0 1 254.14,279.78" stroke-opacity="0.22"/><path d="M253.82,280.01A23,23 0 0 1 256.88,278.1" stroke-opacity="0.35"/><path d="M256.53,278.29A23,23 0 0 1 259.82,276.82" stroke-opacity="0.5"/><path d="M259.45,276.96A23,23 0 0 1 262.91,275.96" stroke-opacity="0.65"/><path d="M262.52,276.05A23,23 0 0 1 266.1,275.54" stroke-opacity="0.76"/><path d="M265.7,275.57A23,23 0 0 1 269.3,275.57" stroke-opacity="0.8"/><path d="M268.9,275.54A23,23 0 0 1 272.48,276.05" stroke-opacity="0.76"/><path d="M272.09,275.96A23,23 0 0 1 275.55,276.96" stroke-opacity="0.65"/><path d="M275.18,276.82A23,23 0 0 1 278.47,278.29" stroke-opacity="0.5"/><path d="M278.12,278.1A23,23 0 0 1 281.18,280.01" stroke-opacity="0.35"/><path d="M280.86,279.78A23,23 0 0 1 283.62,282.1" stroke-opacity="0.22"/><path d="M283.33,281.82A23,23 0 0 1 285.75,284.5" stroke-opacity="0.13"/><path d="M285.5,284.18A23,23 0 0 1 287.52,287.17" stroke-opacity="0.07"/><path d="M287.32,286.83A23,23 0 0 1 288.9,290.07" stroke-opacity="0.03"/><path d="M242.61,284.42A28.6,28.6 0 0 1 245.12,280.7" stroke-opacity="0.04"/><path d="M244.81,281.09A28.6,28.6 0 0 1 247.81,277.75" stroke-opacity="0.09"/><path d="M247.45,278.1A28.6,28.6 0 0 1 250.89,275.22" stroke-opacity="0.15"/><path d="M250.49,275.51A28.6,28.6 0 0 1 254.29,273.13" stroke-opacity="0.24"/><path d="M253.85,273.37A28.6,28.6 0 0 1 257.95,271.54" stroke-opacity="0.34"/><path d="M257.48,271.71A28.6,28.6 0 0 1 261.8,270.47" stroke-opacity="0.44"/><path d="M261.31,270.58A28.6,28.6 0 0 1 265.75,269.95" stroke-opacity="0.52"/><path d="M265.26,269.99A28.6,28.6 0 0 1 269.74,269.99" stroke-opacity="0.54"/><path d="M269.25,269.95A28.6,28.6 0 0 1 273.69,270.58" stroke-opacity="0.52"/><path d="M273.2,270.47A28.6,28.6 0 0 1 277.52,271.71" stroke-opacity="0.44"/><path d="M277.05,271.54A28.6,28.6 0 0 1 281.15,273.37" stroke-opacity="0.34"/><path d="M280.71,273.13A28.6,28.6 0 0 1 284.51,275.51" stroke-opacity="0.24"/><path d="M284.11,275.22A28.6,28.6 0 0 1 287.55,278.1" stroke-opacity="0.15"/><path d="M287.19,277.75A28.6,28.6 0 0 1 290.19,281.09" stroke-opacity="0.09"/><path d="M289.88,280.7A28.6,28.6 0 0 1 292.39,284.42" stroke-opacity="0.04"/><path d="M237.73,281.66A34.2,34.2 0 0 1 240.73,277.21" stroke-opacity="0.03"/><path d="M240.37,277.68A34.2,34.2 0 0 1 243.96,273.69" stroke-opacity="0.06"/><path d="M243.53,274.11A34.2,34.2 0 0 1 247.64,270.66" stroke-opacity="0.1"/><path d="M247.16,271.01A34.2,34.2 0 0 1 251.71,268.16" stroke-opacity="0.16"/><path d="M251.18,268.44A34.2,34.2 0 0 1 256.08,266.26" stroke-opacity="0.23"/><path d="M255.52,266.47A34.2,34.2 0 0 1 260.68,264.99" stroke-opacity="0.3"/><path d="M260.1,265.11A34.2,34.2 0 0 1 265.41,264.36" stroke-opacity="0.35"/><path d="M264.82,264.41A34.2,34.2 0 0 1 270.18,264.41" stroke-opacity="0.37"/><path d="M269.59,264.36A34.2,34.2 0 0 1 274.9,265.11" stroke-opacity="0.35"/><path d="M274.32,264.99A34.2,34.2 0 0 1 279.48,266.47" stroke-opacity="0.3"/><path d="M278.92,266.26A34.2,34.2 0 0 1 283.82,268.44" stroke-opacity="0.23"/><path d="M283.29,268.16A34.2,34.2 0 0 1 287.84,271.01" stroke-opacity="0.16"/><path d="M287.36,270.66A34.2,34.2 0 0 1 291.47,274.11" stroke-opacity="0.1"/><path d="M291.04,273.69A34.2,34.2 0 0 1 294.63,277.68" stroke-opacity="0.06"/><path d="M294.27,277.21A34.2,34.2 0 0 1 297.27,281.66" stroke-opacity="0.03"/><path d="M235.92,274.27A39.8,39.8 0 0 1 240.1,269.63" stroke-opacity="0.04"/><path d="M239.6,270.11A39.8,39.8 0 0 1 244.39,266.1" stroke-opacity="0.07"/><path d="M243.83,266.51A39.8,39.8 0 0 1 249.12,263.2" stroke-opacity="0.11"/><path d="M248.51,263.52A39.8,39.8 0 0 1 254.21,260.98" stroke-opacity="0.16"/><path d="M253.56,261.22A39.8,39.8 0 0 1 259.57,259.5" stroke-opacity="0.21"/><path d="M258.89,259.64A39.8,39.8 0 0 1 265.07,258.77" stroke-opacity="0.24"/><path d="M264.38,258.82A39.8,39.8 0 0 1 270.62,258.82" stroke-opacity="0.25"/><path d="M269.93,258.77A39.8,39.8 0 0 1 276.11,259.64" stroke-opacity="0.24"/><path d="M275.43,259.5A39.8,39.8 0 0 1 281.44,261.22" stroke-opacity="0.21"/><path d="M280.79,260.98A39.8,39.8 0 0 1 286.49,263.52" stroke-opacity="0.16"/><path d="M285.88,263.2A39.8,39.8 0 0 1 291.17,266.51" stroke-opacity="0.11"/><path d="M290.61,266.1A39.8,39.8 0 0 1 295.4,270.11" stroke-opacity="0.07"/><path d="M294.9,269.63A39.8,39.8 0 0 1 299.08,274.27" stroke-opacity="0.04"/><path d="M235.68,266.12A45.4,45.4 0 0 1 241.14,261.54" stroke-opacity="0.05"/><path d="M240.5,262A45.4,45.4 0 0 1 246.54,258.23" stroke-opacity="0.08"/><path d="M245.84,258.6A45.4,45.4 0 0 1 252.35,255.7" stroke-opacity="0.11"/><path d="M251.6,255.98A45.4,45.4 0 0 1 258.45,254.01" stroke-opacity="0.14"/><path d="M257.67,254.18A45.4,45.4 0 0 1 264.73,253.18" stroke-opacity="0.16"/><path d="M263.94,253.24A45.4,45.4 0 0 1 271.06,253.24" stroke-opacity="0.17"/><path d="M270.27,253.18A45.4,45.4 0 0 1 277.33,254.18" stroke-opacity="0.16"/><path d="M276.55,254.01A45.4,45.4 0 0 1 283.4,255.98" stroke-opacity="0.14"/><path d="M282.65,255.7A45.4,45.4 0 0 1 289.16,258.6" stroke-opacity="0.11"/><path d="M288.46,258.23A45.4,45.4 0 0 1 294.5,262" stroke-opacity="0.08"/><path d="M293.86,261.54A45.4,45.4 0 0 1 299.32,266.12" stroke-opacity="0.05"/></g>
<g filter="url(#bl14)"><ellipse cx="267.5" cy="298.5" rx="6.8" ry="9.5" fill="none" stroke="#fff" stroke-width="6.8999999999999995" stroke-opacity="0.31"/><path d="M265.05,290.09 265.44,289.89 265.83,289.71 266.23,289.58 266.64,289.48 267.05,289.42 267.46,289.4 267.88,289.42 268.29,289.47 268.69,289.56 269.1,289.69 269.49,289.85 269.88,290.05 270.26,290.29 270.63,290.56 270.98,290.86 271.32,291.2 271.64,291.56 271.95,291.96 272.23,292.38 272.5,292.82 272.75,293.29 272.97,293.79 273.18,294.3" fill="none" stroke="#fff" stroke-width="5.3" stroke-opacity="0.5" stroke-linecap="round"/><path d="M267.22,289.41 267.44,289.4 267.66,289.4 267.88,289.42 268.09,289.44 268.31,289.47 268.53,289.52 268.74,289.57 268.96,289.64 269.17,289.71 269.38,289.8 269.59,289.9 269.79,290 269.99,290.12 270.19,290.25 270.39,290.38 270.58,290.53 270.77,290.68 270.96,290.84 271.14,291.02 271.32,291.2 271.49,291.39 271.66,291.58 271.82,291.79" fill="none" stroke="#fff" stroke-width="4.3" stroke-opacity="0.32" stroke-linecap="round"/><ellipse cx="267.5" cy="298.5" rx="5.55" ry="8.25" fill="#000" fill-opacity="1"/></g>
</g></g>
<circle cx="269.5" cy="302.8" r="18.5" fill="none" stroke="#22c4f4" stroke-width="2.3" stroke-linecap="round" stroke-dasharray="0.01 3.41"/>
<text x="232.5" y="274.7" class="cn">⑤</text>
<rect class="sb" x="276" y="331.8" width="25.6" height="1.9"/>
<g clip-path="url(#cd5)"><g filter="url(#hot)">
<rect x="314" y="262.5" width="74.5" height="74.5" fill="#080808"/>
<circle cx="349.2" cy="301" r="75" fill="url(#rp5)"/>
<g fill="none" stroke="#fff" stroke-width="2.3" filter="url(#bl08)"><path d="M337.71,319.76A22,22 0 0 1 334.91,317.73" stroke-opacity="0.03"/><path d="M335.21,317.98A22,22 0 0 1 332.72,315.58" stroke-opacity="0.07"/><path d="M332.98,315.86A22,22 0 0 1 330.85,313.14" stroke-opacity="0.15"/><path d="M331.07,313.46A22,22 0 0 1 329.34,310.47" stroke-opacity="0.26"/><path d="M329.51,310.82A22,22 0 0 1 328.22,307.62" stroke-opacity="0.41"/><path d="M328.34,307.98A22,22 0 0 1 327.5,304.63" stroke-opacity="0.58"/><path d="M327.57,305.01A22,22 0 0 1 327.21,301.58" stroke-opacity="0.75"/><path d="M327.22,301.96A22,22 0 0 1 327.34,298.51" stroke-opacity="0.87"/><path d="M327.3,298.89A22,22 0 0 1 327.9,295.49" stroke-opacity="0.92"/><path d="M327.81,295.86A22,22 0 0 1 328.87,292.58" stroke-opacity="0.87"/><path d="M328.73,292.94A22,22 0 0 1 330.24,289.83" stroke-opacity="0.75"/><path d="M330.05,290.17A22,22 0 0 1 331.98,287.3" stroke-opacity="0.58"/><path d="M331.75,287.61A22,22 0 0 1 334.06,285.04" stroke-opacity="0.41"/><path d="M333.78,285.31A22,22 0 0 1 336.42,283.09" stroke-opacity="0.26"/><path d="M336.11,283.32A22,22 0 0 1 339.04,281.49" stroke-opacity="0.15"/><path d="M338.7,281.67A22,22 0 0 1 341.86,280.26" stroke-opacity="0.07"/><path d="M341.5,280.39A22,22 0 0 1 344.81,279.44" stroke-opacity="0.03"/><path d="M331.64,322.3A27.6,27.6 0 0 1 328.53,319.29" stroke-opacity="0.05"/><path d="M328.85,319.65A27.6,27.6 0 0 1 326.18,316.23" stroke-opacity="0.1"/><path d="M326.45,316.63A27.6,27.6 0 0 1 324.29,312.88" stroke-opacity="0.17"/><path d="M324.5,313.32A27.6,27.6 0 0 1 322.88,309.3" stroke-opacity="0.28"/><path d="M323.03,309.76A27.6,27.6 0 0 1 321.98,305.56" stroke-opacity="0.4"/><path d="M322.06,306.03A27.6,27.6 0 0 1 321.61,301.72" stroke-opacity="0.51"/><path d="M321.63,302.2A27.6,27.6 0 0 1 321.78,297.88" stroke-opacity="0.59"/><path d="M321.73,298.35A27.6,27.6 0 0 1 322.48,294.09" stroke-opacity="0.63"/><path d="M322.36,294.56A27.6,27.6 0 0 1 323.7,290.44" stroke-opacity="0.59"/><path d="M323.52,290.88A27.6,27.6 0 0 1 325.42,286.99" stroke-opacity="0.51"/><path d="M325.18,287.41A27.6,27.6 0 0 1 327.6,283.82" stroke-opacity="0.4"/><path d="M327.3,284.2A27.6,27.6 0 0 1 330.2,280.98" stroke-opacity="0.28"/><path d="M329.85,281.31A27.6,27.6 0 0 1 333.17,278.53" stroke-opacity="0.17"/><path d="M332.78,278.81A27.6,27.6 0 0 1 336.46,276.52" stroke-opacity="0.1"/><path d="M336.03,276.74A27.6,27.6 0 0 1 339.99,274.98" stroke-opacity="0.05"/><path d="M328.08,326.62A33.2,33.2 0 0 1 324.33,323" stroke-opacity="0.03"/><path d="M324.72,323.43A33.2,33.2 0 0 1 321.51,319.32" stroke-opacity="0.07"/><path d="M321.84,319.8A33.2,33.2 0 0 1 319.23,315.29" stroke-opacity="0.12"/><path d="M319.49,315.81A33.2,33.2 0 0 1 317.54,310.98" stroke-opacity="0.19"/><path d="M317.72,311.53A33.2,33.2 0 0 1 316.46,306.48" stroke-opacity="0.27"/><path d="M316.56,307.05A33.2,33.2 0 0 1 316.01,301.87" stroke-opacity="0.35"/><path d="M316.03,302.45A33.2,33.2 0 0 1 316.21,297.24" stroke-opacity="0.41"/><path d="M316.15,297.82A33.2,33.2 0 0 1 317.06,292.69" stroke-opacity="0.43"/><path d="M316.92,293.25A33.2,33.2 0 0 1 318.53,288.29" stroke-opacity="0.41"/><path d="M318.31,288.83A33.2,33.2 0 0 1 320.59,284.15" stroke-opacity="0.35"/><path d="M320.3,284.65A33.2,33.2 0 0 1 323.22,280.33" stroke-opacity="0.27"/><path d="M322.86,280.79A33.2,33.2 0 0 1 326.35,276.92" stroke-opacity="0.19"/><path d="M325.93,277.32A33.2,33.2 0 0 1 329.92,273.97" stroke-opacity="0.12"/><path d="M329.45,274.31A33.2,33.2 0 0 1 333.87,271.55" stroke-opacity="0.07"/><path d="M333.36,271.82A33.2,33.2 0 0 1 338.12,269.7" stroke-opacity="0.03"/><path d="M320.59,327.21A38.8,38.8 0 0 1 316.85,322.42" stroke-opacity="0.05"/><path d="M317.22,322.98A38.8,38.8 0 0 1 314.18,317.7" stroke-opacity="0.08"/><path d="M314.48,318.31A38.8,38.8 0 0 1 312.2,312.67" stroke-opacity="0.13"/><path d="M312.41,313.31A38.8,38.8 0 0 1 310.93,307.4" stroke-opacity="0.18"/><path d="M311.05,308.07A38.8,38.8 0 0 1 310.41,302.02" stroke-opacity="0.24"/><path d="M310.44,302.69A38.8,38.8 0 0 1 310.65,296.61" stroke-opacity="0.28"/><path d="M310.58,297.28A38.8,38.8 0 0 1 311.64,291.29" stroke-opacity="0.29"/><path d="M311.47,291.94A38.8,38.8 0 0 1 313.35,286.15" stroke-opacity="0.28"/><path d="M313.1,286.78A38.8,38.8 0 0 1 315.77,281.31" stroke-opacity="0.24"/><path d="M315.43,281.89A38.8,38.8 0 0 1 318.83,276.85" stroke-opacity="0.18"/><path d="M318.42,277.38A38.8,38.8 0 0 1 322.49,272.86" stroke-opacity="0.13"/><path d="M322,273.33A38.8,38.8 0 0 1 326.67,269.41" stroke-opacity="0.08"/><path d="M326.12,269.81A38.8,38.8 0 0 1 331.28,266.58" stroke-opacity="0.05"/><path d="M316.46,331A44.4,44.4 0 0 1 312.18,325.51" stroke-opacity="0.03"/><path d="M312.61,326.15A44.4,44.4 0 0 1 309.13,320.11" stroke-opacity="0.05"/><path d="M309.46,320.81A44.4,44.4 0 0 1 306.85,314.35" stroke-opacity="0.09"/><path d="M307.09,315.09A44.4,44.4 0 0 1 305.41,308.33" stroke-opacity="0.12"/><path d="M305.54,309.09A44.4,44.4 0 0 1 304.82,302.16" stroke-opacity="0.16"/><path d="M304.84,302.94A44.4,44.4 0 0 1 305.09,295.97" stroke-opacity="0.19"/><path d="M305,296.74A44.4,44.4 0 0 1 306.21,289.88" stroke-opacity="0.2"/><path d="M306.03,290.64A44.4,44.4 0 0 1 308.18,284.01" stroke-opacity="0.19"/><path d="M307.89,284.73A44.4,44.4 0 0 1 310.94,278.47" stroke-opacity="0.16"/><path d="M310.56,279.14A44.4,44.4 0 0 1 314.45,273.36" stroke-opacity="0.12"/><path d="M313.98,273.97A44.4,44.4 0 0 1 318.64,268.79" stroke-opacity="0.09"/><path d="M318.08,269.33A44.4,44.4 0 0 1 323.42,264.85" stroke-opacity="0.05"/><path d="M322.79,265.31A44.4,44.4 0 0 1 328.7,261.62" stroke-opacity="0.03"/></g>
<g filter="url(#bl14)"><ellipse cx="349.2" cy="301" rx="8.9" ry="6.65" fill="none" stroke="#fff" stroke-width="6.8999999999999995" stroke-opacity="0.31"/><path d="M340.76,300.27 340.83,299.91 340.93,299.55 341.06,299.2 341.22,298.86 341.4,298.52 341.61,298.19 341.84,297.87 342.1,297.56 342.38,297.27 342.69,296.98 343.02,296.71 343.37,296.45 343.74,296.21 344.12,295.99 344.53,295.78 344.95,295.59 345.38,295.42 345.83,295.26 346.29,295.13 346.75,295.01 347.23,294.92 347.71,294.85 348.2,294.79" fill="none" stroke="#fff" stroke-width="5.3" stroke-opacity="0.5" stroke-linecap="round"/><path d="M341.48,298.38 341.59,298.21 341.71,298.04 341.84,297.87 341.98,297.71 342.12,297.55 342.26,297.39 342.42,297.23 342.58,297.08 342.75,296.93 342.92,296.79 343.1,296.65 343.28,296.51 343.47,296.38 343.67,296.25 343.87,296.13 344.08,296.01 344.29,295.9 344.5,295.79 344.72,295.69 344.95,295.59 345.17,295.5 345.41,295.41 345.64,295.32" fill="none" stroke="#fff" stroke-width="4.3" stroke-opacity="0.32" stroke-linecap="round"/><ellipse cx="349.2" cy="301" rx="7.65" ry="5.4" fill="#000" fill-opacity="1"/></g>
</g></g>
<circle cx="353.6" cy="301.2" r="19" fill="none" stroke="#22c4f4" stroke-width="2.3" stroke-linecap="round" stroke-dasharray="0.01 3.5"/>
<text x="315.5" y="274.7" class="cn">⑥</text>
<rect class="sb" x="359" y="331.8" width="25.6" height="1.9"/>
<g clip-path="url(#cd6)"><g filter="url(#hot)">
<rect x="397" y="262.5" width="74" height="74.5" fill="#080808"/>
<circle cx="432.9" cy="304.2" r="75" fill="url(#rp6)"/>
<g fill="none" stroke="#fff" stroke-width="2.3" filter="url(#bl08)"><path d="M438.74,328.51A25,25 0 0 1 434.86,329.12" stroke-opacity="0.03"/><path d="M435.3,329.08A25,25 0 0 1 431.37,329.15" stroke-opacity="0.07"/><path d="M431.81,329.18A25,25 0 0 1 427.92,328.7" stroke-opacity="0.13"/><path d="M428.34,328.78A25,25 0 0 1 424.55,327.77" stroke-opacity="0.22"/><path d="M424.97,327.91A25,25 0 0 1 421.36,326.38" stroke-opacity="0.35"/><path d="M421.75,326.57A25,25 0 0 1 418.38,324.55" stroke-opacity="0.5"/><path d="M418.74,324.8A25,25 0 0 1 415.69,322.33" stroke-opacity="0.65"/><path d="M416.01,322.63A25,25 0 0 1 413.33,319.76" stroke-opacity="0.76"/><path d="M413.61,320.1A25,25 0 0 1 411.36,316.89" stroke-opacity="0.8"/><path d="M411.58,317.26A25,25 0 0 1 409.8,313.77" stroke-opacity="0.76"/><path d="M409.97,314.17A25,25 0 0 1 408.7,310.46" stroke-opacity="0.65"/><path d="M408.81,310.88A25,25 0 0 1 408.06,307.03" stroke-opacity="0.5"/><path d="M408.11,307.46A25,25 0 0 1 407.91,303.55" stroke-opacity="0.35"/><path d="M407.9,303.98A25,25 0 0 1 408.24,300.07" stroke-opacity="0.22"/><path d="M408.17,300.5A25,25 0 0 1 409.06,296.68" stroke-opacity="0.13"/><path d="M408.93,297.1A25,25 0 0 1 410.34,293.44" stroke-opacity="0.07"/><path d="M410.15,293.83A25,25 0 0 1 412.05,290.4" stroke-opacity="0.03"/><path d="M435.83,334.66A30.6,30.6 0 0 1 431.03,334.74" stroke-opacity="0.04"/><path d="M431.57,334.77A30.6,30.6 0 0 1 426.8,334.19" stroke-opacity="0.09"/><path d="M427.32,334.29A30.6,30.6 0 0 1 422.69,333.04" stroke-opacity="0.15"/><path d="M423.19,333.22A30.6,30.6 0 0 1 418.77,331.34" stroke-opacity="0.24"/><path d="M419.25,331.58A30.6,30.6 0 0 1 415.13,329.11" stroke-opacity="0.34"/><path d="M415.57,329.42A30.6,30.6 0 0 1 411.84,326.4" stroke-opacity="0.44"/><path d="M412.23,326.76A30.6,30.6 0 0 1 408.95,323.25" stroke-opacity="0.52"/><path d="M409.29,323.66A30.6,30.6 0 0 1 406.53,319.73" stroke-opacity="0.54"/><path d="M406.81,320.19A30.6,30.6 0 0 1 404.63,315.91" stroke-opacity="0.52"/><path d="M404.84,316.4A30.6,30.6 0 0 1 403.27,311.86" stroke-opacity="0.44"/><path d="M403.41,312.38A30.6,30.6 0 0 1 402.5,307.66" stroke-opacity="0.34"/><path d="M402.56,308.19A30.6,30.6 0 0 1 402.31,303.4" stroke-opacity="0.24"/><path d="M402.3,303.93A30.6,30.6 0 0 1 402.72,299.15" stroke-opacity="0.15"/><path d="M402.64,299.68A30.6,30.6 0 0 1 403.72,295" stroke-opacity="0.09"/><path d="M403.56,295.51A30.6,30.6 0 0 1 405.28,291.03" stroke-opacity="0.04"/><path d="M436.37,340.23A36.2,36.2 0 0 1 430.69,340.33" stroke-opacity="0.03"/><path d="M431.32,340.37A36.2,36.2 0 0 1 425.68,339.67" stroke-opacity="0.06"/><path d="M426.3,339.79A36.2,36.2 0 0 1 420.82,338.32" stroke-opacity="0.1"/><path d="M421.41,338.53A36.2,36.2 0 0 1 416.18,336.31" stroke-opacity="0.16"/><path d="M416.75,336.6A36.2,36.2 0 0 1 411.88,333.67" stroke-opacity="0.23"/><path d="M412.4,334.03A36.2,36.2 0 0 1 407.98,330.46" stroke-opacity="0.3"/><path d="M408.44,330.89A36.2,36.2 0 0 1 404.57,326.74" stroke-opacity="0.35"/><path d="M404.97,327.23A36.2,36.2 0 0 1 401.71,322.57" stroke-opacity="0.37"/><path d="M402.03,323.11A36.2,36.2 0 0 1 399.46,318.05" stroke-opacity="0.35"/><path d="M399.7,318.63A36.2,36.2 0 0 1 397.85,313.26" stroke-opacity="0.3"/><path d="M398.02,313.87A36.2,36.2 0 0 1 396.93,308.3" stroke-opacity="0.23"/><path d="M397.01,308.93A36.2,36.2 0 0 1 396.71,303.25" stroke-opacity="0.16"/><path d="M396.7,303.88A36.2,36.2 0 0 1 397.2,298.23" stroke-opacity="0.1"/><path d="M397.1,298.85A36.2,36.2 0 0 1 398.38,293.31" stroke-opacity="0.06"/><path d="M398.19,293.92A36.2,36.2 0 0 1 400.23,288.62" stroke-opacity="0.03"/><path d="M431.08,345.96A41.8,41.8 0 0 1 424.57,345.16" stroke-opacity="0.04"/><path d="M425.28,345.3A41.8,41.8 0 0 1 418.95,343.6" stroke-opacity="0.07"/><path d="M419.64,343.84A41.8,41.8 0 0 1 413.6,341.28" stroke-opacity="0.11"/><path d="M414.25,341.61A41.8,41.8 0 0 1 408.63,338.23" stroke-opacity="0.16"/><path d="M409.22,338.65A41.8,41.8 0 0 1 404.13,334.52" stroke-opacity="0.21"/><path d="M404.66,335.02A41.8,41.8 0 0 1 400.19,330.22" stroke-opacity="0.24"/><path d="M400.65,330.79A41.8,41.8 0 0 1 396.88,325.42" stroke-opacity="0.25"/><path d="M397.26,326.04A41.8,41.8 0 0 1 394.28,320.2" stroke-opacity="0.24"/><path d="M394.57,320.87A41.8,41.8 0 0 1 392.43,314.67" stroke-opacity="0.21"/><path d="M392.62,315.37A41.8,41.8 0 0 1 391.37,308.93" stroke-opacity="0.16"/><path d="M391.46,309.66A41.8,41.8 0 0 1 391.11,303.11" stroke-opacity="0.11"/><path d="M391.1,303.84A41.8,41.8 0 0 1 391.67,297.3" stroke-opacity="0.07"/><path d="M391.56,298.02A41.8,41.8 0 0 1 393.03,291.63" stroke-opacity="0.04"/><path d="M424.26,350.81A47.4,47.4 0 0 1 417.08,348.88" stroke-opacity="0.05"/><path d="M417.86,349.15A47.4,47.4 0 0 1 411.01,346.24" stroke-opacity="0.08"/><path d="M411.75,346.62A47.4,47.4 0 0 1 405.37,342.79" stroke-opacity="0.11"/><path d="M406.05,343.26A47.4,47.4 0 0 1 400.27,338.58" stroke-opacity="0.14"/><path d="M400.88,339.15A47.4,47.4 0 0 1 395.8,333.71" stroke-opacity="0.16"/><path d="M396.32,334.35A47.4,47.4 0 0 1 392.06,328.26" stroke-opacity="0.17"/><path d="M392.48,328.97A47.4,47.4 0 0 1 389.11,322.34" stroke-opacity="0.16"/><path d="M389.43,323.1A47.4,47.4 0 0 1 387.01,316.07" stroke-opacity="0.14"/><path d="M387.22,316.87A47.4,47.4 0 0 1 385.8,309.57" stroke-opacity="0.11"/><path d="M385.91,310.39A47.4,47.4 0 0 1 385.52,302.96" stroke-opacity="0.08"/><path d="M385.5,303.79A47.4,47.4 0 0 1 386.15,296.38" stroke-opacity="0.05"/></g>
<g filter="url(#bl14)"><ellipse cx="432.9" cy="304.2" rx="7.45" ry="7.4" fill="none" stroke="#fff" stroke-width="7.1" stroke-opacity="0.31"/><path d="M427.06,308.11 426.86,307.81 426.68,307.5 426.52,307.17 426.37,306.84 426.24,306.5 426.13,306.16 426.04,305.81 425.96,305.46 425.91,305.1 425.87,304.74 425.85,304.38 425.85,304.02 425.87,303.66 425.91,303.3 425.96,302.94 426.04,302.59 426.13,302.24 426.24,301.9 426.37,301.56 426.52,301.23 426.68,300.9 426.86,300.59 427.06,300.29" fill="none" stroke="#fff" stroke-width="5.5" stroke-opacity="0.5" stroke-linecap="round"/><path d="M426.2,306.36 426.14,306.18 426.09,306 426.04,305.81 426,305.62 425.96,305.44 425.93,305.25 425.9,305.06 425.88,304.87 425.87,304.68 425.86,304.49 425.85,304.3 425.85,304.1 425.86,303.91 425.87,303.72 425.88,303.53 425.9,303.34 425.93,303.15 425.96,302.96 426,302.78 426.04,302.59 426.09,302.4 426.14,302.22 426.2,302.04" fill="none" stroke="#fff" stroke-width="4.5" stroke-opacity="0.32" stroke-linecap="round"/><ellipse cx="432.9" cy="304.2" rx="6.1" ry="6.05" fill="#000" fill-opacity="1"/></g>
</g></g>
<circle cx="436.8" cy="301.6" r="19.5" fill="none" stroke="#22c4f4" stroke-width="2.3" stroke-linecap="round" stroke-dasharray="0.01 3.59"/>
<text x="398.5" y="274.7" class="cn">⑦</text>
<rect class="sb" x="442" y="331.8" width="25.6" height="1.9"/>
<g clip-path="url(#cd7)"><g filter="url(#hot)">
<rect x="479" y="262.5" width="75" height="74.5" fill="#080808"/>
<circle cx="522" cy="301" r="75" fill="url(#rp7)"/>
<g fill="none" stroke="#fff" stroke-width="2.3" filter="url(#bl08)"><path d="M536.28,281.71A24,24 0 0 1 539.12,284.18" stroke-opacity="0.03"/><path d="M538.82,283.88A24,24 0 0 1 541.29,286.72" stroke-opacity="0.07"/><path d="M541.04,286.39A24,24 0 0 1 543.09,289.55" stroke-opacity="0.13"/><path d="M542.89,289.18A24,24 0 0 1 544.48,292.6" stroke-opacity="0.22"/><path d="M544.33,292.2A24,24 0 0 1 545.43,295.81" stroke-opacity="0.35"/><path d="M545.34,295.4A24,24 0 0 1 545.93,299.12" stroke-opacity="0.5"/><path d="M545.89,298.7A24,24 0 0 1 545.96,302.47" stroke-opacity="0.65"/><path d="M545.98,302.05A24,24 0 0 1 545.52,305.78" stroke-opacity="0.76"/><path d="M545.6,305.37A24,24 0 0 1 544.62,309.01" stroke-opacity="0.8"/><path d="M544.76,308.62A24,24 0 0 1 543.29,312.08" stroke-opacity="0.76"/><path d="M543.48,311.71A24,24 0 0 1 541.54,314.94" stroke-opacity="0.65"/><path d="M541.78,314.59A24,24 0 0 1 539.41,317.52" stroke-opacity="0.5"/><path d="M539.69,317.21A24,24 0 0 1 536.94,319.78" stroke-opacity="0.35"/><path d="M537.27,319.52A24,24 0 0 1 534.18,321.68" stroke-opacity="0.22"/><path d="M534.54,321.46A24,24 0 0 1 531.18,323.17" stroke-opacity="0.13"/><path d="M531.57,323.01A24,24 0 0 1 528.01,324.24" stroke-opacity="0.07"/><path d="M528.41,324.13A24,24 0 0 1 524.72,324.85" stroke-opacity="0.03"/><path d="M542.75,279.89A29.6,29.6 0 0 1 545.79,283.39" stroke-opacity="0.04"/><path d="M545.48,282.98A29.6,29.6 0 0 1 548.01,286.88" stroke-opacity="0.09"/><path d="M547.76,286.42A29.6,29.6 0 0 1 549.73,290.63" stroke-opacity="0.15"/><path d="M549.54,290.15A29.6,29.6 0 0 1 550.9,294.59" stroke-opacity="0.24"/><path d="M550.78,294.09A29.6,29.6 0 0 1 551.51,298.68" stroke-opacity="0.34"/><path d="M551.46,298.16A29.6,29.6 0 0 1 551.54,302.81" stroke-opacity="0.44"/><path d="M551.57,302.29A29.6,29.6 0 0 1 551.01,306.9" stroke-opacity="0.52"/><path d="M551.1,306.39A29.6,29.6 0 0 1 549.9,310.88" stroke-opacity="0.54"/><path d="M550.07,310.39A29.6,29.6 0 0 1 548.26,314.67" stroke-opacity="0.52"/><path d="M548.49,314.21A29.6,29.6 0 0 1 546.1,318.19" stroke-opacity="0.44"/><path d="M546.39,317.77A29.6,29.6 0 0 1 543.47,321.38" stroke-opacity="0.34"/><path d="M543.82,321A29.6,29.6 0 0 1 540.43,324.17" stroke-opacity="0.24"/><path d="M540.83,323.84A29.6,29.6 0 0 1 537.02,326.5" stroke-opacity="0.15"/><path d="M537.47,326.24A29.6,29.6 0 0 1 533.33,328.35" stroke-opacity="0.09"/><path d="M533.8,328.14A29.6,29.6 0 0 1 529.41,329.66" stroke-opacity="0.04"/><path d="M546.67,275.89A35.2,35.2 0 0 1 550.3,280.06" stroke-opacity="0.03"/><path d="M549.93,279.57A35.2,35.2 0 0 1 552.93,284.2" stroke-opacity="0.06"/><path d="M552.64,283.67A35.2,35.2 0 0 1 554.97,288.67" stroke-opacity="0.1"/><path d="M554.75,288.1A35.2,35.2 0 0 1 556.37,293.38" stroke-opacity="0.16"/><path d="M556.23,292.78A35.2,35.2 0 0 1 557.09,298.24" stroke-opacity="0.23"/><path d="M557.04,297.63A35.2,35.2 0 0 1 557.13,303.15" stroke-opacity="0.3"/><path d="M557.17,302.54A35.2,35.2 0 0 1 556.49,308.02" stroke-opacity="0.35"/><path d="M556.61,307.41A35.2,35.2 0 0 1 555.18,312.75" stroke-opacity="0.37"/><path d="M555.38,312.17A35.2,35.2 0 0 1 553.22,317.25" stroke-opacity="0.35"/><path d="M553.5,316.71A35.2,35.2 0 0 1 550.66,321.44" stroke-opacity="0.3"/><path d="M551.01,320.94A35.2,35.2 0 0 1 547.53,325.23" stroke-opacity="0.23"/><path d="M547.95,324.78A35.2,35.2 0 0 1 543.91,328.55" stroke-opacity="0.16"/><path d="M544.39,328.16A35.2,35.2 0 0 1 539.87,331.33" stroke-opacity="0.1"/><path d="M540.39,331.01A35.2,35.2 0 0 1 535.47,333.52" stroke-opacity="0.06"/><path d="M536.04,333.28A35.2,35.2 0 0 1 530.81,335.08" stroke-opacity="0.03"/><path d="M554.37,276.16A40.8,40.8 0 0 1 557.86,281.53" stroke-opacity="0.04"/><path d="M557.51,280.91A40.8,40.8 0 0 1 560.22,286.71" stroke-opacity="0.07"/><path d="M559.96,286.05A40.8,40.8 0 0 1 561.83,292.17" stroke-opacity="0.11"/><path d="M561.67,291.48A40.8,40.8 0 0 1 562.67,297.8" stroke-opacity="0.16"/><path d="M562.61,297.09A40.8,40.8 0 0 1 562.72,303.49" stroke-opacity="0.21"/><path d="M562.76,302.78A40.8,40.8 0 0 1 561.98,309.13" stroke-opacity="0.24"/><path d="M562.12,308.44A40.8,40.8 0 0 1 560.46,314.62" stroke-opacity="0.25"/><path d="M560.69,313.95A40.8,40.8 0 0 1 558.19,319.84" stroke-opacity="0.24"/><path d="M558.51,319.2A40.8,40.8 0 0 1 555.22,324.69" stroke-opacity="0.21"/><path d="M555.62,324.11A40.8,40.8 0 0 1 551.6,329.08" stroke-opacity="0.16"/><path d="M552.08,328.56A40.8,40.8 0 0 1 547.4,332.93" stroke-opacity="0.11"/><path d="M547.95,332.48A40.8,40.8 0 0 1 542.71,336.15" stroke-opacity="0.07"/><path d="M543.32,335.79A40.8,40.8 0 0 1 537.61,338.69" stroke-opacity="0.04"/><path d="M562.38,278.15A46.4,46.4 0 0 1 565.46,284.75" stroke-opacity="0.05"/><path d="M565.17,283.99A46.4,46.4 0 0 1 567.3,290.96" stroke-opacity="0.08"/><path d="M567.12,290.17A46.4,46.4 0 0 1 568.26,297.36" stroke-opacity="0.11"/><path d="M568.19,296.55A46.4,46.4 0 0 1 568.31,303.83" stroke-opacity="0.14"/><path d="M568.36,303.02A46.4,46.4 0 0 1 567.47,310.25" stroke-opacity="0.16"/><path d="M567.62,309.46A46.4,46.4 0 0 1 565.74,316.49" stroke-opacity="0.17"/><path d="M566,315.72A46.4,46.4 0 0 1 563.16,322.43" stroke-opacity="0.16"/><path d="M563.52,321.7A46.4,46.4 0 0 1 559.77,327.94" stroke-opacity="0.14"/><path d="M560.24,327.28A46.4,46.4 0 0 1 555.66,332.94" stroke-opacity="0.11"/><path d="M556.21,332.35A46.4,46.4 0 0 1 550.88,337.31" stroke-opacity="0.08"/><path d="M551.51,336.8A46.4,46.4 0 0 1 545.55,340.98" stroke-opacity="0.05"/></g>
<g filter="url(#bl14)"><ellipse cx="522" cy="301" rx="7.9" ry="7.3" fill="none" stroke="#fff" stroke-width="7.1" stroke-opacity="0.31"/><path d="M528.07,305.06 527.83,305.34 527.58,305.61 527.32,305.87 527.04,306.11 526.74,306.35 526.44,306.56 526.12,306.77 525.79,306.95 525.45,307.13 525.1,307.28 524.75,307.42 524.38,307.54 524.01,307.65 523.64,307.73 523.26,307.8 522.87,307.85 522.49,307.89 522.1,307.9 521.72,307.9 521.33,307.87 520.94,307.83 520.56,307.77 520.19,307.7" fill="none" stroke="#fff" stroke-width="5.5" stroke-opacity="0.5" stroke-linecap="round"/><path d="M526.62,306.44 526.45,306.55 526.29,306.66 526.12,306.77 525.95,306.87 525.77,306.97 525.59,307.06 525.41,307.15 525.23,307.23 525.04,307.31 524.85,307.38 524.66,307.45 524.47,307.52 524.27,307.58 524.08,307.63 523.88,307.68 523.68,307.72 523.48,307.76 523.28,307.8 523.08,307.83 522.87,307.85 522.67,307.87 522.47,307.89 522.26,307.9" fill="none" stroke="#fff" stroke-width="4.5" stroke-opacity="0.32" stroke-linecap="round"/><ellipse cx="522" cy="301" rx="6.55" ry="5.95" fill="#000" fill-opacity="1"/></g>
</g></g>
<circle cx="517.2" cy="301.6" r="19" fill="none" stroke="#22c4f4" stroke-width="2.3" stroke-linecap="round" stroke-dasharray="0.01 3.5"/>
<text x="480.5" y="274.7" class="cn">⑧</text>
<rect class="sb" x="530.1" y="331.8" width="22" height="1.9"/>
<linearGradient id="cbjet" x1="0" y1="1" x2="0" y2="0"><stop offset="0" stop-color="#0000c8"/><stop offset="0.1" stop-color="#0000ff"/><stop offset="0.35" stop-color="#00ffff"/><stop offset="0.6" stop-color="#ffff00"/><stop offset="0.85" stop-color="#ff0000"/><stop offset="1" stop-color="#800000"/></linearGradient>
<linearGradient id="cbhot" x1="0" y1="1" x2="0" y2="0"><stop offset="0" stop-color="#000000"/><stop offset="0.4" stop-color="#ff0000"/><stop offset="0.8" stop-color="#ffff00"/><stop offset="1" stop-color="#ffff90"/></linearGradient>
<rect x="555.8" y="112.8" width="3.5" height="52.3" fill="url(#cbjet)"/>
<rect x="557.8" y="272" width="4" height="64.5" fill="url(#cbhot)"/>
<g font-family="Liberation Serif,serif" font-weight="bold" font-size="11" fill="#000"><text x="564.1" y="118" text-anchor="middle">1</text><text x="564.4" y="169.8" text-anchor="middle">0</text><text x="568" y="283.8" text-anchor="middle">1</text><text x="568.2" y="335.5" text-anchor="middle">0</text></g>
<g font-family="Liberation Serif,serif" font-weight="bold" font-size="10.6" fill="#fff"><text x="536.8" y="157.2" text-anchor="middle">2μm</text><text x="541.8" y="328" text-anchor="middle">5μm</text></g>
</svg>
<div class="bd" style="left:0;top:0;width:575px;height:2px"></div>
<div class="bd" style="left:0;top:0;width:2px;height:346px"></div>
<div class="bd" style="right:0;top:0;width:2px;height:346px"></div>
<div class="bd" style="left:0;bottom:0;width:575px;height:3px;background:linear-gradient(#04125c 0,#04125c 66%,#7d88bb 66%)"></div>
<div class="lbl" style="left:7.3px;top:-1.5px">a</div>
<div class="lbl" style="left:205.6px;top:-0.4px">b</div>
<div class="lbl" style="left:7.3px;top:166.6px">c</div>
<div class="lbl" style="left:206.6px;top:169.8px">d</div>
</div></body></html>
